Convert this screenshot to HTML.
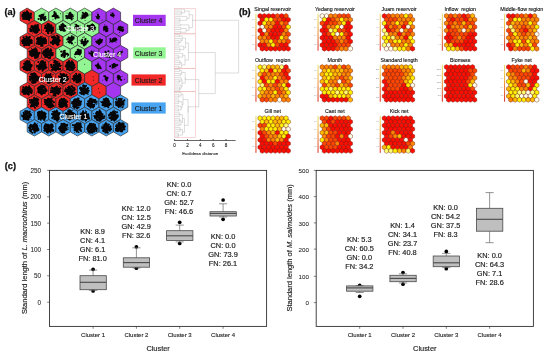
<!DOCTYPE html><html><head><meta charset="utf-8"><title>Figure</title><style>html,body{margin:0;padding:0;background:#fff}svg{display:block}text{font-family:"Liberation Sans",Arial,sans-serif}</style></head><body>
<svg width="550" height="355" viewBox="0 0 550 355">
<rect width="550" height="355" fill="#fff"/>
<g id="som">
<polygon points="27.18,8.10 34.37,12.20 34.37,20.40 27.18,24.50 20.00,20.40 20.00,12.20" fill="#f22828" stroke="#1e1e1e" stroke-width="0.6"/>
<polygon points="41.55,8.10 48.74,12.20 48.74,20.40 41.55,24.50 34.37,20.40 34.37,12.20" fill="#94f594" stroke="#1e1e1e" stroke-width="0.6"/>
<polygon points="55.92,8.10 63.11,12.20 63.11,20.40 55.92,24.50 48.74,20.40 48.74,12.20" fill="#94f594" stroke="#1e1e1e" stroke-width="0.6"/>
<polygon points="70.30,8.10 77.48,12.20 77.48,20.40 70.30,24.50 63.11,20.40 63.11,12.20" fill="#94f594" stroke="#1e1e1e" stroke-width="0.6"/>
<polygon points="84.66,8.10 91.85,12.20 91.85,20.40 84.66,24.50 77.48,20.40 77.48,12.20" fill="#94f594" stroke="#1e1e1e" stroke-width="0.6"/>
<polygon points="99.03,8.10 106.22,12.20 106.22,20.40 99.03,24.50 91.85,20.40 91.85,12.20" fill="#a436f0" stroke="#1e1e1e" stroke-width="0.6"/>
<polygon points="113.41,8.10 120.59,12.20 120.59,20.40 113.41,24.50 106.22,20.40 106.22,12.20" fill="#a436f0" stroke="#1e1e1e" stroke-width="0.6"/>
<polygon points="34.37,20.49 41.55,24.59 41.55,32.79 34.37,36.89 27.18,32.79 27.18,24.59" fill="#f22828" stroke="#1e1e1e" stroke-width="0.6"/>
<polygon points="48.74,20.49 55.93,24.59 55.93,32.79 48.74,36.89 41.55,32.79 41.55,24.59" fill="#f22828" stroke="#1e1e1e" stroke-width="0.6"/>
<polygon points="63.11,20.49 70.30,24.59 70.30,32.79 63.11,36.89 55.92,32.79 55.92,24.59" fill="#94f594" stroke="#1e1e1e" stroke-width="0.6"/>
<polygon points="77.48,20.49 84.67,24.59 84.67,32.79 77.48,36.89 70.30,32.79 70.30,24.59" fill="#94f594" stroke="#1e1e1e" stroke-width="0.6"/>
<polygon points="91.85,20.49 99.03,24.59 99.03,32.79 91.85,36.89 84.66,32.79 84.66,24.59" fill="#94f594" stroke="#1e1e1e" stroke-width="0.6"/>
<polygon points="106.22,20.49 113.41,24.59 113.41,32.79 106.22,36.89 99.03,32.79 99.03,24.59" fill="#a436f0" stroke="#1e1e1e" stroke-width="0.6"/>
<polygon points="120.59,20.49 127.78,24.59 127.78,32.79 120.59,36.89 113.41,32.79 113.41,24.59" fill="#a436f0" stroke="#1e1e1e" stroke-width="0.6"/>
<polygon points="27.18,32.88 34.37,36.98 34.37,45.18 27.18,49.28 20.00,45.18 20.00,36.98" fill="#f22828" stroke="#1e1e1e" stroke-width="0.6"/>
<polygon points="41.55,32.88 48.74,36.98 48.74,45.18 41.55,49.28 34.37,45.18 34.37,36.98" fill="#f22828" stroke="#1e1e1e" stroke-width="0.6"/>
<polygon points="55.92,32.88 63.11,36.98 63.11,45.18 55.92,49.28 48.74,45.18 48.74,36.98" fill="#f22828" stroke="#1e1e1e" stroke-width="0.6"/>
<polygon points="70.30,32.88 77.48,36.98 77.48,45.18 70.30,49.28 63.11,45.18 63.11,36.98" fill="#94f594" stroke="#1e1e1e" stroke-width="0.6"/>
<polygon points="84.66,32.88 91.85,36.98 91.85,45.18 84.66,49.28 77.48,45.18 77.48,36.98" fill="#94f594" stroke="#1e1e1e" stroke-width="0.6"/>
<polygon points="99.03,32.88 106.22,36.98 106.22,45.18 99.03,49.28 91.85,45.18 91.85,36.98" fill="#a436f0" stroke="#1e1e1e" stroke-width="0.6"/>
<polygon points="113.41,32.88 120.59,36.98 120.59,45.18 113.41,49.28 106.22,45.18 106.22,36.98" fill="#a436f0" stroke="#1e1e1e" stroke-width="0.6"/>
<polygon points="34.37,45.27 41.55,49.37 41.55,57.57 34.37,61.67 27.18,57.57 27.18,49.37" fill="#f22828" stroke="#1e1e1e" stroke-width="0.6"/>
<polygon points="48.74,45.27 55.93,49.37 55.93,57.57 48.74,61.67 41.55,57.57 41.55,49.37" fill="#f22828" stroke="#1e1e1e" stroke-width="0.6"/>
<polygon points="63.11,45.27 70.30,49.37 70.30,57.57 63.11,61.67 55.92,57.57 55.92,49.37" fill="#94f594" stroke="#1e1e1e" stroke-width="0.6"/>
<polygon points="77.48,45.27 84.67,49.37 84.67,57.57 77.48,61.67 70.30,57.57 70.30,49.37" fill="#94f594" stroke="#1e1e1e" stroke-width="0.6"/>
<polygon points="91.85,45.27 99.03,49.37 99.03,57.57 91.85,61.67 84.66,57.57 84.66,49.37" fill="#a436f0" stroke="#1e1e1e" stroke-width="0.6"/>
<polygon points="106.22,45.27 113.41,49.37 113.41,57.57 106.22,61.67 99.03,57.57 99.03,49.37" fill="#a436f0" stroke="#1e1e1e" stroke-width="0.6"/>
<polygon points="120.59,45.27 127.78,49.37 127.78,57.57 120.59,61.67 113.41,57.57 113.41,49.37" fill="#a436f0" stroke="#1e1e1e" stroke-width="0.6"/>
<polygon points="27.18,57.66 34.37,61.76 34.37,69.96 27.18,74.06 20.00,69.96 20.00,61.76" fill="#f22828" stroke="#1e1e1e" stroke-width="0.6"/>
<polygon points="41.55,57.66 48.74,61.76 48.74,69.96 41.55,74.06 34.37,69.96 34.37,61.76" fill="#f22828" stroke="#1e1e1e" stroke-width="0.6"/>
<polygon points="55.92,57.66 63.11,61.76 63.11,69.96 55.92,74.06 48.74,69.96 48.74,61.76" fill="#f22828" stroke="#1e1e1e" stroke-width="0.6"/>
<polygon points="70.30,57.66 77.48,61.76 77.48,69.96 70.30,74.06 63.11,69.96 63.11,61.76" fill="#f22828" stroke="#1e1e1e" stroke-width="0.6"/>
<polygon points="84.66,57.66 91.85,61.76 91.85,69.96 84.66,74.06 77.48,69.96 77.48,61.76" fill="#94f594" stroke="#1e1e1e" stroke-width="0.6"/>
<polygon points="99.03,57.66 106.22,61.76 106.22,69.96 99.03,74.06 91.85,69.96 91.85,61.76" fill="#a436f0" stroke="#1e1e1e" stroke-width="0.6"/>
<polygon points="113.41,57.66 120.59,61.76 120.59,69.96 113.41,74.06 106.22,69.96 106.22,61.76" fill="#a436f0" stroke="#1e1e1e" stroke-width="0.6"/>
<polygon points="34.37,70.05 41.55,74.15 41.55,82.35 34.37,86.45 27.18,82.35 27.18,74.15" fill="#f22828" stroke="#1e1e1e" stroke-width="0.6"/>
<polygon points="48.74,70.05 55.93,74.15 55.93,82.35 48.74,86.45 41.55,82.35 41.55,74.15" fill="#f22828" stroke="#1e1e1e" stroke-width="0.6"/>
<polygon points="63.11,70.05 70.30,74.15 70.30,82.35 63.11,86.45 55.92,82.35 55.92,74.15" fill="#f22828" stroke="#1e1e1e" stroke-width="0.6"/>
<polygon points="77.48,70.05 84.67,74.15 84.67,82.35 77.48,86.45 70.30,82.35 70.30,74.15" fill="#f22828" stroke="#1e1e1e" stroke-width="0.6"/>
<polygon points="91.85,70.05 99.03,74.15 99.03,82.35 91.85,86.45 84.66,82.35 84.66,74.15" fill="#f22828" stroke="#1e1e1e" stroke-width="0.6"/>
<polygon points="106.22,70.05 113.41,74.15 113.41,82.35 106.22,86.45 99.03,82.35 99.03,74.15" fill="#a436f0" stroke="#1e1e1e" stroke-width="0.6"/>
<polygon points="120.59,70.05 127.78,74.15 127.78,82.35 120.59,86.45 113.41,82.35 113.41,74.15" fill="#a436f0" stroke="#1e1e1e" stroke-width="0.6"/>
<polygon points="27.18,82.44 34.37,86.54 34.37,94.74 27.18,98.84 20.00,94.74 20.00,86.54" fill="#f22828" stroke="#1e1e1e" stroke-width="0.6"/>
<polygon points="41.55,82.44 48.74,86.54 48.74,94.74 41.55,98.84 34.37,94.74 34.37,86.54" fill="#f22828" stroke="#1e1e1e" stroke-width="0.6"/>
<polygon points="55.92,82.44 63.11,86.54 63.11,94.74 55.92,98.84 48.74,94.74 48.74,86.54" fill="#f22828" stroke="#1e1e1e" stroke-width="0.6"/>
<polygon points="70.30,82.44 77.48,86.54 77.48,94.74 70.30,98.84 63.11,94.74 63.11,86.54" fill="#f22828" stroke="#1e1e1e" stroke-width="0.6"/>
<polygon points="84.66,82.44 91.85,86.54 91.85,94.74 84.66,98.84 77.48,94.74 77.48,86.54" fill="#48a4f0" stroke="#1e1e1e" stroke-width="0.6"/>
<polygon points="99.03,82.44 106.22,86.54 106.22,94.74 99.03,98.84 91.85,94.74 91.85,86.54" fill="#f22828" stroke="#1e1e1e" stroke-width="0.6"/>
<polygon points="113.41,82.44 120.59,86.54 120.59,94.74 113.41,98.84 106.22,94.74 106.22,86.54" fill="#a436f0" stroke="#1e1e1e" stroke-width="0.6"/>
<polygon points="34.37,94.83 41.55,98.93 41.55,107.13 34.37,111.23 27.18,107.13 27.18,98.93" fill="#f22828" stroke="#1e1e1e" stroke-width="0.6"/>
<polygon points="48.74,94.83 55.93,98.93 55.93,107.13 48.74,111.23 41.55,107.13 41.55,98.93" fill="#f22828" stroke="#1e1e1e" stroke-width="0.6"/>
<polygon points="63.11,94.83 70.30,98.93 70.30,107.13 63.11,111.23 55.92,107.13 55.92,98.93" fill="#f22828" stroke="#1e1e1e" stroke-width="0.6"/>
<polygon points="77.48,94.83 84.67,98.93 84.67,107.13 77.48,111.23 70.30,107.13 70.30,98.93" fill="#48a4f0" stroke="#1e1e1e" stroke-width="0.6"/>
<polygon points="91.85,94.83 99.03,98.93 99.03,107.13 91.85,111.23 84.66,107.13 84.66,98.93" fill="#48a4f0" stroke="#1e1e1e" stroke-width="0.6"/>
<polygon points="106.22,94.83 113.41,98.93 113.41,107.13 106.22,111.23 99.03,107.13 99.03,98.93" fill="#48a4f0" stroke="#1e1e1e" stroke-width="0.6"/>
<polygon points="120.59,94.83 127.78,98.93 127.78,107.13 120.59,111.23 113.41,107.13 113.41,98.93" fill="#48a4f0" stroke="#1e1e1e" stroke-width="0.6"/>
<polygon points="27.18,107.22 34.37,111.32 34.37,119.52 27.18,123.62 20.00,119.52 20.00,111.32" fill="#48a4f0" stroke="#1e1e1e" stroke-width="0.6"/>
<polygon points="41.55,107.22 48.74,111.32 48.74,119.52 41.55,123.62 34.37,119.52 34.37,111.32" fill="#48a4f0" stroke="#1e1e1e" stroke-width="0.6"/>
<polygon points="55.92,107.22 63.11,111.32 63.11,119.52 55.92,123.62 48.74,119.52 48.74,111.32" fill="#48a4f0" stroke="#1e1e1e" stroke-width="0.6"/>
<polygon points="70.30,107.22 77.48,111.32 77.48,119.52 70.30,123.62 63.11,119.52 63.11,111.32" fill="#48a4f0" stroke="#1e1e1e" stroke-width="0.6"/>
<polygon points="84.66,107.22 91.85,111.32 91.85,119.52 84.66,123.62 77.48,119.52 77.48,111.32" fill="#48a4f0" stroke="#1e1e1e" stroke-width="0.6"/>
<polygon points="99.03,107.22 106.22,111.32 106.22,119.52 99.03,123.62 91.85,119.52 91.85,111.32" fill="#48a4f0" stroke="#1e1e1e" stroke-width="0.6"/>
<polygon points="113.41,107.22 120.59,111.32 120.59,119.52 113.41,123.62 106.22,119.52 106.22,111.32" fill="#48a4f0" stroke="#1e1e1e" stroke-width="0.6"/>
<polygon points="34.37,119.61 41.55,123.71 41.55,131.91 34.37,136.01 27.18,131.91 27.18,123.71" fill="#48a4f0" stroke="#1e1e1e" stroke-width="0.6"/>
<polygon points="48.74,119.61 55.93,123.71 55.93,131.91 48.74,136.01 41.55,131.91 41.55,123.71" fill="#48a4f0" stroke="#1e1e1e" stroke-width="0.6"/>
<polygon points="63.11,119.61 70.30,123.71 70.30,131.91 63.11,136.01 55.92,131.91 55.92,123.71" fill="#48a4f0" stroke="#1e1e1e" stroke-width="0.6"/>
<polygon points="77.48,119.61 84.67,123.71 84.67,131.91 77.48,136.01 70.30,131.91 70.30,123.71" fill="#48a4f0" stroke="#1e1e1e" stroke-width="0.6"/>
<polygon points="91.85,119.61 99.03,123.71 99.03,131.91 91.85,136.01 84.66,131.91 84.66,123.71" fill="#48a4f0" stroke="#1e1e1e" stroke-width="0.6"/>
<polygon points="106.22,119.61 113.41,123.71 113.41,131.91 106.22,136.01 99.03,131.91 99.03,123.71" fill="#48a4f0" stroke="#1e1e1e" stroke-width="0.6"/>
<polygon points="120.59,119.61 127.78,123.71 127.78,131.91 120.59,136.01 113.41,131.91 113.41,123.71" fill="#48a4f0" stroke="#1e1e1e" stroke-width="0.6"/>
<path fill="none" stroke="#060606" stroke-width="2.1" stroke-linecap="round" d="M27.6 14.8h0M28.7 14.8h0M25.3 16.8h0M30.3 17.1h0M24.7 13.3h0M26.3 15.4h0M25.7 15.3h0M23.7 15.0h0M26.6 14.7h0M27.5 17.0h0M23.7 14.4h0M22.5 14.9h0M29.3 14.7h0M29.1 20.1h0M26.1 18.8h0M23.6 17.0h0M25.5 15.7h0M29.6 14.7h0M30.1 17.5h0M28.1 13.6h0M28.8 17.0h0M31.1 17.6h0M23.5 13.9h0M29.4 14.9h0M25.2 15.9h0M26.9 13.2h0M25.5 15.9h0M26.8 17.3h0M23.1 14.5h0M26.0 13.5h0M28.4 16.6h0M26.8 17.3h0M25.3 14.4h0M26.9 12.9h0M30.9 14.6h0M24.9 17.5h0M25.7 16.9h0M25.9 16.3h0M29.9 17.9h0M30.6 14.7h0M27.8 18.4h0M30.6 14.8h0M29.4 17.9h0M24.8 16.1h0M27.1 11.4h0M25.9 12.8h0M29.5 15.1h0M31.0 13.5h0M26.4 14.9h0M27.6 19.1h0M24.7 13.1h0M27.2 14.1h0M23.2 18.7h0M22.7 16.0h0M27.8 12.9h0M25.1 14.3h0M26.7 13.4h0M28.2 16.5h0M25.5 18.5h0M27.0 15.7h0M24.9 19.0h0M29.0 17.7h0M26.3 15.0h0M26.6 12.9h0M28.4 16.6h0M30.6 16.5h0M25.0 12.8h0M26.5 15.7h0M26.9 14.6h0M27.5 15.4h0M22.5 15.8h0M28.4 12.9h0M28.1 14.9h0M23.5 12.9h0M29.4 18.7h0M30.8 17.4h0M22.5 16.4h0M28.7 16.5h0M29.5 17.5h0M27.8 15.2h0M30.7 15.2h0M26.5 19.0h0M25.1 15.7h0M43.8 19.5h0M44.5 20.1h0M43.2 18.8h0M41.5 18.1h0M42.1 16.7h0M41.8 17.2h0M40.6 15.5h0M45.3 16.8h0M43.3 18.0h0M42.4 15.7h0M38.6 19.0h0M42.1 18.1h0M39.5 15.9h0M44.7 18.1h0M42.4 16.4h0M45.5 18.6h0M40.9 19.1h0M42.0 18.1h0M42.2 18.0h0M43.3 17.5h0M41.1 20.0h0M41.0 17.1h0M43.5 17.3h0M41.9 14.8h0M42.9 15.3h0M43.1 15.5h0M43.5 14.6h0M40.7 18.0h0M42.6 17.6h0M56.7 15.9h0M56.6 15.7h0M56.1 15.1h0M55.0 16.4h0M54.7 14.9h0M57.7 17.4h0M54.0 15.0h0M54.9 15.4h0M55.8 15.1h0M55.7 13.8h0M55.0 14.1h0M54.7 15.3h0M54.9 14.1h0M54.7 14.1h0M55.3 13.9h0M57.6 16.1h0M54.4 12.1h0M55.7 16.1h0M56.7 15.5h0M55.6 15.9h0M55.3 17.0h0M58.5 17.3h0M56.9 16.9h0M52.6 16.3h0M55.5 18.4h0M54.3 14.5h0M58.3 17.4h0M57.4 16.5h0M54.2 15.0h0M54.6 13.9h0M53.6 16.0h0M56.2 16.5h0M55.0 14.6h0M55.1 16.4h0M55.1 16.4h0M66.2 16.1h0M71.7 19.4h0M67.3 17.5h0M68.9 16.6h0M68.8 17.4h0M70.5 15.6h0M69.4 14.8h0M67.0 18.1h0M72.0 14.8h0M69.4 16.6h0M68.9 15.3h0M68.2 16.6h0M69.9 14.3h0M69.6 14.4h0M68.5 15.7h0M71.1 15.3h0M71.7 18.6h0M71.3 14.9h0M68.4 16.7h0M69.4 13.7h0M69.7 17.9h0M71.2 17.6h0M66.5 16.0h0M68.1 16.5h0M67.7 16.9h0M70.5 17.9h0M67.5 18.2h0M72.8 16.4h0M69.5 14.9h0M69.5 14.1h0M67.9 18.0h0M70.3 12.9h0M70.8 15.1h0M68.2 16.6h0M70.4 15.9h0M69.8 13.1h0M68.9 16.1h0M71.3 15.2h0M66.8 16.9h0M70.7 13.8h0M70.1 15.6h0M70.4 16.0h0M72.0 16.6h0M84.3 17.0h0M82.8 12.7h0M85.0 16.5h0M84.5 14.0h0M82.5 15.3h0M84.8 17.7h0M84.9 15.7h0M82.7 16.5h0M85.6 12.8h0M85.4 14.3h0M85.0 14.0h0M83.8 15.3h0M82.8 16.5h0M85.8 16.6h0M85.7 15.2h0M86.4 15.9h0M86.8 13.6h0M86.2 14.7h0M87.3 14.3h0M84.1 14.0h0M84.4 16.2h0M84.6 16.8h0M83.0 17.7h0M84.4 15.5h0M82.3 17.9h0M82.6 17.9h0M82.4 16.9h0M85.3 15.4h0M86.0 14.7h0M86.0 14.4h0M87.0 14.7h0M84.6 13.9h0M87.6 15.4h0M98.5 18.4h0M99.1 16.7h0M98.2 16.3h0M98.4 17.3h0M97.1 16.7h0M98.1 16.9h0M97.2 17.9h0M98.0 14.8h0M113.0 16.0h0M112.7 13.5h0M113.8 15.4h0M112.1 15.2h0M112.1 15.4h0M111.9 15.4h0M112.2 15.8h0M111.1 15.1h0M30.2 29.0h0M35.5 27.9h0M36.1 29.4h0M36.7 26.2h0M31.9 26.3h0M33.9 29.3h0M34.8 31.8h0M35.0 28.7h0M34.1 26.8h0M36.2 32.7h0M36.0 28.8h0M31.4 27.2h0M36.9 31.7h0M34.4 30.4h0M33.6 31.4h0M30.4 30.9h0M33.7 29.6h0M34.9 28.6h0M30.6 30.5h0M37.0 26.4h0M38.1 28.6h0M35.8 27.7h0M32.8 30.5h0M34.2 31.3h0M37.2 30.2h0M36.5 27.9h0M37.8 26.3h0M37.3 32.1h0M30.8 31.1h0M35.6 29.9h0M32.4 28.0h0M34.9 32.4h0M38.0 29.1h0M32.2 26.4h0M33.9 30.8h0M31.5 30.0h0M34.3 28.5h0M33.0 28.4h0M35.4 25.5h0M33.7 28.5h0M33.8 28.8h0M34.1 28.2h0M38.5 30.4h0M34.0 28.2h0M35.5 26.7h0M37.2 32.2h0M37.0 29.2h0M35.4 27.0h0M36.4 27.4h0M32.6 28.2h0M35.5 29.7h0M35.1 27.1h0M33.3 26.5h0M31.7 27.1h0M31.3 31.1h0M38.2 28.1h0M35.1 25.5h0M34.8 27.5h0M34.8 31.9h0M31.6 26.3h0M35.5 28.3h0M32.8 26.5h0M35.9 27.5h0M34.5 27.8h0M34.1 29.3h0M35.4 31.6h0M35.9 31.7h0M35.5 29.2h0M37.9 25.1h0M34.8 28.7h0M32.7 27.4h0M32.3 27.8h0M39.0 29.9h0M46.4 28.0h0M49.9 28.1h0M48.1 27.6h0M52.6 29.9h0M51.7 30.3h0M46.2 31.0h0M50.8 25.9h0M48.7 28.6h0M50.9 28.1h0M49.6 26.1h0M47.4 28.0h0M51.8 31.1h0M53.1 28.1h0M51.5 31.6h0M49.7 29.0h0M49.1 26.9h0M45.1 27.8h0M49.1 24.4h0M49.0 30.5h0M52.8 31.0h0M47.5 28.9h0M47.6 26.9h0M48.8 31.2h0M53.3 30.0h0M49.4 25.0h0M47.9 33.0h0M52.2 29.3h0M48.1 28.8h0M47.8 23.7h0M48.3 31.5h0M47.9 33.0h0M48.3 29.7h0M52.1 27.8h0M51.6 32.8h0M49.2 30.3h0M49.3 25.6h0M47.8 28.2h0M48.9 25.8h0M47.4 30.3h0M47.4 28.2h0M45.5 26.4h0M52.4 29.4h0M51.0 26.5h0M47.6 31.4h0M48.9 30.6h0M46.4 25.4h0M48.5 33.2h0M45.8 25.8h0M48.3 25.1h0M48.0 27.2h0M50.3 30.5h0M48.8 30.0h0M51.0 29.0h0M51.0 28.7h0M47.9 25.2h0M51.2 25.4h0M51.7 26.0h0M49.2 30.4h0M47.1 29.5h0M50.6 27.4h0M48.6 27.1h0M48.4 28.7h0M45.0 28.2h0M50.9 27.2h0M48.9 30.6h0M50.7 28.1h0M50.7 26.2h0M48.5 28.7h0M47.3 30.5h0M61.4 28.6h0M62.1 28.7h0M62.7 23.8h0M63.5 30.6h0M63.1 28.6h0M63.8 25.6h0M61.8 27.3h0M61.5 29.6h0M63.7 26.0h0M62.1 27.5h0M61.0 30.2h0M62.0 28.6h0M63.0 27.8h0M62.7 28.9h0M61.2 27.9h0M62.1 26.4h0M63.3 27.3h0M65.3 26.1h0M64.0 25.7h0M66.9 28.0h0M62.9 28.5h0M63.2 30.5h0M64.9 30.6h0M64.6 30.7h0M63.4 25.3h0M63.7 24.7h0M62.2 25.8h0M59.8 29.0h0M62.8 28.9h0M62.3 27.7h0M64.1 29.2h0M59.7 26.9h0M63.9 26.2h0M61.3 25.0h0M61.4 26.0h0M79.3 29.3h0M77.7 25.9h0M77.0 29.4h0M78.6 28.4h0M75.9 28.0h0M78.3 26.9h0M76.5 28.0h0M77.1 27.1h0M75.8 27.4h0M76.7 28.4h0M78.1 26.3h0M79.1 28.6h0M76.7 28.6h0M76.1 24.9h0M79.5 28.5h0M78.4 30.0h0M76.7 28.3h0M80.6 28.2h0M76.4 30.3h0M77.5 28.3h0M75.4 27.1h0M75.4 28.0h0M77.6 26.3h0M76.8 28.3h0M78.9 30.2h0M78.9 28.8h0M76.1 26.7h0M91.7 24.9h0M91.1 27.0h0M90.7 25.8h0M91.5 27.8h0M91.5 27.1h0M91.1 26.7h0M90.6 27.8h0M89.4 26.9h0M93.3 30.4h0M89.6 25.7h0M88.8 29.9h0M91.7 25.4h0M92.0 26.3h0M94.7 27.3h0M90.5 29.6h0M89.2 29.8h0M93.9 25.7h0M92.7 27.8h0M88.3 26.0h0M94.6 28.7h0M92.9 26.0h0M93.2 25.1h0M92.7 26.9h0M88.1 26.7h0M89.0 26.0h0M91.6 29.2h0M91.8 25.8h0M92.3 24.8h0M87.7 25.9h0M89.1 27.5h0M91.7 28.9h0M90.7 26.1h0M89.4 29.1h0M93.3 29.4h0M92.6 29.9h0M90.8 27.7h0M95.0 27.6h0M89.9 27.2h0M105.9 26.6h0M107.5 28.7h0M106.7 28.6h0M106.7 29.4h0M105.1 28.9h0M104.7 27.8h0M106.3 29.0h0M104.0 29.5h0M104.3 27.0h0M105.6 27.2h0M107.4 30.7h0M105.5 29.6h0M106.2 31.2h0M103.9 28.0h0M106.6 26.7h0M104.7 26.9h0M119.3 27.8h0M120.0 28.6h0M120.1 27.9h0M120.2 27.5h0M123.2 29.9h0M120.0 30.3h0M122.7 27.6h0M120.9 29.2h0M122.4 30.4h0M121.7 27.5h0M118.8 27.8h0M121.3 27.5h0M119.8 27.5h0M120.1 28.4h0M120.2 26.9h0M121.4 30.2h0M119.7 28.9h0M120.6 28.9h0M121.1 27.7h0M120.6 29.3h0M118.2 29.3h0M122.5 30.9h0M122.8 29.9h0M119.9 27.4h0M27.5 40.3h0M27.6 38.6h0M31.8 40.9h0M27.9 43.5h0M27.5 44.3h0M28.7 45.0h0M27.1 41.9h0M24.4 38.9h0M27.8 44.4h0M28.1 37.6h0M30.8 42.6h0M26.6 40.0h0M24.2 45.3h0M26.3 40.9h0M28.1 43.1h0M30.0 41.0h0M25.4 40.7h0M26.2 38.3h0M31.8 42.9h0M23.6 41.0h0M26.3 40.7h0M27.1 42.5h0M30.2 43.2h0M30.4 41.3h0M22.7 40.3h0M29.7 37.8h0M29.0 43.0h0M26.5 42.2h0M29.1 43.6h0M28.9 43.7h0M29.3 45.2h0M24.6 42.7h0M24.1 40.4h0M27.2 38.5h0M25.3 43.3h0M27.3 40.1h0M23.4 42.6h0M25.8 40.7h0M26.2 40.9h0M31.3 40.0h0M23.5 37.3h0M27.3 40.4h0M26.4 44.9h0M26.8 44.1h0M28.9 40.2h0M26.0 39.8h0M29.9 40.0h0M23.6 41.6h0M27.8 41.9h0M24.9 42.1h0M29.6 42.6h0M24.1 38.7h0M28.1 44.9h0M23.3 39.8h0M26.0 42.7h0M24.2 40.7h0M29.3 41.1h0M27.0 44.3h0M27.0 39.3h0M28.8 38.8h0M24.6 42.7h0M28.3 42.1h0M26.7 39.3h0M24.4 44.1h0M29.7 36.9h0M26.5 36.5h0M22.2 41.6h0M28.0 40.2h0M31.3 41.0h0M22.7 43.2h0M24.7 39.2h0M22.7 42.0h0M24.2 43.0h0M24.7 45.1h0M23.9 40.9h0M26.3 42.3h0M25.8 40.3h0M24.5 45.5h0M28.5 40.4h0M27.1 40.7h0M23.9 39.6h0M27.3 37.6h0M37.9 41.0h0M42.1 42.2h0M38.0 43.3h0M38.2 39.1h0M43.1 42.2h0M43.1 41.9h0M40.2 39.4h0M43.8 39.9h0M39.4 38.9h0M42.6 45.7h0M44.1 42.1h0M38.3 39.6h0M41.2 40.7h0M40.6 38.1h0M40.4 41.6h0M42.7 41.3h0M37.0 39.1h0M40.0 40.9h0M40.2 40.2h0M40.7 41.0h0M43.8 40.1h0M37.5 42.8h0M40.1 38.2h0M41.4 42.9h0M38.1 37.7h0M42.7 41.6h0M42.9 41.2h0M41.3 40.3h0M41.4 42.6h0M40.1 40.2h0M43.0 39.1h0M41.2 45.8h0M44.5 42.4h0M39.2 39.8h0M41.2 40.5h0M42.5 41.7h0M46.1 41.2h0M39.9 42.6h0M39.5 43.9h0M36.7 43.4h0M39.3 42.7h0M39.6 41.7h0M41.9 39.4h0M42.3 43.7h0M38.8 40.1h0M41.4 43.2h0M38.6 42.8h0M40.5 43.5h0M43.5 38.3h0M44.4 40.9h0M44.2 40.8h0M40.1 40.9h0M40.8 40.1h0M40.9 37.0h0M41.0 39.7h0M40.4 37.5h0M41.5 42.5h0M46.0 43.1h0M41.4 39.5h0M42.9 42.0h0M39.5 42.3h0M38.1 41.7h0M38.5 44.1h0M41.7 40.7h0M42.2 40.4h0M40.9 44.2h0M40.2 38.9h0M37.7 42.6h0M41.1 38.0h0M44.1 39.9h0M38.5 41.0h0M39.8 38.3h0M44.3 43.5h0M45.1 38.2h0M43.3 41.5h0M41.8 43.8h0M43.7 40.2h0M37.7 40.9h0M39.3 39.0h0M42.2 44.3h0M41.8 38.3h0M45.4 39.7h0M41.9 42.2h0M41.4 42.8h0M42.3 42.9h0M40.5 40.0h0M38.6 41.2h0M44.9 41.1h0M39.0 38.2h0M40.5 38.0h0M40.5 40.1h0M44.5 39.7h0M45.7 40.4h0M42.2 44.4h0M40.6 41.0h0M40.9 42.1h0M42.6 40.7h0M39.5 40.2h0M43.8 41.7h0M37.4 41.3h0M41.2 39.2h0M56.1 41.3h0M56.8 39.0h0M52.5 37.0h0M57.9 44.7h0M55.6 38.6h0M56.7 38.8h0M53.3 40.0h0M55.7 41.6h0M52.4 37.4h0M54.2 40.8h0M54.8 40.3h0M57.1 43.2h0M56.3 41.2h0M57.2 44.6h0M58.4 36.6h0M53.8 41.8h0M53.0 40.6h0M52.2 42.3h0M56.9 40.0h0M52.6 42.0h0M56.0 41.8h0M52.3 37.6h0M54.1 37.7h0M54.4 39.1h0M56.1 40.4h0M54.5 38.3h0M54.4 38.7h0M53.0 42.4h0M54.7 41.6h0M58.2 38.8h0M56.9 39.3h0M53.8 40.5h0M53.9 40.2h0M58.0 42.8h0M58.0 42.1h0M50.9 42.7h0M54.7 36.6h0M59.8 40.6h0M56.9 38.6h0M58.9 40.0h0M58.6 44.2h0M55.9 43.3h0M54.2 39.8h0M55.0 38.2h0M51.9 37.2h0M55.6 38.5h0M53.7 36.5h0M52.8 43.8h0M55.5 40.1h0M58.3 42.7h0M55.6 42.5h0M57.5 38.0h0M56.9 41.0h0M57.0 43.8h0M54.7 38.5h0M57.9 38.6h0M54.9 42.1h0M58.9 37.5h0M57.6 45.1h0M53.4 42.6h0M57.1 38.7h0M54.9 40.2h0M57.2 41.2h0M52.4 41.5h0M55.5 41.0h0M55.4 41.3h0M56.5 40.8h0M54.7 39.0h0M53.7 40.8h0M58.9 41.5h0M58.7 37.7h0M54.1 39.0h0M57.1 35.8h0M54.8 38.8h0M55.5 37.8h0M53.8 43.4h0M57.8 41.7h0M58.6 40.6h0M55.8 42.7h0M55.9 41.1h0M53.0 41.6h0M55.2 42.3h0M55.0 42.9h0M58.7 39.2h0M57.1 43.9h0M52.9 44.3h0M56.3 40.1h0M57.3 39.6h0M57.2 41.0h0M55.2 39.1h0M56.7 44.1h0M54.7 39.5h0M59.1 40.0h0M56.8 42.1h0M58.3 38.2h0M56.2 43.0h0M54.1 38.7h0M69.9 42.8h0M68.4 41.7h0M71.3 40.4h0M67.3 39.4h0M69.9 41.5h0M71.8 39.3h0M69.8 39.5h0M71.9 38.1h0M69.3 37.8h0M70.4 37.7h0M69.5 39.8h0M70.2 39.8h0M72.2 40.0h0M70.3 39.4h0M72.0 43.4h0M68.5 38.1h0M73.7 37.3h0M69.2 39.8h0M71.9 43.5h0M70.9 39.8h0M73.6 38.6h0M71.3 42.0h0M69.0 42.2h0M71.4 40.2h0M71.1 42.0h0M69.6 40.8h0M72.1 39.8h0M71.2 40.2h0M71.0 41.9h0M72.4 39.8h0M71.8 36.4h0M85.6 44.5h0M85.2 44.5h0M84.0 45.4h0M86.0 42.5h0M82.8 42.3h0M85.4 41.8h0M85.4 43.5h0M82.6 42.4h0M85.6 44.5h0M85.1 43.1h0M85.3 41.0h0M87.7 41.1h0M83.5 43.1h0M84.2 42.2h0M81.6 43.3h0M86.7 42.1h0M81.3 41.2h0M87.7 41.5h0M82.3 42.9h0M85.6 41.6h0M82.8 42.5h0M86.4 42.0h0M83.6 44.6h0M83.8 43.2h0M85.6 39.0h0M86.6 42.8h0M82.2 39.9h0M83.8 41.9h0M85.1 40.0h0M85.1 41.9h0M98.2 40.3h0M99.2 43.4h0M101.5 41.3h0M98.9 42.6h0M100.1 43.0h0M98.7 41.8h0M100.0 39.9h0M97.3 42.2h0M96.3 41.6h0M99.0 44.2h0M98.7 43.4h0M100.1 39.2h0M100.4 40.5h0M100.5 42.5h0M99.9 39.9h0M100.7 41.1h0M100.5 42.1h0M99.0 40.9h0M97.2 42.7h0M100.0 42.5h0M99.6 42.0h0M97.7 42.4h0M101.4 42.1h0M102.1 40.0h0M110.9 40.8h0M112.6 41.2h0M114.8 38.5h0M114.3 40.4h0M111.4 41.1h0M113.9 38.6h0M112.9 39.4h0M115.2 40.8h0M113.4 39.3h0M116.4 39.7h0M110.4 39.1h0M113.8 41.1h0M114.0 40.7h0M110.5 41.1h0M113.8 39.0h0M116.0 38.7h0M113.1 40.7h0M114.6 40.2h0M115.4 38.6h0M114.1 39.2h0M112.1 41.7h0M114.6 39.4h0M38.2 56.0h0M37.1 53.7h0M34.8 56.0h0M34.9 55.5h0M30.4 52.2h0M35.8 55.3h0M32.8 51.9h0M35.8 53.3h0M33.2 53.3h0M33.2 51.7h0M37.0 51.0h0M34.3 55.8h0M32.2 52.9h0M35.2 56.8h0M32.1 50.2h0M36.3 52.5h0M33.3 50.0h0M35.2 53.5h0M34.5 52.8h0M32.7 54.0h0M37.6 52.9h0M34.0 51.8h0M36.3 57.8h0M37.5 57.2h0M33.8 53.4h0M34.1 52.0h0M33.5 49.5h0M32.9 53.1h0M33.6 50.6h0M34.6 54.4h0M35.0 58.0h0M31.9 54.3h0M35.4 52.8h0M30.4 54.8h0M35.4 49.8h0M33.6 55.2h0M35.4 55.1h0M33.7 51.9h0M35.1 55.4h0M36.5 54.0h0M35.1 56.9h0M36.8 54.7h0M35.3 48.4h0M34.9 55.3h0M30.7 51.4h0M30.2 54.2h0M36.9 51.6h0M33.3 52.9h0M34.7 54.7h0M35.3 55.4h0M33.1 55.5h0M36.4 49.6h0M30.4 54.6h0M35.5 55.5h0M37.4 54.2h0M33.4 51.1h0M37.7 55.2h0M32.0 56.2h0M37.8 53.5h0M33.6 55.2h0M34.4 54.8h0M32.2 52.9h0M33.6 53.1h0M36.1 52.8h0M39.6 53.0h0M32.5 53.0h0M34.9 53.9h0M33.8 51.8h0M35.5 54.2h0M36.8 53.4h0M36.7 55.4h0M33.4 52.0h0M34.7 50.5h0M34.7 52.6h0M35.6 54.4h0M35.2 55.3h0M34.4 50.2h0M38.5 54.3h0M32.8 53.3h0M34.5 51.8h0M32.8 49.9h0M32.1 53.1h0M33.6 52.9h0M36.5 54.2h0M35.2 50.8h0M32.4 53.5h0M34.0 54.2h0M35.1 49.9h0M31.6 55.7h0M30.2 53.1h0M32.3 50.6h0M35.2 49.1h0M35.3 52.0h0M29.6 51.5h0M33.0 51.3h0M34.6 51.2h0M49.2 50.7h0M46.1 53.7h0M45.3 56.9h0M48.0 54.1h0M47.4 50.5h0M48.7 51.9h0M52.7 54.3h0M49.1 58.3h0M50.2 51.5h0M51.1 52.3h0M50.0 57.4h0M48.2 53.1h0M50.8 52.1h0M48.2 55.4h0M43.6 51.5h0M47.8 52.2h0M46.4 50.1h0M44.5 52.6h0M45.9 53.1h0M52.7 54.7h0M45.7 52.1h0M51.4 50.5h0M50.4 53.6h0M45.5 51.4h0M45.0 55.7h0M47.4 57.2h0M45.7 52.4h0M45.6 49.5h0M47.5 51.2h0M44.1 51.0h0M47.5 54.2h0M49.3 52.0h0M49.3 55.0h0M47.5 55.4h0M49.8 52.7h0M49.8 52.5h0M47.1 53.5h0M46.3 54.6h0M48.1 54.8h0M43.7 54.5h0M48.6 50.9h0M48.4 50.3h0M46.3 49.4h0M47.4 56.5h0M48.4 52.4h0M46.1 52.1h0M48.1 54.9h0M44.3 51.8h0M44.4 55.4h0M47.0 56.4h0M45.7 50.2h0M46.9 55.2h0M47.3 54.4h0M45.3 52.5h0M49.3 52.3h0M50.6 54.1h0M50.5 50.1h0M45.6 54.9h0M50.7 49.4h0M50.4 56.1h0M42.9 53.1h0M48.1 48.5h0M49.2 52.2h0M47.3 49.8h0M51.4 54.5h0M48.0 54.8h0M51.4 55.2h0M49.0 50.8h0M52.5 55.2h0M51.8 53.2h0M48.1 53.9h0M44.0 51.5h0M48.8 52.0h0M46.7 51.4h0M46.7 52.4h0M49.5 57.7h0M47.7 52.9h0M51.2 53.6h0M51.5 54.4h0M46.1 51.8h0M46.7 52.1h0M52.8 53.0h0M46.9 53.3h0M46.6 49.5h0M47.4 54.4h0M47.9 54.7h0M63.5 51.4h0M64.1 54.6h0M63.5 51.7h0M63.3 55.2h0M65.6 54.2h0M64.8 55.9h0M64.7 52.4h0M64.9 55.0h0M64.6 52.3h0M64.6 55.0h0M62.7 54.2h0M68.1 54.9h0M63.8 52.5h0M64.6 53.5h0M64.6 56.7h0M67.5 54.5h0M63.5 54.4h0M63.3 54.2h0M61.2 51.6h0M63.2 53.3h0M65.5 53.3h0M63.2 53.8h0M61.6 55.0h0M63.5 52.4h0M63.9 53.7h0M61.7 56.0h0M64.2 57.0h0M63.0 54.5h0M63.5 53.9h0M65.4 54.2h0M64.8 50.9h0M64.0 53.8h0M67.3 53.8h0M65.3 54.7h0M64.5 57.1h0M77.3 52.7h0M79.3 51.2h0M75.9 52.8h0M78.3 52.2h0M76.8 52.4h0M80.7 52.9h0M79.5 50.2h0M79.8 54.4h0M77.4 53.1h0M76.7 52.4h0M77.7 49.7h0M79.3 53.7h0M78.2 51.9h0M80.8 52.4h0M78.8 53.2h0M76.5 51.7h0M76.3 54.0h0M80.3 51.5h0M80.7 51.2h0M80.5 53.3h0M75.1 54.2h0M79.7 52.2h0M78.1 54.1h0M77.8 53.4h0M80.4 52.5h0M78.3 49.8h0M78.1 51.5h0M77.8 53.0h0M80.8 50.4h0M78.4 50.1h0M92.1 55.4h0M92.4 56.0h0M91.9 54.5h0M91.1 54.0h0M92.0 54.1h0M90.5 53.5h0M91.8 54.8h0M91.6 51.6h0M93.5 53.1h0M92.6 53.9h0M91.7 53.8h0M92.6 53.5h0M89.5 53.3h0M93.1 52.6h0M93.1 52.8h0M92.7 53.5h0M91.7 54.4h0M91.7 55.3h0M91.5 54.3h0M92.7 53.4h0M106.3 53.8h0M105.5 51.9h0M106.8 55.5h0M106.1 53.4h0M108.4 51.4h0M107.0 55.1h0M108.9 54.7h0M106.2 53.9h0M107.0 56.6h0M107.5 54.6h0M106.6 54.4h0M107.3 53.7h0M106.2 54.0h0M105.8 53.0h0M106.2 55.3h0M108.2 54.0h0M105.8 56.0h0M109.4 57.1h0M105.6 56.2h0M107.3 54.8h0M119.3 53.6h0M120.2 53.2h0M121.9 52.0h0M118.7 54.0h0M120.5 53.2h0M118.7 52.9h0M118.9 53.9h0M120.2 52.3h0M117.8 55.5h0M118.3 54.2h0M120.3 55.1h0M119.2 54.5h0M117.8 55.4h0M119.1 53.3h0M119.0 54.8h0M118.1 54.1h0M118.1 55.3h0M27.3 68.6h0M29.3 61.2h0M27.2 65.3h0M27.9 62.4h0M25.9 67.6h0M27.1 66.4h0M25.5 63.0h0M30.0 66.1h0M23.1 67.3h0M31.8 65.2h0M26.8 67.3h0M28.8 66.1h0M26.5 65.9h0M29.7 62.8h0M25.4 66.2h0M28.8 66.1h0M26.6 62.9h0M27.7 70.3h0M28.6 62.9h0M25.2 65.2h0M25.7 65.1h0M25.7 69.3h0M26.5 66.3h0M27.8 64.1h0M27.6 67.1h0M31.0 65.1h0M23.4 67.5h0M28.1 65.3h0M28.0 67.0h0M26.0 67.2h0M26.5 62.9h0M24.5 65.8h0M25.5 67.9h0M24.5 67.1h0M24.0 68.9h0M25.9 64.0h0M27.2 70.2h0M30.7 67.1h0M25.3 69.2h0M29.4 64.2h0M30.3 65.3h0M30.0 68.7h0M26.8 63.6h0M28.2 65.0h0M29.8 63.7h0M24.9 66.3h0M25.3 65.3h0M25.7 69.7h0M25.6 62.2h0M29.8 68.0h0M25.9 65.3h0M24.1 63.7h0M29.4 63.1h0M29.7 66.8h0M27.5 65.1h0M25.4 64.5h0M31.5 66.6h0M28.9 66.7h0M29.7 70.3h0M27.4 66.3h0M28.7 66.7h0M29.3 66.8h0M27.3 61.1h0M29.0 65.0h0M28.1 66.1h0M30.6 69.3h0M26.1 65.8h0M31.6 65.6h0M28.7 63.8h0M29.4 66.0h0M26.5 66.0h0M28.1 63.4h0M28.7 62.9h0M24.9 66.3h0M28.9 65.2h0M23.6 66.9h0M25.3 65.5h0M27.5 66.3h0M28.3 69.4h0M27.9 67.2h0M29.8 66.8h0M26.4 62.5h0M28.2 63.6h0M26.0 69.6h0M26.8 67.8h0M28.9 68.8h0M29.4 66.2h0M26.5 61.2h0M25.4 66.1h0M42.5 62.0h0M45.8 67.2h0M42.9 65.3h0M44.7 64.8h0M41.5 65.3h0M43.9 63.0h0M40.4 65.7h0M40.9 62.0h0M44.9 63.9h0M41.1 63.8h0M39.8 64.4h0M38.4 68.8h0M40.7 65.5h0M45.4 64.4h0M42.0 67.5h0M41.9 63.4h0M42.7 61.9h0M36.8 66.2h0M41.9 65.3h0M43.3 62.4h0M40.2 64.5h0M43.9 62.9h0M41.8 65.9h0M39.3 69.5h0M42.4 66.1h0M42.1 68.0h0M43.7 65.2h0M40.2 67.1h0M45.5 66.2h0M42.2 62.7h0M43.2 62.7h0M42.9 64.9h0M40.7 68.6h0M39.8 66.7h0M40.9 62.3h0M43.0 65.0h0M42.5 61.1h0M43.9 63.7h0M43.0 61.3h0M44.4 65.0h0M41.7 61.2h0M41.2 66.6h0M39.4 68.4h0M46.4 67.5h0M40.7 68.5h0M38.4 62.0h0M40.8 68.0h0M41.6 63.6h0M44.2 67.0h0M43.5 65.4h0M44.1 63.2h0M38.7 66.7h0M41.0 68.8h0M45.3 68.5h0M44.0 66.7h0M41.6 64.5h0M44.0 67.1h0M44.7 65.7h0M37.6 66.1h0M44.1 63.5h0M45.3 66.3h0M44.2 68.0h0M44.5 66.9h0M44.1 62.8h0M42.4 68.6h0M42.1 67.3h0M43.1 66.1h0M40.3 64.8h0M41.2 65.3h0M42.4 62.9h0M42.5 64.3h0M43.9 67.6h0M42.8 70.5h0M38.9 65.7h0M45.1 62.3h0M39.4 65.0h0M42.6 67.4h0M38.5 68.0h0M42.5 70.8h0M39.8 66.7h0M40.5 66.4h0M43.2 67.4h0M44.0 62.3h0M39.8 66.2h0M38.9 66.4h0M42.0 68.2h0M42.8 66.4h0M39.8 69.2h0M40.1 63.7h0M41.1 65.7h0M38.8 66.3h0M43.7 68.9h0M45.5 66.0h0M40.7 63.7h0M40.2 65.1h0M43.5 68.5h0M41.5 67.2h0M45.1 65.4h0M56.2 64.1h0M54.1 67.5h0M53.9 65.5h0M56.4 64.7h0M57.4 66.2h0M56.3 64.7h0M57.6 66.6h0M54.8 60.7h0M58.1 64.8h0M55.8 61.2h0M59.9 68.7h0M57.0 66.4h0M54.9 62.7h0M56.6 67.3h0M58.4 65.6h0M55.8 67.7h0M59.6 65.8h0M56.4 67.2h0M55.7 65.1h0M55.5 65.4h0M56.6 62.9h0M58.2 63.7h0M58.5 64.4h0M56.9 68.1h0M60.2 66.1h0M55.6 65.9h0M52.7 67.8h0M55.5 63.5h0M54.9 68.1h0M59.4 63.5h0M54.1 69.7h0M54.7 65.1h0M53.9 66.1h0M58.3 69.3h0M58.5 64.2h0M56.8 65.5h0M57.4 67.1h0M57.6 64.1h0M55.6 69.9h0M58.1 67.6h0M56.6 69.4h0M52.1 69.9h0M58.4 65.9h0M57.3 62.1h0M57.4 64.1h0M54.6 66.2h0M58.1 68.9h0M58.8 65.7h0M58.2 68.5h0M55.8 70.4h0M54.8 66.1h0M56.3 65.6h0M52.0 66.7h0M58.7 69.4h0M56.9 68.6h0M56.2 64.2h0M59.9 65.2h0M51.1 65.0h0M60.2 69.1h0M54.1 62.3h0M51.4 67.0h0M57.1 65.3h0M53.5 65.1h0M57.6 68.1h0M55.6 68.3h0M56.1 62.7h0M57.6 64.4h0M57.1 65.8h0M58.2 65.5h0M55.6 66.5h0M57.2 67.4h0M51.1 64.7h0M53.7 68.5h0M57.6 65.6h0M56.1 66.1h0M56.6 68.8h0M73.2 63.1h0M67.4 69.1h0M71.4 68.8h0M71.5 64.6h0M72.5 68.1h0M73.8 64.5h0M70.5 65.6h0M69.0 63.0h0M72.4 63.6h0M70.3 65.2h0M72.6 66.6h0M67.9 67.4h0M68.3 65.2h0M73.6 68.7h0M68.6 68.9h0M66.9 65.7h0M69.6 63.7h0M70.1 65.5h0M67.0 69.3h0M67.5 64.1h0M69.6 70.3h0M69.3 66.6h0M74.1 67.7h0M69.2 64.1h0M71.0 65.1h0M73.1 64.1h0M74.3 65.4h0M71.9 61.3h0M70.7 65.8h0M69.9 63.9h0M70.1 67.5h0M68.0 66.2h0M68.7 61.9h0M67.1 67.5h0M68.5 67.2h0M69.5 66.3h0M70.5 64.8h0M71.5 66.3h0M68.1 63.7h0M69.9 66.9h0M67.2 64.5h0M72.5 66.8h0M71.6 65.9h0M69.0 61.0h0M74.2 67.8h0M72.3 70.1h0M70.6 64.2h0M70.5 66.9h0M68.1 66.5h0M68.8 63.9h0M70.3 64.5h0M68.6 69.0h0M69.9 62.2h0M71.7 62.8h0M71.1 69.8h0M67.8 68.4h0M67.0 62.9h0M72.7 66.0h0M72.0 66.2h0M67.9 63.5h0M65.7 66.3h0M66.6 64.8h0M70.2 65.0h0M68.1 69.3h0M72.6 62.4h0M72.1 67.0h0M69.7 63.6h0M73.3 66.0h0M67.4 67.2h0M70.6 63.3h0M69.0 61.3h0M71.3 66.7h0M71.3 66.0h0M70.8 66.9h0M69.3 63.2h0M99.9 67.4h0M98.6 66.0h0M96.5 65.5h0M96.9 66.1h0M98.6 65.2h0M100.4 68.1h0M98.4 64.9h0M98.1 68.2h0M99.8 66.6h0M97.9 64.2h0M98.5 66.1h0M97.1 66.2h0M98.2 64.4h0M99.0 67.0h0M97.6 66.3h0M95.9 65.5h0M97.5 67.6h0M113.0 64.7h0M113.1 65.4h0M112.4 65.0h0M114.9 65.7h0M114.2 64.1h0M117.2 65.1h0M112.5 67.7h0M113.7 65.4h0M114.8 65.4h0M115.7 65.9h0M110.2 66.3h0M112.9 66.6h0M113.8 65.3h0M113.1 65.7h0M113.3 67.0h0M114.2 66.8h0M115.3 64.7h0M32.1 82.4h0M33.2 79.0h0M33.0 75.7h0M34.9 82.6h0M35.6 75.9h0M36.2 78.4h0M32.8 74.6h0M32.7 78.4h0M32.0 75.0h0M33.5 77.0h0M35.8 80.8h0M33.1 77.6h0M33.4 77.2h0M33.0 75.2h0M35.0 74.8h0M29.9 79.8h0M34.4 75.6h0M39.1 77.2h0M37.2 80.3h0M35.9 75.3h0M36.5 76.3h0M33.2 75.1h0M36.7 78.5h0M37.6 79.6h0M35.5 79.9h0M37.2 77.9h0M34.2 76.2h0M37.3 76.6h0M35.3 77.0h0M30.0 79.1h0M34.2 73.2h0M33.5 75.7h0M31.4 77.9h0M34.5 73.8h0M33.3 79.5h0M34.0 74.3h0M32.9 77.8h0M31.4 78.6h0M35.7 82.0h0M34.8 77.0h0M32.5 75.9h0M32.8 77.2h0M39.0 78.1h0M36.0 75.2h0M33.5 77.1h0M33.1 83.0h0M32.3 73.8h0M36.5 79.6h0M35.5 79.5h0M33.3 79.0h0M32.9 77.3h0M31.7 77.4h0M34.6 77.7h0M34.6 78.8h0M31.5 76.7h0M34.8 75.9h0M34.9 81.4h0M32.4 80.2h0M32.0 75.0h0M30.4 76.8h0M34.4 79.2h0M36.9 79.6h0M33.5 80.8h0M35.4 74.1h0M34.5 78.4h0M37.5 80.6h0M36.2 78.0h0M34.5 75.4h0M32.7 79.5h0M37.3 77.1h0M30.4 79.8h0M32.8 78.3h0M36.4 76.4h0M31.7 77.0h0M34.5 81.3h0M36.6 79.3h0M34.8 78.0h0M31.1 74.4h0M35.9 79.7h0M34.2 76.4h0M32.3 75.0h0M32.3 78.9h0M33.7 79.2h0M33.4 82.5h0M29.9 76.8h0M34.3 77.1h0M49.6 80.9h0M46.6 80.3h0M50.4 75.3h0M46.1 80.4h0M47.5 77.3h0M48.1 82.9h0M49.7 78.3h0M46.5 74.4h0M44.8 79.8h0M49.5 75.8h0M50.6 74.1h0M49.0 77.2h0M45.2 78.1h0M45.5 77.1h0M46.9 77.1h0M47.5 76.4h0M50.7 79.9h0M49.8 82.8h0M47.8 76.3h0M51.4 78.6h0M45.4 77.1h0M51.2 79.9h0M47.3 79.8h0M48.2 80.3h0M51.3 76.7h0M47.2 77.1h0M49.2 76.9h0M51.9 81.5h0M48.5 82.1h0M50.4 81.4h0M49.2 76.7h0M46.2 77.7h0M51.1 77.5h0M50.0 81.7h0M50.7 77.9h0M46.7 79.7h0M50.6 80.5h0M48.1 78.0h0M48.3 77.3h0M49.8 80.3h0M50.9 76.5h0M50.0 81.1h0M43.8 78.9h0M50.7 80.7h0M50.2 79.0h0M50.4 77.6h0M45.5 79.5h0M48.9 81.5h0M45.5 80.0h0M47.1 78.7h0M48.2 77.9h0M49.0 74.9h0M50.2 80.2h0M46.5 78.7h0M47.6 76.3h0M49.4 80.1h0M51.5 79.1h0M50.6 78.6h0M50.5 77.5h0M46.0 79.5h0M45.6 78.9h0M48.1 76.8h0M48.6 74.5h0M49.2 79.8h0M49.6 80.3h0M48.0 78.3h0M49.1 77.4h0M49.3 78.4h0M48.6 75.3h0M48.9 79.5h0M46.8 79.4h0M48.0 78.6h0M49.4 78.2h0M47.1 78.9h0M53.4 79.0h0M50.5 76.0h0M47.9 79.0h0M47.6 78.0h0M47.1 75.7h0M48.2 78.2h0M44.6 79.0h0M47.6 81.4h0M45.7 76.1h0M47.6 78.4h0M48.1 77.7h0M49.2 82.8h0M63.4 77.7h0M63.8 76.5h0M63.8 82.1h0M61.5 76.9h0M67.4 77.1h0M63.3 81.3h0M60.7 82.0h0M59.2 76.7h0M65.2 78.5h0M64.6 77.7h0M60.7 80.2h0M65.3 79.2h0M64.7 79.9h0M62.1 77.7h0M61.9 78.2h0M64.0 76.7h0M63.9 76.6h0M66.4 74.8h0M63.7 74.0h0M61.7 74.8h0M61.4 77.5h0M61.9 77.9h0M64.7 77.1h0M62.7 77.2h0M63.5 76.2h0M62.4 82.5h0M63.8 76.9h0M67.0 80.1h0M62.7 77.4h0M60.6 73.9h0M62.6 78.5h0M63.5 82.7h0M63.9 75.3h0M65.0 80.0h0M62.4 82.3h0M62.3 80.1h0M61.4 76.1h0M63.2 79.4h0M63.4 76.8h0M66.1 78.1h0M65.8 80.8h0M66.5 76.6h0M61.2 78.1h0M65.8 77.0h0M65.0 76.4h0M68.0 79.0h0M60.0 81.6h0M63.3 75.5h0M64.7 82.5h0M61.4 80.1h0M62.5 79.2h0M60.0 77.9h0M65.8 78.0h0M61.9 79.0h0M60.6 76.6h0M63.2 80.5h0M63.5 79.1h0M60.8 81.9h0M63.6 82.6h0M60.3 77.6h0M66.6 79.8h0M62.9 79.2h0M62.2 76.8h0M62.6 78.3h0M61.8 76.9h0M63.4 79.9h0M64.3 75.8h0M60.6 82.0h0M61.8 76.2h0M59.8 77.6h0M62.3 79.8h0M65.9 78.5h0M64.1 74.4h0M63.7 82.1h0M62.9 76.0h0M59.1 76.3h0M63.7 77.9h0M60.0 81.0h0M64.4 82.5h0M63.3 75.4h0M63.5 76.6h0M65.2 78.3h0M63.6 74.8h0M62.8 74.6h0M60.0 77.5h0M63.9 80.3h0M65.1 79.6h0M61.9 77.6h0M66.3 81.1h0M64.8 79.4h0M62.6 83.4h0M62.4 82.3h0M76.1 76.9h0M78.6 78.1h0M75.9 76.8h0M76.4 78.9h0M75.0 78.5h0M77.6 77.8h0M76.0 77.2h0M77.1 82.2h0M77.3 80.3h0M76.1 78.3h0M72.5 78.7h0M80.6 79.7h0M74.6 78.2h0M76.8 79.3h0M74.4 78.7h0M80.6 77.5h0M78.7 80.4h0M75.4 77.4h0M73.1 79.0h0M77.4 78.0h0M75.7 78.6h0M80.9 77.8h0M79.0 78.1h0M76.6 79.6h0M74.1 77.2h0M78.3 79.0h0M76.3 81.7h0M75.5 78.9h0M79.1 74.3h0M78.0 79.9h0M76.0 77.7h0M80.6 79.9h0M77.7 77.9h0M74.6 78.0h0M76.3 76.9h0M74.7 80.1h0M77.0 81.1h0M78.5 77.1h0M75.0 75.8h0M75.1 78.7h0M73.9 80.0h0M80.1 78.2h0M80.1 74.5h0M80.0 81.6h0M77.7 76.1h0M78.3 79.1h0M76.6 79.3h0M75.8 78.1h0M78.0 79.3h0M77.4 79.2h0M79.6 80.0h0M74.0 80.7h0M79.6 81.3h0M76.6 78.6h0M77.9 80.6h0M77.0 75.9h0M77.3 76.3h0M80.3 77.4h0M77.0 77.8h0M80.5 78.6h0M79.4 79.2h0M78.9 79.2h0M76.0 78.3h0M76.4 81.6h0M76.8 79.5h0M77.9 79.6h0M76.1 77.9h0M76.1 73.8h0M76.0 76.2h0M78.5 79.5h0M77.9 76.3h0M78.9 75.1h0M78.1 82.3h0M73.6 76.4h0M77.4 77.2h0M79.8 78.6h0M75.8 79.1h0M80.1 80.3h0M76.9 75.6h0M77.2 77.6h0M79.1 78.7h0M78.6 81.0h0M75.3 79.2h0M79.3 76.2h0M79.2 78.2h0M76.3 76.1h0M76.3 82.1h0M74.8 76.5h0M80.1 75.8h0M78.2 76.6h0M78.7 78.3h0M105.1 76.2h0M106.6 78.1h0M105.9 77.2h0M106.6 80.4h0M106.6 78.8h0M105.6 79.0h0M104.3 76.3h0M107.5 77.9h0M118.2 75.8h0M119.1 76.4h0M118.2 78.9h0M120.0 77.0h0M121.2 80.0h0M118.5 78.3h0M119.9 78.8h0M117.7 77.2h0M119.2 77.5h0M29.1 92.2h0M25.6 89.0h0M23.3 87.3h0M24.8 90.7h0M29.5 89.0h0M24.9 93.2h0M29.4 90.1h0M28.2 93.0h0M28.4 91.5h0M29.1 86.3h0M25.4 90.9h0M25.0 88.4h0M28.2 93.4h0M27.8 92.9h0M26.1 92.6h0M27.7 87.9h0M22.9 92.0h0M26.9 87.7h0M29.1 88.5h0M28.2 92.8h0M28.1 91.1h0M29.4 89.9h0M26.9 91.8h0M26.7 92.2h0M26.5 90.3h0M26.6 89.8h0M30.7 92.3h0M26.0 88.7h0M24.6 89.4h0M31.5 93.1h0M25.6 87.4h0M28.3 90.1h0M25.6 90.6h0M27.1 92.7h0M28.0 89.9h0M29.6 87.6h0M31.5 90.0h0M27.9 89.3h0M22.8 89.3h0M29.6 91.5h0M26.0 90.0h0M25.7 89.0h0M23.9 89.9h0M22.2 91.6h0M26.4 90.7h0M29.4 89.5h0M25.4 92.0h0M25.3 88.7h0M23.8 90.3h0M24.5 92.0h0M26.2 87.8h0M26.0 89.4h0M27.1 93.2h0M26.8 91.4h0M30.8 88.7h0M26.3 86.7h0M25.9 89.8h0M28.5 88.9h0M29.0 90.2h0M26.3 90.9h0M24.5 93.5h0M25.3 93.9h0M23.7 93.7h0M28.6 89.4h0M27.5 89.6h0M31.8 91.6h0M27.5 93.9h0M27.5 93.5h0M25.4 93.7h0M23.1 90.1h0M29.8 92.4h0M24.5 93.2h0M27.0 88.6h0M26.8 91.4h0M29.9 92.1h0M23.6 91.8h0M25.0 90.5h0M31.0 89.8h0M28.5 88.7h0M28.7 94.6h0M29.1 90.0h0M22.5 91.6h0M38.5 92.2h0M42.7 90.3h0M42.9 91.8h0M46.0 90.5h0M41.2 90.7h0M41.8 93.9h0M41.8 91.3h0M43.0 91.5h0M43.8 90.1h0M39.9 90.6h0M40.8 88.1h0M42.0 91.5h0M41.4 86.4h0M44.0 93.0h0M38.5 90.8h0M39.3 88.5h0M38.2 91.1h0M44.9 90.2h0M42.1 94.0h0M41.6 94.4h0M40.4 93.2h0M42.5 90.3h0M40.9 90.6h0M40.3 89.0h0M39.1 88.0h0M41.5 90.1h0M43.7 90.8h0M42.0 89.1h0M39.0 92.4h0M45.3 88.2h0M41.9 90.9h0M39.7 87.0h0M43.9 90.6h0M41.6 90.1h0M44.8 93.1h0M42.7 85.7h0M42.7 90.4h0M43.0 87.5h0M42.3 89.3h0M42.1 85.6h0M46.1 89.9h0M42.6 90.1h0M41.8 92.7h0M42.4 90.3h0M40.5 87.2h0M40.1 92.7h0M44.0 86.8h0M38.6 92.2h0M43.4 91.6h0M45.5 91.6h0M40.1 89.1h0M43.2 87.0h0M39.0 89.3h0M43.0 89.7h0M40.6 90.3h0M38.5 89.6h0M38.1 88.5h0M42.1 87.8h0M46.2 89.7h0M42.9 91.5h0M41.9 90.7h0M43.6 90.4h0M41.5 90.5h0M41.6 92.7h0M40.0 92.1h0M43.8 86.6h0M43.4 90.4h0M39.7 90.8h0M42.6 89.5h0M40.3 89.8h0M38.6 87.6h0M39.6 88.5h0M46.6 90.8h0M42.4 89.7h0M42.7 92.5h0M44.6 86.5h0M37.9 88.5h0M40.6 91.2h0M42.1 91.6h0M39.1 87.4h0M44.2 86.8h0M39.9 90.0h0M42.1 91.2h0M44.4 87.8h0M42.2 93.8h0M42.7 90.5h0M40.6 89.7h0M41.7 93.9h0M38.5 91.9h0M46.1 90.0h0M40.7 86.6h0M45.9 89.5h0M38.9 89.1h0M55.3 91.3h0M53.5 90.4h0M54.7 90.9h0M53.4 91.6h0M53.1 90.3h0M59.0 91.2h0M55.2 93.2h0M55.5 87.8h0M57.1 90.9h0M53.9 92.8h0M58.4 90.2h0M59.3 90.0h0M56.8 88.7h0M58.8 90.0h0M59.6 92.6h0M54.4 89.1h0M54.3 92.4h0M56.0 92.9h0M57.0 90.7h0M56.0 89.8h0M56.5 86.8h0M56.9 88.1h0M53.7 91.1h0M54.9 90.8h0M58.1 88.4h0M57.4 93.2h0M57.3 92.1h0M55.2 87.7h0M55.8 92.2h0M53.2 89.4h0M58.3 94.0h0M53.9 95.4h0M53.5 92.7h0M54.5 91.2h0M51.1 90.3h0M54.8 90.1h0M57.0 89.5h0M56.6 91.3h0M58.1 90.4h0M58.8 91.5h0M58.5 92.8h0M53.4 95.2h0M56.6 91.7h0M55.4 94.5h0M56.8 86.5h0M59.2 90.7h0M56.0 92.2h0M55.5 90.6h0M52.3 87.9h0M57.1 92.0h0M56.8 91.4h0M56.6 87.7h0M59.1 90.0h0M52.5 92.2h0M54.6 89.5h0M54.4 93.5h0M58.8 91.2h0M51.7 88.0h0M54.2 89.2h0M52.5 90.6h0M56.0 87.7h0M55.6 95.8h0M57.5 90.1h0M55.3 90.4h0M54.7 88.7h0M55.1 89.4h0M56.6 87.0h0M57.1 91.9h0M59.4 91.5h0M58.7 89.3h0M52.6 91.4h0M58.1 90.8h0M53.5 88.6h0M59.7 88.8h0M59.7 91.6h0M53.9 88.3h0M50.9 92.3h0M57.0 91.2h0M54.2 90.4h0M60.4 88.4h0M56.1 89.8h0M56.6 88.6h0M70.9 91.8h0M68.0 89.7h0M72.4 90.7h0M71.3 86.2h0M72.1 93.4h0M69.6 92.6h0M72.0 89.8h0M71.3 92.7h0M67.0 93.9h0M75.0 92.8h0M71.0 91.6h0M72.4 90.9h0M72.7 90.1h0M71.0 94.1h0M66.4 91.6h0M73.6 94.0h0M68.8 91.2h0M68.0 87.7h0M70.0 93.9h0M68.1 93.0h0M69.0 91.4h0M73.8 90.5h0M72.0 86.4h0M70.2 91.3h0M66.1 89.4h0M69.8 93.6h0M69.3 91.2h0M70.7 91.6h0M72.6 87.0h0M73.6 91.4h0M68.3 93.8h0M71.8 92.1h0M72.2 92.9h0M74.9 89.5h0M69.5 87.5h0M68.5 87.3h0M72.3 90.7h0M70.7 88.5h0M71.2 95.2h0M69.7 87.6h0M71.7 94.7h0M70.6 90.9h0M70.7 93.0h0M68.8 90.7h0M69.1 92.2h0M66.0 91.4h0M67.0 91.3h0M66.1 91.8h0M71.7 91.6h0M65.6 89.5h0M67.9 87.7h0M71.0 93.9h0M69.5 91.3h0M74.3 88.1h0M73.3 90.4h0M68.9 90.9h0M69.6 88.7h0M70.7 90.2h0M68.9 86.6h0M70.9 93.1h0M70.9 89.5h0M71.7 90.0h0M68.6 89.2h0M68.1 89.7h0M72.7 90.5h0M67.8 91.2h0M73.3 88.1h0M72.6 87.1h0M66.3 91.8h0M70.2 89.8h0M65.0 91.1h0M66.1 89.8h0M72.4 92.0h0M71.9 89.7h0M70.6 90.9h0M71.5 93.2h0M71.0 93.2h0M69.9 93.1h0M85.0 88.9h0M85.6 90.7h0M84.4 86.5h0M82.5 90.1h0M84.5 91.6h0M87.4 89.8h0M82.0 90.0h0M84.0 89.5h0M81.8 89.4h0M84.8 89.7h0M84.7 86.5h0M85.0 89.9h0M82.9 89.9h0M87.2 90.0h0M85.1 88.6h0M86.7 92.3h0M85.4 92.6h0M85.2 89.9h0M85.1 86.9h0M86.9 91.0h0M83.1 90.3h0M81.6 88.9h0M82.2 92.4h0M82.4 89.6h0M85.4 90.7h0M83.8 90.1h0M81.8 87.9h0M83.5 92.8h0M82.9 89.0h0M84.4 93.7h0M84.7 90.7h0M86.3 91.6h0M88.2 88.2h0M81.5 93.4h0M82.8 91.0h0M83.1 85.9h0M83.4 89.4h0M81.8 92.7h0M84.3 86.3h0M82.3 92.4h0M86.0 92.5h0M80.1 92.7h0M86.8 90.4h0M81.6 91.4h0M84.2 85.8h0M81.6 93.9h0M86.6 93.2h0M82.5 93.6h0M87.5 90.2h0M87.1 92.6h0M80.4 87.5h0M84.7 87.1h0M87.8 92.4h0M83.5 90.1h0M84.5 87.2h0M87.3 90.6h0M84.9 88.3h0M83.8 88.8h0M84.3 89.8h0M83.6 86.6h0M79.9 88.5h0M87.7 92.0h0M84.9 92.1h0M84.7 92.4h0M86.1 92.2h0M84.8 87.2h0M83.3 90.2h0M83.5 88.9h0M87.1 93.1h0M85.2 90.4h0M86.4 89.3h0M83.7 92.5h0M86.1 89.7h0M86.1 85.8h0M85.0 88.4h0M87.3 90.3h0M87.6 88.1h0M85.7 92.7h0M84.2 90.0h0M83.8 94.5h0M83.6 85.4h0M87.0 89.5h0M80.9 90.0h0M85.7 92.8h0M84.1 91.5h0M88.8 90.8h0M87.3 90.8h0M86.4 89.7h0M81.0 89.9h0M82.7 90.3h0M84.0 91.2h0M85.5 93.0h0M83.4 92.8h0M86.2 91.0h0M34.9 101.1h0M33.5 101.3h0M33.0 105.2h0M36.1 99.1h0M33.4 100.7h0M32.4 106.0h0M35.3 103.9h0M34.8 102.7h0M34.1 98.5h0M36.0 102.1h0M32.8 105.7h0M33.6 101.3h0M33.7 99.9h0M36.6 104.6h0M34.7 99.2h0M32.3 102.9h0M32.1 104.2h0M30.0 100.1h0M33.9 104.1h0M31.0 106.5h0M35.7 103.3h0M35.9 102.8h0M33.6 101.4h0M33.6 103.5h0M37.4 105.1h0M38.1 103.7h0M33.0 101.1h0M34.8 103.0h0M35.1 107.7h0M35.1 102.9h0M36.2 105.3h0M34.4 105.2h0M36.4 100.3h0M33.5 102.1h0M34.6 99.9h0M30.3 102.8h0M33.7 105.4h0M36.9 102.7h0M33.8 101.1h0M31.5 101.1h0M30.6 102.4h0M30.1 102.2h0M35.4 103.9h0M32.5 104.8h0M37.9 102.6h0M37.1 99.7h0M36.7 105.9h0M32.6 104.7h0M38.2 99.5h0M35.1 104.6h0M34.8 104.6h0M32.9 102.8h0M32.7 103.6h0M33.9 103.1h0M34.3 97.9h0M33.8 106.2h0M37.4 101.9h0M35.9 103.2h0M35.4 102.5h0M35.6 99.1h0M34.2 103.3h0M35.4 103.4h0M37.7 100.7h0M35.5 102.4h0M31.1 105.5h0M34.8 99.8h0M33.8 103.2h0M33.7 99.9h0M34.7 104.4h0M36.3 99.7h0M34.0 102.0h0M34.0 106.5h0M33.5 101.2h0M31.9 99.9h0M36.7 98.5h0M30.8 102.2h0M32.5 100.4h0M33.5 102.7h0M32.4 103.7h0M52.3 101.2h0M52.9 105.5h0M51.0 107.1h0M50.9 105.3h0M45.6 100.5h0M48.0 102.4h0M48.7 107.0h0M44.7 99.8h0M48.3 105.2h0M48.9 103.7h0M49.0 102.0h0M51.7 101.1h0M46.6 100.0h0M45.0 102.3h0M50.0 102.1h0M50.6 102.8h0M48.8 98.9h0M50.2 103.4h0M48.4 104.5h0M49.7 104.4h0M45.9 101.2h0M50.0 99.9h0M46.6 101.4h0M47.8 104.1h0M50.8 102.3h0M45.5 103.7h0M48.4 102.7h0M49.7 101.9h0M50.4 100.2h0M48.9 103.2h0M48.9 101.2h0M50.2 102.5h0M50.2 102.8h0M45.6 100.2h0M50.4 106.1h0M49.0 103.3h0M46.9 104.7h0M51.3 102.8h0M50.0 104.9h0M47.9 101.8h0M46.6 102.2h0M51.6 98.5h0M48.9 103.0h0M50.4 107.4h0M50.9 102.4h0M52.0 106.8h0M46.6 104.4h0M50.3 101.1h0M49.6 100.9h0M47.3 104.1h0M49.9 106.0h0M53.6 105.9h0M48.1 98.5h0M49.9 101.4h0M49.3 105.0h0M45.1 101.8h0M49.3 100.9h0M46.9 104.5h0M51.7 100.5h0M49.4 105.0h0M54.0 102.3h0M50.7 99.8h0M47.1 100.6h0M48.3 102.7h0M47.1 105.5h0M51.4 102.0h0M48.2 104.1h0M49.5 101.0h0M48.2 101.1h0M45.5 101.2h0M50.4 99.2h0M50.2 105.3h0M50.9 100.5h0M51.6 105.8h0M49.3 102.5h0M45.7 104.1h0M48.3 105.5h0M50.1 101.7h0M50.0 102.2h0M49.4 103.4h0M49.1 104.5h0M48.1 104.5h0M45.6 102.1h0M48.4 100.3h0M51.2 103.8h0M47.4 102.2h0M50.3 103.0h0M48.0 104.8h0M49.2 100.0h0M48.7 101.3h0M51.3 103.9h0M48.4 101.6h0M48.9 104.3h0M52.5 104.4h0M48.4 101.9h0M52.3 105.3h0M50.0 102.4h0M66.6 104.8h0M59.3 102.4h0M66.8 102.1h0M66.8 106.3h0M67.2 101.5h0M63.6 101.1h0M63.7 102.6h0M60.2 101.9h0M60.6 101.1h0M61.5 98.9h0M60.9 103.0h0M63.3 105.3h0M62.8 102.3h0M59.8 103.3h0M65.8 103.8h0M63.0 103.6h0M61.8 106.3h0M61.7 103.6h0M62.5 100.8h0M62.9 102.7h0M59.7 103.8h0M60.9 107.0h0M63.4 103.2h0M61.2 104.3h0M62.4 104.6h0M63.0 102.9h0M65.3 102.6h0M61.6 102.4h0M64.8 103.3h0M64.8 105.6h0M64.7 103.6h0M65.2 105.2h0M60.7 105.0h0M59.9 100.3h0M64.5 104.5h0M62.3 99.7h0M63.2 103.1h0M64.1 101.5h0M62.2 105.0h0M65.7 103.0h0M66.0 103.4h0M62.2 106.9h0M59.1 104.3h0M59.9 105.4h0M63.7 99.8h0M63.4 103.6h0M63.5 103.5h0M61.0 106.5h0M62.3 101.0h0M65.5 100.0h0M59.7 101.8h0M60.9 103.8h0M63.4 101.3h0M61.1 105.9h0M62.0 104.9h0M63.1 103.0h0M64.3 103.0h0M62.8 99.6h0M66.9 106.5h0M63.3 101.8h0M61.4 103.2h0M63.9 101.2h0M60.1 102.0h0M62.6 101.4h0M60.3 103.5h0M63.5 103.6h0M60.3 102.9h0M65.3 102.0h0M60.7 105.8h0M62.0 105.2h0M62.3 105.4h0M60.5 102.2h0M64.0 98.7h0M61.9 103.4h0M65.6 100.8h0M62.6 102.3h0M61.7 105.8h0M61.6 102.9h0M63.4 101.2h0M63.6 101.2h0M65.2 101.0h0M62.4 100.7h0M59.4 106.2h0M63.3 103.2h0M61.0 105.0h0M66.6 106.7h0M63.6 104.1h0M63.3 106.2h0M76.1 105.4h0M77.7 104.3h0M77.6 102.9h0M79.8 102.9h0M81.1 101.5h0M74.2 102.2h0M74.5 107.7h0M76.0 102.0h0M75.5 102.3h0M75.9 101.9h0M78.7 101.0h0M79.0 102.7h0M76.4 99.4h0M72.7 103.6h0M77.4 99.5h0M75.7 102.6h0M79.4 101.6h0M77.1 108.4h0M77.1 100.6h0M79.8 105.4h0M77.8 102.6h0M78.1 102.9h0M76.3 103.6h0M78.2 101.9h0M77.5 102.4h0M76.1 102.6h0M76.4 100.1h0M80.4 101.5h0M77.1 102.2h0M79.2 103.1h0M72.1 103.2h0M74.0 106.9h0M77.5 102.2h0M80.6 103.2h0M78.4 103.0h0M74.5 101.5h0M75.8 103.5h0M78.6 104.5h0M78.5 102.8h0M76.1 101.9h0M73.0 102.9h0M77.2 102.0h0M73.7 103.3h0M76.0 107.0h0M79.3 104.2h0M78.7 104.9h0M79.1 105.2h0M78.5 101.3h0M77.9 101.0h0M78.3 101.5h0M78.1 107.6h0M74.9 102.6h0M80.6 104.3h0M73.3 102.7h0M79.9 101.3h0M74.8 101.8h0M78.6 98.6h0M78.9 102.2h0M72.3 102.0h0M79.7 103.9h0M78.5 103.1h0M73.3 106.2h0M75.8 103.3h0M77.4 99.3h0M74.4 106.6h0M78.1 104.3h0M75.1 99.9h0M76.2 107.1h0M73.8 105.0h0M76.0 104.1h0M74.9 102.8h0M73.4 104.9h0M75.5 103.1h0M74.6 103.1h0M75.3 101.7h0M75.1 99.3h0M79.2 100.8h0M73.9 100.4h0M74.7 105.0h0M79.0 101.8h0M77.4 102.0h0M77.8 105.4h0M78.0 100.2h0M91.4 98.8h0M92.8 105.3h0M92.7 104.8h0M92.2 102.9h0M88.9 103.6h0M94.3 104.7h0M91.8 99.2h0M94.0 106.2h0M88.1 101.4h0M91.8 106.5h0M94.7 102.1h0M94.7 100.2h0M88.7 103.7h0M90.4 102.7h0M91.5 103.6h0M90.0 101.3h0M88.3 101.9h0M91.5 103.3h0M92.4 101.9h0M89.2 105.3h0M91.3 105.0h0M92.3 102.0h0M90.2 100.1h0M89.9 104.5h0M88.2 104.2h0M92.1 103.1h0M93.2 106.9h0M91.7 103.3h0M91.0 102.4h0M90.6 107.6h0M91.6 105.3h0M91.2 101.0h0M90.0 102.9h0M91.6 100.1h0M89.9 105.4h0M89.4 104.8h0M92.6 102.3h0M89.4 102.2h0M93.2 101.5h0M93.2 107.5h0M91.7 100.6h0M90.6 100.1h0M92.8 104.7h0M93.9 101.4h0M94.3 105.0h0M91.0 101.1h0M91.2 106.6h0M93.8 101.6h0M92.3 101.2h0M89.1 103.1h0M92.3 106.8h0M94.8 100.0h0M91.9 102.9h0M90.9 102.7h0M93.5 105.4h0M89.8 104.7h0M93.3 106.0h0M92.0 104.8h0M88.8 101.4h0M90.1 104.9h0M92.1 100.3h0M89.0 106.3h0M89.1 105.0h0M89.6 100.0h0M87.7 105.2h0M89.6 102.5h0M90.0 104.3h0M89.5 103.4h0M89.3 105.5h0M89.9 102.4h0M90.1 105.4h0M90.2 98.8h0M90.7 102.0h0M89.5 100.3h0M91.9 100.0h0M95.7 102.7h0M93.6 99.8h0M96.6 101.5h0M89.1 104.0h0M95.1 100.1h0M87.5 103.8h0M90.2 103.9h0M89.7 105.4h0M90.7 103.5h0M93.0 100.6h0M104.3 103.5h0M105.1 100.9h0M104.5 103.1h0M105.6 102.0h0M108.9 101.6h0M106.9 103.3h0M106.5 99.3h0M108.5 104.2h0M107.2 105.2h0M107.5 100.3h0M104.7 103.4h0M105.1 106.3h0M108.3 103.3h0M108.1 100.3h0M107.6 103.8h0M106.4 101.5h0M107.8 99.0h0M105.6 101.0h0M106.6 100.0h0M109.1 105.3h0M106.1 101.8h0M108.7 105.3h0M105.7 105.5h0M106.2 106.1h0M106.2 98.4h0M107.9 104.3h0M110.4 104.0h0M105.6 100.6h0M102.3 102.4h0M102.8 104.5h0M108.8 101.4h0M108.3 102.4h0M104.5 104.3h0M104.5 100.0h0M107.2 99.8h0M108.6 100.9h0M108.4 101.6h0M105.9 104.3h0M101.7 102.3h0M105.3 102.7h0M107.7 104.6h0M105.5 100.3h0M104.9 105.4h0M103.2 103.5h0M106.2 103.3h0M103.1 101.5h0M103.4 103.7h0M107.0 105.3h0M104.8 104.1h0M105.5 102.7h0M104.0 105.3h0M106.4 105.6h0M107.8 99.4h0M105.4 98.9h0M106.2 100.9h0M107.5 101.3h0M106.0 102.2h0M104.2 101.5h0M107.3 105.6h0M108.3 107.2h0M107.9 103.9h0M105.4 101.2h0M106.3 104.9h0M106.0 103.2h0M107.7 105.3h0M106.2 104.5h0M103.8 99.3h0M105.5 103.9h0M103.0 102.3h0M107.2 105.3h0M110.0 103.5h0M103.6 104.5h0M107.9 104.1h0M108.7 102.2h0M106.2 103.7h0M105.3 100.8h0M107.6 102.1h0M102.5 105.3h0M106.1 103.4h0M105.2 103.0h0M107.8 106.1h0M119.8 102.5h0M119.2 104.5h0M119.0 103.2h0M119.5 99.9h0M120.1 100.7h0M119.1 101.6h0M123.5 104.2h0M121.2 101.8h0M119.9 105.8h0M120.1 101.8h0M120.8 101.2h0M118.0 103.4h0M116.4 103.2h0M123.4 104.8h0M116.8 103.8h0M123.2 104.5h0M119.7 102.0h0M122.6 102.7h0M119.6 100.1h0M119.6 105.0h0M119.2 103.6h0M118.2 101.5h0M118.8 107.0h0M119.1 100.0h0M116.4 105.2h0M117.1 104.4h0M121.1 105.0h0M118.0 104.3h0M120.3 100.5h0M121.1 99.1h0M121.0 99.5h0M122.4 102.1h0M118.2 101.7h0M117.4 103.1h0M119.5 102.1h0M120.1 102.1h0M121.9 104.4h0M116.3 102.8h0M119.3 103.1h0M123.4 101.0h0M117.9 102.6h0M119.2 102.3h0M116.0 104.0h0M122.5 102.9h0M117.9 105.3h0M122.4 107.2h0M118.2 103.8h0M118.0 101.4h0M123.4 103.4h0M116.5 102.5h0M120.3 100.9h0M119.6 103.9h0M122.6 102.2h0M124.3 100.4h0M121.4 99.7h0M121.3 105.3h0M120.0 103.3h0M117.5 103.1h0M121.7 103.8h0M123.4 104.8h0M121.6 102.2h0M118.9 98.9h0M122.0 102.1h0M119.2 103.9h0M116.4 105.2h0M118.6 105.0h0M122.5 104.1h0M119.3 102.8h0M119.3 104.7h0M116.0 102.1h0M123.4 102.6h0M116.6 103.4h0M119.3 102.3h0M120.8 103.6h0M119.2 102.7h0M120.4 105.9h0M116.5 99.4h0M121.8 104.8h0M117.8 105.7h0M120.3 99.3h0M121.4 101.2h0M119.6 101.2h0M120.2 101.2h0M26.1 114.6h0M26.8 115.0h0M24.0 116.8h0M25.7 112.9h0M24.9 113.3h0M23.7 114.6h0M24.0 115.4h0M24.9 114.5h0M24.6 116.4h0M26.6 117.8h0M29.5 117.2h0M27.3 116.8h0M23.3 115.8h0M24.0 113.5h0M29.4 116.1h0M26.1 112.7h0M29.0 117.6h0M26.0 115.8h0M25.7 111.3h0M28.5 113.6h0M28.1 119.8h0M28.4 116.1h0M26.2 115.2h0M25.0 114.8h0M29.7 111.5h0M28.6 115.8h0M25.3 116.0h0M29.0 112.6h0M22.1 116.0h0M25.6 113.9h0M24.7 115.0h0M29.0 113.7h0M28.8 113.8h0M27.3 113.3h0M26.2 113.8h0M27.1 116.2h0M31.1 115.1h0M26.7 111.6h0M25.5 115.0h0M25.5 117.0h0M26.8 116.9h0M27.7 117.7h0M27.3 113.6h0M26.4 115.0h0M26.6 111.7h0M24.2 113.9h0M30.0 117.1h0M23.1 116.7h0M25.2 111.2h0M27.4 111.4h0M25.9 114.6h0M25.5 117.1h0M28.0 112.0h0M26.7 113.6h0M23.6 112.7h0M30.3 114.8h0M24.2 113.5h0M25.3 119.1h0M30.2 114.4h0M23.9 117.4h0M30.4 113.8h0M26.6 115.8h0M24.6 116.2h0M26.6 111.2h0M25.3 114.1h0M23.6 119.1h0M24.9 118.0h0M28.6 119.6h0M27.3 113.6h0M27.1 119.3h0M24.9 116.6h0M27.6 118.6h0M28.6 116.5h0M29.0 115.0h0M30.4 114.5h0M25.4 116.1h0M23.5 115.7h0M25.3 115.3h0M24.8 118.0h0M24.9 116.4h0M27.5 118.3h0M24.8 117.3h0M25.7 117.1h0M24.3 115.4h0M28.7 116.9h0M28.2 117.6h0M24.0 114.7h0M29.8 115.3h0M25.0 116.7h0M26.9 119.3h0M26.2 118.1h0M40.3 116.7h0M43.5 116.6h0M41.7 111.4h0M42.6 116.4h0M37.9 115.0h0M40.9 118.6h0M44.7 114.0h0M38.6 115.0h0M40.8 114.6h0M45.2 115.6h0M39.9 111.7h0M43.9 116.3h0M37.9 112.9h0M44.4 115.3h0M44.8 116.4h0M38.8 117.5h0M43.1 115.1h0M39.2 113.4h0M40.9 118.2h0M44.2 112.6h0M44.6 115.2h0M41.5 116.9h0M43.8 113.2h0M40.8 119.6h0M42.5 117.8h0M45.7 113.8h0M40.5 116.7h0M44.0 117.6h0M43.0 113.3h0M43.7 113.9h0M39.6 115.2h0M38.4 116.7h0M43.6 115.2h0M42.5 114.7h0M38.8 113.4h0M43.0 112.5h0M44.2 119.9h0M40.4 118.8h0M41.5 114.1h0M42.0 114.7h0M42.8 114.9h0M41.3 114.4h0M40.7 112.0h0M39.4 117.1h0M39.6 112.8h0M38.1 113.6h0M45.4 116.7h0M42.1 117.2h0M43.0 116.1h0M43.1 117.2h0M41.4 116.6h0M41.9 117.2h0M42.1 117.9h0M40.7 114.4h0M40.7 116.6h0M41.7 113.8h0M41.4 116.9h0M42.0 114.3h0M44.0 113.2h0M40.5 114.8h0M38.6 119.0h0M42.8 115.2h0M39.9 115.6h0M42.7 118.0h0M44.7 118.1h0M38.8 112.3h0M42.4 113.8h0M45.6 117.0h0M40.6 116.5h0M41.9 118.0h0M44.6 113.1h0M40.2 117.4h0M39.8 115.8h0M39.2 116.2h0M43.2 117.7h0M40.3 118.1h0M44.1 115.5h0M40.7 112.5h0M40.0 116.6h0M43.3 115.0h0M42.9 115.9h0M41.8 114.5h0M43.4 114.2h0M38.5 115.0h0M42.5 115.9h0M44.4 119.1h0M43.9 117.2h0M43.0 118.8h0M41.9 115.4h0M39.2 114.8h0M43.5 118.3h0M43.9 115.7h0M42.4 115.3h0M43.5 115.1h0M58.1 116.2h0M57.3 116.2h0M57.2 113.8h0M59.6 113.1h0M52.9 114.6h0M58.9 113.3h0M56.7 114.1h0M57.6 112.8h0M54.4 119.3h0M58.4 113.3h0M53.5 113.5h0M57.6 116.3h0M56.4 114.5h0M56.3 117.9h0M57.9 118.1h0M55.6 114.9h0M55.3 115.3h0M59.3 117.3h0M57.1 120.7h0M55.0 116.6h0M57.3 116.5h0M57.5 119.4h0M57.6 115.6h0M55.3 112.3h0M58.5 119.4h0M54.0 115.5h0M55.0 118.8h0M56.6 111.6h0M60.8 116.8h0M55.7 114.1h0M55.2 115.3h0M55.1 114.3h0M52.7 113.8h0M56.6 120.1h0M55.9 116.7h0M58.4 119.1h0M56.7 110.5h0M56.4 118.0h0M54.2 114.4h0M55.0 118.3h0M56.2 114.6h0M56.6 119.9h0M54.6 111.4h0M55.3 115.8h0M54.0 114.7h0M56.2 118.4h0M56.2 119.4h0M56.7 116.1h0M57.2 112.5h0M53.4 112.1h0M53.1 114.1h0M55.7 116.8h0M54.0 117.1h0M56.5 114.1h0M56.4 114.4h0M55.9 116.7h0M55.7 116.1h0M57.3 111.2h0M56.0 116.0h0M54.0 117.4h0M53.4 115.4h0M58.5 118.4h0M57.3 116.2h0M55.3 118.6h0M55.5 117.0h0M56.1 114.6h0M56.8 112.8h0M59.4 113.9h0M54.7 118.5h0M57.4 112.9h0M56.6 116.9h0M56.4 113.2h0M52.2 118.1h0M58.4 115.8h0M56.8 113.5h0M53.5 116.1h0M55.9 113.5h0M55.2 116.9h0M56.2 112.0h0M56.9 118.4h0M56.3 112.6h0M56.0 116.5h0M57.4 116.0h0M54.4 112.2h0M57.3 115.0h0M57.2 117.3h0M58.7 115.0h0M55.8 114.1h0M57.6 118.1h0M52.0 114.1h0M57.6 118.0h0M53.3 116.6h0M72.9 113.0h0M74.4 115.2h0M73.2 115.2h0M70.4 112.4h0M70.4 115.0h0M72.9 113.2h0M73.1 118.3h0M71.3 114.6h0M70.4 119.0h0M72.2 112.8h0M71.3 114.9h0M70.2 117.1h0M65.6 113.5h0M71.3 113.0h0M66.5 116.5h0M67.1 118.6h0M66.4 116.3h0M71.0 111.5h0M69.7 114.3h0M65.6 115.4h0M65.8 116.4h0M72.3 117.6h0M74.6 118.1h0M69.9 114.6h0M68.3 110.8h0M72.8 113.0h0M71.0 117.6h0M70.6 113.1h0M66.6 114.0h0M70.8 114.7h0M71.9 117.6h0M70.7 117.5h0M68.4 115.4h0M69.6 116.7h0M70.0 110.3h0M67.5 113.3h0M71.6 118.0h0M72.8 116.8h0M68.7 111.9h0M69.3 117.0h0M67.5 118.3h0M71.4 118.5h0M70.3 115.9h0M70.9 116.6h0M74.9 116.1h0M70.1 116.2h0M73.8 113.5h0M69.3 112.6h0M66.7 114.2h0M71.4 111.3h0M71.3 111.6h0M68.6 115.7h0M65.9 113.9h0M68.6 114.6h0M69.7 110.8h0M70.6 117.6h0M68.9 119.1h0M67.1 115.3h0M69.5 112.6h0M69.0 110.3h0M69.3 112.6h0M70.8 117.1h0M69.9 119.6h0M68.3 117.0h0M69.7 111.1h0M70.6 115.1h0M66.1 113.3h0M70.5 115.5h0M73.0 113.8h0M75.3 114.8h0M74.8 116.1h0M68.3 111.6h0M72.8 115.1h0M72.2 116.5h0M68.9 110.9h0M73.5 113.7h0M68.1 111.2h0M67.0 114.3h0M71.9 118.4h0M70.3 116.4h0M68.4 114.6h0M74.6 115.7h0M73.2 117.2h0M73.1 113.6h0M70.4 112.7h0M68.9 114.2h0M70.8 115.4h0M88.7 117.2h0M85.3 116.9h0M85.1 115.0h0M84.0 114.6h0M85.5 116.8h0M84.3 116.7h0M86.1 117.9h0M82.6 112.8h0M86.1 119.7h0M89.1 118.5h0M86.0 119.5h0M85.7 117.4h0M85.7 118.9h0M87.6 116.3h0M86.6 118.9h0M81.6 116.5h0M86.0 114.9h0M85.9 116.8h0M83.1 118.0h0M87.4 114.9h0M82.7 117.3h0M86.9 116.0h0M86.1 112.1h0M83.5 116.8h0M88.3 115.9h0M81.9 115.2h0M82.5 117.3h0M86.5 114.6h0M84.5 116.0h0M84.5 116.0h0M81.9 115.9h0M87.0 116.7h0M87.7 118.0h0M80.9 115.1h0M81.2 116.0h0M83.1 111.3h0M85.6 120.6h0M86.9 114.6h0M85.3 114.4h0M85.6 116.0h0M85.4 118.6h0M87.7 114.6h0M84.5 118.8h0M81.4 113.7h0M82.9 114.8h0M86.4 116.1h0M87.6 114.9h0M82.7 113.0h0M86.7 114.6h0M83.3 119.5h0M83.5 114.2h0M83.6 113.7h0M88.1 118.8h0M87.7 116.2h0M86.1 115.9h0M83.6 115.5h0M81.7 114.3h0M86.2 117.8h0M85.8 118.8h0M85.0 114.5h0M81.0 115.3h0M85.2 117.2h0M81.5 119.1h0M82.6 119.5h0M84.0 117.8h0M86.0 120.3h0M84.3 113.4h0M86.4 115.3h0M81.3 118.2h0M87.7 117.1h0M80.0 117.3h0M84.7 117.7h0M82.1 116.5h0M85.9 118.3h0M85.7 118.1h0M87.6 114.8h0M87.9 116.6h0M87.1 117.9h0M82.4 119.3h0M85.6 116.2h0M82.3 113.9h0M82.6 119.3h0M83.0 115.6h0M84.7 115.9h0M84.0 113.1h0M84.1 113.3h0M87.5 118.3h0M85.1 114.4h0M84.0 114.9h0M88.2 114.3h0M80.8 114.2h0M82.8 113.1h0M98.0 113.6h0M101.4 117.6h0M98.8 117.0h0M103.9 118.0h0M101.8 116.4h0M99.2 120.8h0M99.4 118.4h0M96.9 113.7h0M99.6 113.4h0M95.8 116.5h0M100.9 115.5h0M101.3 119.4h0M102.5 116.2h0M99.6 116.1h0M100.6 114.0h0M98.7 115.3h0M96.3 117.8h0M96.4 116.2h0M101.1 119.0h0M98.3 115.7h0M100.2 112.4h0M97.3 116.7h0M99.7 120.1h0M99.1 112.2h0M98.8 118.8h0M101.3 117.7h0M98.3 112.7h0M99.6 110.3h0M98.7 115.7h0M101.6 115.4h0M102.8 118.2h0M96.3 117.2h0M104.2 116.4h0M99.7 117.5h0M98.0 114.1h0M97.5 114.7h0M100.0 120.8h0M97.0 119.4h0M100.9 114.8h0M94.9 117.8h0M100.0 113.3h0M100.7 113.8h0M101.8 118.4h0M99.1 111.9h0M102.2 116.8h0M100.0 114.9h0M96.3 118.5h0M97.6 112.5h0M100.3 116.8h0M99.9 120.2h0M96.2 115.4h0M102.0 115.9h0M97.2 116.9h0M101.4 114.1h0M94.3 116.0h0M98.9 113.1h0M99.2 114.1h0M101.1 115.9h0M98.7 114.2h0M99.1 113.0h0M98.7 112.7h0M96.0 113.2h0M100.3 117.5h0M98.8 115.2h0M100.9 112.3h0M99.9 111.4h0M97.6 113.3h0M99.7 114.2h0M98.3 112.7h0M98.2 112.9h0M97.9 116.0h0M96.2 116.5h0M95.8 116.9h0M96.0 117.4h0M97.2 120.3h0M100.7 115.9h0M102.5 114.3h0M98.4 117.2h0M98.3 116.0h0M101.3 118.6h0M97.1 111.7h0M97.0 119.7h0M97.0 115.0h0M102.0 117.6h0M100.3 115.0h0M101.3 115.3h0M101.4 113.8h0M100.4 111.9h0M101.2 114.3h0M99.5 112.3h0M112.8 117.5h0M114.3 115.3h0M114.6 119.6h0M113.8 115.4h0M114.3 119.4h0M115.1 115.9h0M113.3 119.5h0M113.9 112.6h0M113.3 115.7h0M112.0 113.0h0M113.4 114.1h0M117.0 116.7h0M111.8 118.1h0M111.5 120.0h0M115.7 119.6h0M115.3 113.8h0M109.9 117.9h0M112.3 112.9h0M114.7 113.0h0M114.7 115.8h0M110.5 117.2h0M113.4 112.4h0M112.4 115.7h0M111.2 116.9h0M111.3 115.6h0M115.2 111.7h0M109.0 115.6h0M112.9 115.7h0M113.1 111.6h0M111.4 115.7h0M114.3 116.7h0M115.1 116.6h0M112.6 115.3h0M111.5 118.9h0M112.3 116.9h0M112.1 115.7h0M112.6 114.6h0M109.9 114.3h0M109.7 117.9h0M115.8 115.0h0M117.1 112.3h0M117.7 115.9h0M115.4 117.9h0M114.0 116.9h0M112.7 118.5h0M111.0 114.7h0M111.7 115.7h0M115.4 115.0h0M113.2 115.7h0M114.8 115.1h0M114.5 118.6h0M114.3 116.8h0M111.4 116.0h0M116.6 117.2h0M113.7 116.3h0M114.5 117.5h0M113.5 119.5h0M114.6 117.9h0M112.0 114.5h0M113.0 115.6h0M110.8 112.8h0M113.0 117.4h0M112.3 113.9h0M116.2 118.1h0M111.6 116.2h0M112.0 115.0h0M113.1 114.7h0M112.5 115.9h0M114.2 112.9h0M117.8 116.5h0M114.1 119.0h0M111.9 117.6h0M113.7 119.1h0M117.2 117.6h0M109.0 115.0h0M112.7 117.5h0M114.2 120.6h0M114.1 113.0h0M112.0 118.0h0M113.6 114.9h0M114.4 119.4h0M115.3 114.6h0M116.6 116.6h0M117.7 115.2h0M111.5 112.7h0M110.4 113.7h0M112.7 115.6h0M113.1 115.1h0M113.5 114.7h0M113.0 112.5h0M34.1 130.4h0M33.2 128.5h0M32.5 128.3h0M32.1 126.7h0M34.6 126.2h0M30.9 129.7h0M32.2 126.7h0M34.7 128.9h0M30.9 126.3h0M32.3 127.3h0M31.6 126.5h0M36.5 126.3h0M36.8 129.0h0M34.5 129.5h0M33.6 128.8h0M34.6 124.6h0M31.1 125.3h0M35.4 125.4h0M34.7 132.5h0M35.5 131.2h0M30.2 128.7h0M33.3 127.5h0M37.3 127.3h0M29.7 130.3h0M34.5 131.7h0M31.1 131.6h0M36.5 126.3h0M35.8 129.8h0M33.4 129.2h0M35.0 124.8h0M35.9 124.5h0M30.5 129.5h0M34.5 131.8h0M36.9 130.4h0M35.4 128.2h0M33.4 126.5h0M30.7 124.8h0M34.8 126.4h0M31.3 125.8h0M32.5 129.2h0M36.7 125.0h0M35.9 127.3h0M35.7 124.5h0M29.1 127.5h0M30.5 126.9h0M31.0 130.0h0M36.8 128.8h0M32.4 132.7h0M34.4 129.4h0M32.5 128.3h0M35.7 130.6h0M33.1 126.8h0M34.2 127.5h0M38.4 130.0h0M29.7 128.2h0M34.7 128.2h0M37.5 129.0h0M34.7 123.4h0M30.9 130.7h0M33.0 125.2h0M34.6 125.0h0M30.8 126.0h0M34.3 129.9h0M37.1 126.0h0M33.0 126.7h0M30.1 125.7h0M33.1 125.6h0M35.3 130.2h0M33.6 125.4h0M33.8 128.4h0M30.4 131.2h0M30.3 129.3h0M33.1 129.4h0M33.2 127.5h0M32.9 128.3h0M32.2 129.2h0M33.9 126.9h0M37.5 127.7h0M34.1 129.7h0M34.1 129.4h0M29.1 127.8h0M38.3 129.0h0M33.9 128.2h0M51.4 129.2h0M52.8 126.4h0M45.8 130.8h0M46.7 125.3h0M46.6 130.6h0M49.9 129.4h0M49.6 125.4h0M50.5 129.0h0M47.2 124.8h0M47.7 128.1h0M48.6 126.7h0M47.0 129.4h0M45.2 130.1h0M51.7 125.4h0M51.8 130.3h0M47.2 131.2h0M50.0 128.4h0M45.6 128.5h0M49.9 130.7h0M48.6 127.1h0M52.0 125.2h0M52.2 127.6h0M49.1 129.5h0M45.4 125.8h0M45.5 124.4h0M44.4 128.2h0M49.5 128.2h0M45.2 129.2h0M46.9 132.1h0M50.4 132.3h0M51.5 127.1h0M46.7 129.2h0M46.8 125.1h0M48.3 130.6h0M51.0 128.0h0M44.4 127.3h0M47.9 126.5h0M50.2 125.6h0M48.8 130.6h0M50.5 129.7h0M50.9 125.5h0M45.0 128.6h0M51.5 129.8h0M51.9 126.5h0M46.1 129.1h0M50.1 130.0h0M46.7 124.7h0M47.0 125.5h0M50.2 127.6h0M50.6 131.2h0M50.4 127.1h0M51.3 124.3h0M44.5 130.4h0M52.2 127.1h0M50.1 131.5h0M53.3 130.8h0M47.7 129.0h0M45.4 126.6h0M50.1 128.5h0M48.2 131.4h0M48.3 130.8h0M50.9 128.8h0M49.3 128.3h0M48.8 128.0h0M51.7 130.3h0M47.1 126.8h0M52.4 124.9h0M45.7 125.6h0M48.2 124.7h0M47.7 129.4h0M48.0 128.1h0M47.0 128.4h0M47.4 129.6h0M47.8 132.7h0M52.8 129.7h0M47.9 125.9h0M52.4 126.8h0M44.8 125.7h0M50.2 128.9h0M50.1 127.4h0M51.4 129.4h0M46.6 125.1h0M49.3 125.8h0M61.3 130.9h0M64.1 128.0h0M65.8 124.7h0M62.5 126.8h0M63.7 132.2h0M59.1 128.4h0M65.5 125.5h0M60.6 130.5h0M61.9 127.9h0M61.6 125.5h0M64.7 127.0h0M61.3 127.8h0M67.3 124.9h0M63.4 128.9h0M66.0 129.7h0M60.6 128.2h0M66.5 128.8h0M62.1 130.0h0M61.3 132.0h0M63.3 130.3h0M60.6 126.8h0M63.9 125.6h0M64.5 129.1h0M64.3 127.5h0M60.1 129.5h0M62.5 132.6h0M63.5 123.9h0M59.7 127.4h0M62.9 128.4h0M61.5 123.9h0M64.3 132.3h0M65.7 126.6h0M64.2 128.2h0M61.7 125.6h0M63.5 127.1h0M63.2 131.4h0M63.0 129.8h0M60.9 127.3h0M62.6 128.9h0M62.5 131.5h0M60.2 130.5h0M64.9 127.6h0M65.8 127.7h0M62.3 130.1h0M61.8 128.8h0M62.6 127.2h0M62.7 130.4h0M61.7 125.5h0M60.4 129.2h0M65.3 127.4h0M64.0 126.0h0M61.8 128.2h0M62.5 129.2h0M65.3 126.6h0M61.9 125.9h0M61.5 126.9h0M61.4 126.7h0M65.5 127.1h0M62.4 127.8h0M64.2 127.3h0M63.6 127.7h0M64.5 128.0h0M64.4 126.8h0M61.7 124.1h0M67.2 125.6h0M64.2 125.0h0M65.3 130.1h0M61.8 129.4h0M64.4 123.9h0M62.3 127.6h0M61.0 127.4h0M64.9 127.8h0M62.8 125.3h0M62.3 128.8h0M64.0 128.4h0M61.4 126.9h0M60.3 127.3h0M62.2 126.5h0M66.8 129.4h0M64.1 129.4h0M65.0 126.5h0M63.4 128.0h0M61.2 125.6h0M64.4 124.5h0M61.8 128.5h0M61.8 127.6h0M59.6 128.4h0M59.5 128.3h0M62.2 125.3h0M63.3 127.2h0M64.0 130.7h0M65.2 129.4h0M62.5 126.8h0M62.5 130.0h0M64.7 124.9h0M61.7 127.6h0M63.8 128.2h0M80.5 124.3h0M77.0 131.0h0M80.3 125.2h0M78.0 126.5h0M78.6 127.3h0M75.1 126.7h0M77.7 123.5h0M77.6 124.6h0M74.9 129.4h0M76.6 128.2h0M81.1 131.0h0M80.4 125.3h0M74.5 130.0h0M76.6 127.1h0M72.8 125.0h0M80.3 130.2h0M79.9 128.3h0M80.2 126.9h0M80.8 126.0h0M79.1 124.9h0M78.5 132.2h0M75.9 127.5h0M78.6 123.6h0M78.7 128.5h0M76.7 129.7h0M80.5 125.4h0M75.0 127.1h0M76.5 124.3h0M74.6 130.1h0M78.8 129.4h0M79.5 127.5h0M77.6 125.3h0M80.5 130.1h0M74.5 125.4h0M77.5 127.0h0M78.9 124.6h0M74.7 126.2h0M81.1 126.9h0M76.1 128.3h0M74.8 128.1h0M77.7 129.8h0M75.7 125.3h0M76.8 126.6h0M78.8 126.1h0M76.1 125.4h0M74.4 127.7h0M78.7 128.9h0M77.3 125.1h0M78.1 127.6h0M77.9 124.4h0M76.3 130.7h0M78.4 123.4h0M75.4 124.5h0M80.6 129.4h0M76.5 127.2h0M79.2 126.9h0M74.9 125.8h0M77.2 128.7h0M77.0 123.4h0M79.7 125.6h0M76.2 126.0h0M79.5 126.0h0M76.7 128.9h0M77.3 129.5h0M76.6 131.6h0M78.7 125.1h0M77.6 129.4h0M78.2 124.6h0M77.2 127.1h0M77.4 129.1h0M80.1 123.3h0M80.5 130.5h0M76.0 129.7h0M88.9 128.4h0M93.0 131.6h0M91.1 131.1h0M91.2 127.2h0M95.1 129.3h0M92.2 127.7h0M94.4 131.3h0M93.1 125.4h0M90.4 127.2h0M93.7 129.1h0M93.5 130.5h0M89.2 126.3h0M89.7 126.2h0M93.3 129.8h0M93.8 125.3h0M93.9 126.8h0M91.6 128.6h0M94.4 126.9h0M89.7 128.2h0M93.5 124.1h0M89.6 124.9h0M90.6 130.8h0M93.2 129.1h0M96.7 128.6h0M91.6 130.2h0M88.6 125.7h0M91.2 124.8h0M91.4 123.7h0M91.2 129.2h0M94.3 131.5h0M90.1 130.3h0M88.1 127.7h0M95.6 127.4h0M89.5 128.2h0M88.1 127.0h0M92.9 126.2h0M94.0 125.5h0M90.3 127.0h0M93.6 127.0h0M87.8 127.4h0M96.4 129.5h0M92.1 127.0h0M92.1 124.2h0M91.8 127.6h0M93.9 128.7h0M90.8 128.2h0M93.5 130.0h0M94.1 127.4h0M89.3 127.7h0M88.1 130.9h0M89.0 132.3h0M95.5 128.5h0M89.3 128.1h0M93.6 130.7h0M95.0 124.7h0M92.7 124.9h0M92.3 132.7h0M94.0 128.1h0M92.3 126.2h0M92.9 126.9h0M91.4 130.2h0M92.7 124.5h0M90.0 123.8h0M94.1 125.8h0M93.1 126.8h0M91.9 127.7h0M89.2 127.4h0M92.7 127.1h0M91.8 129.3h0M94.0 130.3h0M90.6 128.7h0M92.7 131.0h0M91.3 126.9h0M91.2 129.0h0M90.2 126.4h0M90.1 132.7h0M92.4 127.3h0M89.4 127.6h0M90.8 127.5h0M95.8 127.3h0M95.0 126.4h0M87.3 129.0h0M91.3 127.4h0M90.7 128.8h0M89.3 127.1h0M90.0 130.7h0M91.3 129.3h0M91.3 132.2h0M96.5 130.9h0M92.2 128.5h0M88.7 128.9h0M92.9 128.6h0M105.4 129.8h0M104.9 125.5h0M110.4 126.4h0M104.5 125.9h0M105.8 130.3h0M105.8 123.4h0M108.6 129.5h0M103.3 131.1h0M106.6 127.6h0M103.0 128.0h0M104.9 129.1h0M107.7 128.3h0M106.6 123.7h0M108.5 127.0h0M105.3 132.5h0M106.4 128.0h0M105.2 129.2h0M106.1 129.2h0M108.1 127.5h0M103.0 127.7h0M104.7 127.3h0M106.5 126.2h0M106.4 126.0h0M102.3 127.9h0M109.4 127.7h0M105.1 128.4h0M104.8 126.7h0M109.0 127.3h0M105.3 125.7h0M107.2 129.7h0M107.1 126.2h0M104.7 128.6h0M108.5 129.6h0M110.0 127.3h0M105.1 126.3h0M103.4 126.2h0M108.1 125.4h0M107.1 132.4h0M103.2 130.5h0M108.0 126.8h0M104.6 130.6h0M108.8 129.0h0M107.6 128.6h0M106.4 127.3h0M105.7 127.0h0M107.1 126.3h0M106.3 125.1h0M105.2 127.2h0M107.3 128.6h0M107.7 132.8h0M107.2 126.6h0M103.6 130.5h0M104.5 129.7h0M107.1 128.5h0M105.9 129.7h0M110.7 128.6h0M105.1 128.9h0M104.4 126.0h0M106.7 130.4h0M106.1 126.4h0M110.4 129.1h0M103.5 129.3h0M108.5 129.8h0M109.9 130.7h0M107.5 131.7h0M107.2 128.1h0M109.6 127.4h0M107.4 125.1h0M108.8 124.5h0M106.9 128.7h0M104.5 124.5h0M107.4 130.8h0M106.5 127.9h0M105.3 130.4h0M108.5 127.6h0M106.9 125.4h0M106.7 126.0h0M103.6 127.6h0M109.1 129.1h0M103.9 126.1h0M111.0 129.2h0M109.3 128.1h0M107.1 131.7h0M107.8 127.6h0M104.8 124.9h0M103.3 126.8h0M106.5 124.9h0M108.0 129.1h0M123.4 129.5h0M117.7 131.0h0M121.9 129.6h0M124.5 129.3h0M118.0 126.0h0M117.0 127.3h0M121.4 124.6h0M116.5 125.2h0M118.8 130.1h0M117.6 128.8h0M121.0 128.7h0M122.9 127.6h0M121.0 129.6h0M118.7 126.0h0M120.1 127.3h0M118.9 123.1h0M123.2 127.7h0M115.9 128.9h0M116.2 126.2h0M117.6 125.8h0M119.1 128.5h0M119.6 126.2h0M123.6 123.9h0M118.2 129.6h0M125.0 126.6h0M121.4 127.3h0M119.0 128.8h0M118.9 128.3h0M120.6 128.3h0M122.2 123.4h0M119.1 128.1h0M120.3 125.6h0M122.0 125.9h0M120.1 123.9h0M122.4 127.4h0M121.3 130.0h0M119.5 128.4h0M118.9 124.2h0M118.2 129.5h0M121.6 125.6h0M117.1 130.7h0M122.0 131.5h0M118.0 131.1h0M118.9 126.1h0M121.7 125.7h0M123.2 123.5h0M119.5 122.8h0M121.2 126.8h0M122.3 125.0h0M119.8 128.1h0M123.6 124.3h0M119.8 126.8h0M119.9 129.0h0M117.4 127.7h0M122.0 131.4h0M116.0 130.5h0M119.6 123.0h0M118.5 129.8h0M122.0 130.8h0M123.9 126.0h0M117.9 128.8h0M120.8 129.4h0M118.0 125.1h0M118.0 125.3h0M119.1 129.1h0M117.5 127.2h0M122.4 127.2h0M117.9 126.0h0M121.2 124.7h0M118.0 126.1h0M117.4 126.3h0M123.8 127.9h0M118.2 127.1h0M119.9 128.0h0M118.5 130.4h0M123.7 128.4h0M119.0 126.4h0M120.4 131.1h0"/>
<path fill="none" stroke="#101010" stroke-width="0.9" stroke-linecap="round" d="M31.0 13.4h0M22.3 17.9h0M23.3 19.3h0M24.7 12.0h0M41.4 19.9h0M46.0 18.8h0M44.9 12.9h0M40.8 20.0h0M60.6 13.7h0M59.2 17.9h0M55.9 12.5h0M52.9 19.8h0M67.1 13.2h0M65.7 18.1h0M73.6 18.6h0M73.9 15.0h0M85.1 20.5h0M89.9 14.9h0M81.6 18.8h0M80.6 18.1h0M102.1 20.2h0M97.2 13.0h0M95.8 16.3h0M110.9 12.8h0M111.4 14.3h0M113.6 17.5h0M36.1 33.6h0M28.9 28.5h0M36.2 24.4h0M32.5 33.1h0M43.0 30.2h0M50.9 33.3h0M53.9 26.5h0M44.6 25.3h0M59.3 25.8h0M66.9 27.0h0M67.6 28.2h0M57.8 29.2h0M74.8 24.1h0M80.0 25.8h0M80.7 31.6h0M76.7 33.0h0M87.0 31.0h0M92.4 23.8h0M95.8 27.8h0M95.6 29.6h0M104.8 24.7h0M103.8 30.7h0M106.9 28.2h0M120.4 27.0h0M118.7 26.3h0M119.5 32.6h0M21.9 40.5h0M25.1 36.6h0M23.8 45.1h0M23.7 45.6h0M46.6 39.7h0M42.6 36.4h0M38.6 44.6h0M40.3 46.1h0M53.5 44.9h0M51.9 43.4h0M52.4 37.7h0M50.5 41.3h0M75.1 42.5h0M66.2 42.6h0M73.7 45.0h0M68.3 36.6h0M84.5 37.0h0M83.6 37.1h0M80.0 40.4h0M82.8 37.6h0M97.1 41.5h0M95.0 39.2h0M99.8 39.5h0M116.0 42.4h0M115.3 40.3h0M109.7 42.5h0M39.0 52.0h0M31.7 48.7h0M31.3 48.7h0M29.9 55.6h0M43.6 53.0h0M50.5 58.5h0M50.4 57.9h0M43.6 51.5h0M59.7 49.6h0M62.8 57.1h0M68.1 54.0h0M67.4 56.6h0M78.7 49.3h0M81.6 56.5h0M75.6 57.6h0M74.4 56.7h0M94.0 50.9h0M88.7 51.9h0M91.1 55.0h0M107.4 56.6h0M108.3 56.3h0M104.1 56.6h0M122.4 50.1h0M120.2 52.0h0M118.2 54.8h0M24.2 61.5h0M22.9 67.6h0M28.9 61.1h0M21.7 67.6h0M36.9 67.6h0M37.0 65.3h0M36.1 64.2h0M38.9 70.9h0M58.8 61.4h0M53.5 60.7h0M61.5 65.6h0M54.9 61.6h0M68.0 61.7h0M75.0 66.9h0M75.2 67.5h0M73.6 70.3h0M84.7 64.3h0M97.0 66.6h0M98.1 62.2h0M101.4 68.3h0M113.9 64.1h0M115.5 66.8h0M115.1 68.6h0M39.9 79.1h0M31.1 81.6h0M30.2 81.3h0M30.3 80.6h0M53.1 74.7h0M45.9 74.1h0M52.8 74.7h0M44.5 76.1h0M58.5 76.5h0M68.7 76.5h0M68.2 78.6h0M61.0 82.4h0M83.0 79.9h0M74.5 74.6h0M81.9 75.8h0M79.1 83.7h0M93.2 76.8h0M93.5 80.2h0M107.6 79.8h0M102.7 80.2h0M106.7 79.5h0M118.2 80.7h0M124.4 79.4h0M122.0 76.5h0M23.2 87.2h0M29.2 86.6h0M32.5 90.0h0M30.1 87.2h0M42.5 86.1h0M40.2 85.8h0M36.5 93.0h0M40.6 85.0h0M59.6 86.7h0M60.6 90.8h0M50.4 88.7h0M51.6 86.9h0M65.5 88.1h0M65.4 90.8h0M69.3 95.5h0M65.4 88.0h0M87.6 94.5h0M80.4 87.8h0M88.4 94.3h0M79.8 92.7h0M99.7 92.6h0M98.4 88.7h0M35.3 107.7h0M34.2 97.5h0M28.8 104.5h0M38.1 106.6h0M44.2 104.5h0M53.4 101.4h0M48.1 107.6h0M53.9 102.0h0M65.5 107.2h0M59.3 106.8h0M59.8 107.2h0M65.8 106.6h0M72.3 103.4h0M77.6 97.9h0M77.7 98.3h0M79.5 107.7h0M96.5 103.9h0M97.7 103.1h0M96.7 104.4h0M86.5 103.9h0M100.6 101.5h0M111.3 104.9h0M104.0 107.5h0M110.8 103.8h0M115.2 102.1h0M123.5 106.7h0M120.6 107.9h0M122.3 98.4h0M31.0 119.4h0M21.3 114.3h0M32.1 112.4h0M26.8 119.9h0M41.1 119.9h0M38.3 111.5h0M36.0 117.1h0M45.3 118.8h0M60.0 119.1h0M52.2 111.5h0M52.5 111.6h0M57.9 120.7h0M66.0 112.4h0M74.7 113.5h0M74.9 114.0h0M72.6 110.3h0M85.6 110.2h0M79.0 113.9h0M80.2 112.2h0M82.9 119.6h0M93.7 113.5h0M95.2 118.9h0M94.3 115.6h0M99.7 110.5h0M116.3 118.9h0M113.8 110.2h0M114.5 110.2h0M108.0 117.8h0M37.7 131.3h0M32.5 132.9h0M39.9 125.9h0M37.7 123.3h0M52.1 131.7h0M44.6 131.8h0M52.1 131.4h0M44.1 126.8h0M68.3 127.8h0M68.6 129.2h0M67.7 127.5h0M59.2 132.1h0M82.6 127.6h0M81.3 123.9h0M72.1 127.3h0M74.6 132.4h0M97.1 129.2h0M93.9 132.0h0M89.7 132.0h0M90.5 132.3h0M102.5 124.9h0M101.3 126.4h0M101.3 127.9h0M106.2 122.2h0M117.0 131.5h0M116.9 123.8h0M117.5 131.5h0M117.7 123.9h0"/>
</g>
<text x="66.2" y="31.2" font-size="7" fill="#fff" stroke="#fff" stroke-width="0.15" textLength="28" lengthAdjust="spacingAndGlyphs">Cluster 3</text>
<text x="93.1" y="56.9" font-size="7" fill="#fff" stroke="#fff" stroke-width="0.15" textLength="28" lengthAdjust="spacingAndGlyphs">Cluster 4</text>
<text x="38.7" y="81.9" font-size="7" fill="#fff" stroke="#fff" stroke-width="0.15" textLength="28" lengthAdjust="spacingAndGlyphs">Cluster 2</text>
<text x="59.4" y="119.3" font-size="7" fill="#fff" stroke="#fff" stroke-width="0.15" textLength="28" lengthAdjust="spacingAndGlyphs">Cluster 1</text>
<rect x="133.0" y="14.8" width="32.7" height="11.2" fill="#a436f0"/>
<text x="134.8" y="23.1" font-size="7.1" fill="#1c1c1c" stroke="#1c1c1c" stroke-width="0.15" textLength="27.5" lengthAdjust="spacingAndGlyphs">Cluster 4</text>
<rect x="133.2" y="47.3" width="32.5" height="11.2" fill="#94f594"/>
<text x="134.8" y="55.6" font-size="7.1" fill="#1c1c1c" stroke="#1c1c1c" stroke-width="0.15" textLength="27.5" lengthAdjust="spacingAndGlyphs">Cluster 3</text>
<rect x="131.5" y="74.4" width="34.2" height="11.2" fill="#f22828"/>
<text x="134.8" y="82.7" font-size="7.1" fill="#1c1c1c" stroke="#1c1c1c" stroke-width="0.15" textLength="27.5" lengthAdjust="spacingAndGlyphs">Cluster 2</text>
<rect x="131.4" y="102.4" width="34.3" height="11.2" fill="#48a4f0"/>
<text x="134.8" y="110.7" font-size="7.1" fill="#1c1c1c" stroke="#1c1c1c" stroke-width="0.15" textLength="27.5" lengthAdjust="spacingAndGlyphs">Cluster 1</text>
<text x="4.4" y="14.8" font-size="8.7" font-weight="bold" fill="#111" stroke="#111" stroke-width="0.25" textLength="11.3" lengthAdjust="spacingAndGlyphs">(a)</text>
<text x="238.9" y="14.5" font-size="8.6" font-weight="bold" fill="#111" stroke="#111" stroke-width="0.25" textLength="11.8" lengthAdjust="spacingAndGlyphs">(b)</text>
<text x="4.8" y="168.5" font-size="8.6" font-weight="bold" fill="#111" stroke="#111" stroke-width="0.25" textLength="11.3" lengthAdjust="spacingAndGlyphs">(c)</text>
<g id="dendro" fill="none" stroke="#a8a8a8" stroke-width="0.4">
<path d="M174.60 9.20H179.70"/>
<path d="M174.60 11.05H181.42M174.60 12.89H181.42M174.60 14.74H181.42M181.42 11.05V14.74"/>
<path d="M179.70 9.20H184.60V12.89H181.42"/>
<path d="M174.60 16.58H181.43"/>
<path d="M174.60 18.43H179.90M174.60 20.28H179.90M174.60 22.12H179.90M179.90 18.43V22.12"/>
<path d="M181.43 16.58H186.84V20.28H179.90"/>
<path d="M184.60 11.05H189.15V18.43H186.84"/>
<path d="M174.60 23.97H180.43M174.60 25.82H180.43M180.43 23.97V25.82"/>
<path d="M174.60 27.66H180.86M174.60 29.51H180.86M180.86 27.66V29.51"/>
<path d="M174.60 31.35H180.71M174.60 33.20H180.71M180.71 31.35V33.20"/>
<path d="M180.86 28.58H186.16V32.28H180.71"/>
<path d="M180.43 24.89H188.96V30.43H186.16"/>
<path d="M189.15 14.74H192.60V27.66H188.96"/>
<path d="M174.60 34.90H179.62M174.60 36.75H179.62M179.62 34.90V36.75"/>
<path d="M174.60 38.60H179.34"/>
<path d="M174.60 40.45H179.15M174.60 42.30H179.15M174.60 44.15H179.15M179.15 40.45V44.15"/>
<path d="M179.34 38.60H181.03V42.30H179.15"/>
<path d="M179.62 35.83H182.21V40.45H181.03"/>
<path d="M174.60 46.00H180.33"/>
<path d="M174.60 47.85H179.83M174.60 49.70H179.83M174.60 51.55H179.83M179.83 47.85V51.55"/>
<path d="M180.33 46.00H183.70V49.70H179.83"/>
<path d="M182.21 38.14H185.54V47.85H183.70"/>
<path d="M174.60 53.40H179.94"/>
<path d="M174.60 55.25H178.74M174.60 57.10H178.74M174.60 58.95H178.74M178.74 55.25V58.95"/>
<path d="M179.94 53.40H182.63V57.10H178.74"/>
<path d="M174.60 60.80H180.04M174.60 62.65H180.04M174.60 64.50H180.04M180.04 60.80V64.50"/>
<path d="M174.60 66.35H178.89M174.60 68.20H178.89M178.89 66.35V68.20"/>
<path d="M180.04 62.65H181.61V67.28H178.89"/>
<path d="M182.63 55.25H184.99V64.96H181.61"/>
<path d="M185.54 42.99H188.42V60.11H184.99"/>
<path d="M174.60 69.60H179.81M174.60 71.54H179.81M179.81 69.60V71.54"/>
<path d="M174.60 73.47H180.41M174.60 75.41H180.41M180.41 73.47V75.41"/>
<path d="M179.81 70.57H181.73V74.44H180.41"/>
<path d="M174.60 77.35H178.33"/>
<path d="M174.60 79.28H179.23M174.60 81.22H179.23M174.60 83.15H179.23M179.23 79.28V83.15"/>
<path d="M178.33 77.35H181.03V81.22H179.23"/>
<path d="M174.60 85.09H179.03"/>
<path d="M174.60 87.03H179.51M174.60 88.96H179.51M174.60 90.90H179.51M179.51 87.03V90.90"/>
<path d="M179.03 85.09H181.03V88.96H179.51"/>
<path d="M181.03 79.28H181.99V87.03H181.03"/>
<path d="M181.73 72.50H185.21V83.15H181.99"/>
<path d="M174.60 92.40H180.07"/>
<path d="M174.60 94.25H178.86M174.60 96.11H178.86M174.60 97.96H178.86M178.86 94.25V97.96"/>
<path d="M180.07 92.40H181.03V96.11H178.86"/>
<path d="M174.60 99.82H178.80M174.60 101.67H178.80M174.60 103.53H178.80M178.80 99.82V103.53"/>
<path d="M174.60 105.38H178.39M174.60 107.23H178.39M178.39 105.38V107.23"/>
<path d="M174.60 109.09H178.65M174.60 110.94H178.65M178.65 109.09V110.94"/>
<path d="M178.39 106.31H181.03V110.01H178.65"/>
<path d="M178.80 101.67H181.99V108.16H181.03"/>
<path d="M181.03 94.25H183.00V104.92H181.99"/>
<path d="M174.60 112.80H179.84M174.60 114.65H179.84M174.60 116.50H179.84M179.84 112.80V116.50"/>
<path d="M174.60 118.36H179.64M174.60 120.21H179.64M174.60 122.07H179.64M179.64 118.36V122.07"/>
<path d="M174.60 123.92H179.30M174.60 125.78H179.30M179.30 123.92V125.78"/>
<path d="M179.64 120.21H181.03V124.85H179.30"/>
<path d="M179.84 114.65H182.52V122.53H181.03"/>
<path d="M174.60 127.63H180.16M174.60 129.48H180.16M174.60 131.34H180.16M180.16 127.63V131.34"/>
<path d="M174.60 133.19H178.43M174.60 135.05H178.43M174.60 136.90H178.43M178.43 133.19V136.90"/>
<path d="M180.16 129.48H182.50V135.05H178.43"/>
<path d="M182.52 118.59H184.45V132.26H182.50"/>
<path d="M183.00 99.58H188.10V125.43H184.45"/>
<path d="M192.60 21.20V20.3H238.6V73H215.3"/>
<path d="M188.42 51.55V52.6H215.3V93.6H198.8"/>
<path d="M185.21 77.83V79.6H198.8V106.8H188.10V112.51"/>
</g>
<g fill="none" stroke="#eba8a8" stroke-width="0.45">
<rect x="174.6" y="8.3" width="21" height="25.6"/>
<rect x="174.6" y="33.9" width="21" height="34.8"/>
<rect x="174.6" y="68.7" width="21" height="22.8"/>
<rect x="174.6" y="91.5" width="21" height="46.1"/>
</g>
<g stroke="#333" stroke-width="0.75" fill="none"><path d="M174.2 140.5H235.6"/>
<path d="M174.60 140.5v-1.5"/>
<path d="M187.46 140.5v-1.5"/>
<path d="M200.32 140.5v-1.5"/>
<path d="M213.18 140.5v-1.5"/>
<path d="M226.04 140.5v-1.5"/>
</g>
<text x="174.60" y="147" font-size="4.6" fill="#222" stroke="#222" stroke-width="0.1" text-anchor="middle">0</text>
<text x="187.46" y="147" font-size="4.6" fill="#222" stroke="#222" stroke-width="0.1" text-anchor="middle">2</text>
<text x="200.32" y="147" font-size="4.6" fill="#222" stroke="#222" stroke-width="0.1" text-anchor="middle">4</text>
<text x="213.18" y="147" font-size="4.6" fill="#222" stroke="#222" stroke-width="0.1" text-anchor="middle">6</text>
<text x="226.04" y="147" font-size="4.6" fill="#222" stroke="#222" stroke-width="0.1" text-anchor="middle">8</text>
<text x="200.2" y="154.6" font-size="4.3" fill="#222" stroke="#222" stroke-width="0.1" text-anchor="middle">Euclidean distance</text>
<defs><linearGradient id="cb" x1="0" y1="0" x2="0" y2="1"><stop offset="0" stop-color="#eae480"/><stop offset="0.3" stop-color="#f0c048"/><stop offset="0.65" stop-color="#ea7a3c"/><stop offset="1" stop-color="#de3a34"/></linearGradient></defs>
<g>
<text x="272.7" y="10.8" font-size="5.3" fill="#111" stroke="#111" stroke-width="0.12" text-anchor="middle">Singal reservoir</text>
<rect x="255.4" y="13.7" width="1.1" height="36.9" fill="url(#cb)"/>
<text x="254.6" y="20.0" font-size="1.9" fill="#999" text-anchor="end">0.8</text>
<text x="254.6" y="28.2" font-size="1.9" fill="#999" text-anchor="end">0.6</text>
<text x="254.6" y="36.4" font-size="1.9" fill="#999" text-anchor="end">0.4</text>
<text x="254.6" y="44.6" font-size="1.9" fill="#999" text-anchor="end">0.2</text>
<g stroke="#6a1208" stroke-opacity="0.8" stroke-width="0.5">
<polygon points="260.06,13.50 262.23,14.75 262.23,17.25 260.06,18.50 257.90,17.25 257.90,14.75" fill="#ff0d00"/>
<polygon points="264.39,13.50 266.56,14.75 266.56,17.25 264.39,18.50 262.23,17.25 262.23,14.75" fill="#ff0d00"/>
<polygon points="268.73,13.50 270.89,14.75 270.89,17.25 268.73,18.50 266.56,17.25 266.56,14.75" fill="#ff0d00"/>
<polygon points="273.06,13.50 275.22,14.75 275.22,17.25 273.06,18.50 270.89,17.25 270.89,14.75" fill="#ff0d00"/>
<polygon points="277.38,13.50 279.55,14.75 279.55,17.25 277.38,18.50 275.22,17.25 275.22,14.75" fill="#ff4600"/>
<polygon points="281.71,13.50 283.88,14.75 283.88,17.25 281.71,18.50 279.55,17.25 279.55,14.75" fill="#ff0d00"/>
<polygon points="286.05,13.50 288.21,14.75 288.21,17.25 286.05,18.50 283.88,17.25 283.88,14.75" fill="#ff4600"/>
<polygon points="262.23,17.13 264.40,18.38 264.40,20.88 262.23,22.13 260.06,20.88 260.06,18.38" fill="#ff0d00"/>
<polygon points="266.56,17.13 268.73,18.38 268.73,20.88 266.56,22.13 264.39,20.88 264.39,18.38" fill="#fff000"/>
<polygon points="270.89,17.13 273.06,18.38 273.06,20.88 270.89,22.13 268.73,20.88 268.73,18.38" fill="#fff000"/>
<polygon points="275.22,17.13 277.39,18.38 277.39,20.88 275.22,22.13 273.06,20.88 273.06,18.38" fill="#ff4600"/>
<polygon points="279.55,17.13 281.72,18.38 281.72,20.88 279.55,22.13 277.38,20.88 277.38,18.38" fill="#ff4600"/>
<polygon points="283.88,17.13 286.05,18.38 286.05,20.88 283.88,22.13 281.71,20.88 281.71,18.38" fill="#ff0d00"/>
<polygon points="288.21,17.13 290.38,18.38 290.38,20.88 288.21,22.13 286.05,20.88 286.05,18.38" fill="#ff0d00"/>
<polygon points="260.06,20.76 262.23,22.01 262.23,24.51 260.06,25.76 257.90,24.51 257.90,22.01" fill="#ff0d00"/>
<polygon points="264.39,20.76 266.56,22.01 266.56,24.51 264.39,25.76 262.23,24.51 262.23,22.01" fill="#fff000"/>
<polygon points="268.73,20.76 270.89,22.01 270.89,24.51 268.73,25.76 266.56,24.51 266.56,22.01" fill="#ff8400"/>
<polygon points="273.06,20.76 275.22,22.01 275.22,24.51 273.06,25.76 270.89,24.51 270.89,22.01" fill="#ff8400"/>
<polygon points="277.38,20.76 279.55,22.01 279.55,24.51 277.38,25.76 275.22,24.51 275.22,22.01" fill="#ff0d00"/>
<polygon points="281.71,20.76 283.88,22.01 283.88,24.51 281.71,25.76 279.55,24.51 279.55,22.01" fill="#ff8400"/>
<polygon points="286.05,20.76 288.21,22.01 288.21,24.51 286.05,25.76 283.88,24.51 283.88,22.01" fill="#ff4600"/>
<polygon points="262.23,24.39 264.40,25.64 264.40,28.14 262.23,29.39 260.06,28.14 260.06,25.64" fill="#ffffe8"/>
<polygon points="266.56,24.39 268.73,25.64 268.73,28.14 266.56,29.39 264.39,28.14 264.39,25.64" fill="#ff8400"/>
<polygon points="270.89,24.39 273.06,25.64 273.06,28.14 270.89,29.39 268.73,28.14 268.73,25.64" fill="#ff8400"/>
<polygon points="275.22,24.39 277.39,25.64 277.39,28.14 275.22,29.39 273.06,28.14 273.06,25.64" fill="#ff0d00"/>
<polygon points="279.55,24.39 281.72,25.64 281.72,28.14 279.55,29.39 277.38,28.14 277.38,25.64" fill="#ff0d00"/>
<polygon points="283.88,24.39 286.05,25.64 286.05,28.14 283.88,29.39 281.71,28.14 281.71,25.64" fill="#ff4600"/>
<polygon points="288.21,24.39 290.38,25.64 290.38,28.14 288.21,29.39 286.05,28.14 286.05,25.64" fill="#fff000"/>
<polygon points="260.06,28.02 262.23,29.27 262.23,31.77 260.06,33.02 257.90,31.77 257.90,29.27" fill="#ff0d00"/>
<polygon points="264.39,28.02 266.56,29.27 266.56,31.77 264.39,33.02 262.23,31.77 262.23,29.27" fill="#ffffe8"/>
<polygon points="268.73,28.02 270.89,29.27 270.89,31.77 268.73,33.02 266.56,31.77 266.56,29.27" fill="#ff4600"/>
<polygon points="273.06,28.02 275.22,29.27 275.22,31.77 273.06,33.02 270.89,31.77 270.89,29.27" fill="#ff0d00"/>
<polygon points="277.38,28.02 279.55,29.27 279.55,31.77 277.38,33.02 275.22,31.77 275.22,29.27" fill="#ff0d00"/>
<polygon points="281.71,28.02 283.88,29.27 283.88,31.77 281.71,33.02 279.55,31.77 279.55,29.27" fill="#ff0d00"/>
<polygon points="286.05,28.02 288.21,29.27 288.21,31.77 286.05,33.02 283.88,31.77 283.88,29.27" fill="#ff8400"/>
<polygon points="262.23,31.65 264.40,32.90 264.40,35.40 262.23,36.65 260.06,35.40 260.06,32.90" fill="#ff0d00"/>
<polygon points="266.56,31.65 268.73,32.90 268.73,35.40 266.56,36.65 264.39,35.40 264.39,32.90" fill="#ff8400"/>
<polygon points="270.89,31.65 273.06,32.90 273.06,35.40 270.89,36.65 268.73,35.40 268.73,32.90" fill="#ff0d00"/>
<polygon points="275.22,31.65 277.39,32.90 277.39,35.40 275.22,36.65 273.06,35.40 273.06,32.90" fill="#ff0d00"/>
<polygon points="279.55,31.65 281.72,32.90 281.72,35.40 279.55,36.65 277.38,35.40 277.38,32.90" fill="#ff0d00"/>
<polygon points="283.88,31.65 286.05,32.90 286.05,35.40 283.88,36.65 281.71,35.40 281.71,32.90" fill="#ff8400"/>
<polygon points="288.21,31.65 290.38,32.90 290.38,35.40 288.21,36.65 286.05,35.40 286.05,32.90" fill="#ff4600"/>
<polygon points="260.06,35.28 262.23,36.53 262.23,39.03 260.06,40.28 257.90,39.03 257.90,36.53" fill="#ff8400"/>
<polygon points="264.39,35.28 266.56,36.53 266.56,39.03 264.39,40.28 262.23,39.03 262.23,36.53" fill="#ff8400"/>
<polygon points="268.73,35.28 270.89,36.53 270.89,39.03 268.73,40.28 266.56,39.03 266.56,36.53" fill="#ff4600"/>
<polygon points="273.06,35.28 275.22,36.53 275.22,39.03 273.06,40.28 270.89,39.03 270.89,36.53" fill="#ff0d00"/>
<polygon points="277.38,35.28 279.55,36.53 279.55,39.03 277.38,40.28 275.22,39.03 275.22,36.53" fill="#ff0d00"/>
<polygon points="281.71,35.28 283.88,36.53 283.88,39.03 281.71,40.28 279.55,39.03 279.55,36.53" fill="#fff000"/>
<polygon points="286.05,35.28 288.21,36.53 288.21,39.03 286.05,40.28 283.88,39.03 283.88,36.53" fill="#ff8400"/>
<polygon points="262.23,38.91 264.40,40.16 264.40,42.66 262.23,43.91 260.06,42.66 260.06,40.16" fill="#ff8400"/>
<polygon points="266.56,38.91 268.73,40.16 268.73,42.66 266.56,43.91 264.39,42.66 264.39,40.16" fill="#ff8400"/>
<polygon points="270.89,38.91 273.06,40.16 273.06,42.66 270.89,43.91 268.73,42.66 268.73,40.16" fill="#fff000"/>
<polygon points="275.22,38.91 277.39,40.16 277.39,42.66 275.22,43.91 273.06,42.66 273.06,40.16" fill="#ff4600"/>
<polygon points="279.55,38.91 281.72,40.16 281.72,42.66 279.55,43.91 277.38,42.66 277.38,40.16" fill="#ff8400"/>
<polygon points="283.88,38.91 286.05,40.16 286.05,42.66 283.88,43.91 281.71,42.66 281.71,40.16" fill="#ff8400"/>
<polygon points="288.21,38.91 290.38,40.16 290.38,42.66 288.21,43.91 286.05,42.66 286.05,40.16" fill="#ff4600"/>
<polygon points="260.06,42.54 262.23,43.79 262.23,46.29 260.06,47.54 257.90,46.29 257.90,43.79" fill="#ff0d00"/>
<polygon points="264.39,42.54 266.56,43.79 266.56,46.29 264.39,47.54 262.23,46.29 262.23,43.79" fill="#ff0d00"/>
<polygon points="268.73,42.54 270.89,43.79 270.89,46.29 268.73,47.54 266.56,46.29 266.56,43.79" fill="#ff8400"/>
<polygon points="273.06,42.54 275.22,43.79 275.22,46.29 273.06,47.54 270.89,46.29 270.89,43.79" fill="#fff000"/>
<polygon points="277.38,42.54 279.55,43.79 279.55,46.29 277.38,47.54 275.22,46.29 275.22,43.79" fill="#ff4600"/>
<polygon points="281.71,42.54 283.88,43.79 283.88,46.29 281.71,47.54 279.55,46.29 279.55,43.79" fill="#ff0d00"/>
<polygon points="286.05,42.54 288.21,43.79 288.21,46.29 286.05,47.54 283.88,46.29 283.88,43.79" fill="#ff0d00"/>
<polygon points="262.23,46.17 264.40,47.42 264.40,49.92 262.23,51.17 260.06,49.92 260.06,47.42" fill="#ff0d00"/>
<polygon points="266.56,46.17 268.73,47.42 268.73,49.92 266.56,51.17 264.39,49.92 264.39,47.42" fill="#ff0d00"/>
<polygon points="270.89,46.17 273.06,47.42 273.06,49.92 270.89,51.17 268.73,49.92 268.73,47.42" fill="#ff0d00"/>
<polygon points="275.22,46.17 277.39,47.42 277.39,49.92 275.22,51.17 273.06,49.92 273.06,47.42" fill="#ff0d00"/>
<polygon points="279.55,46.17 281.72,47.42 281.72,49.92 279.55,51.17 277.38,49.92 277.38,47.42" fill="#ff0d00"/>
<polygon points="283.88,46.17 286.05,47.42 286.05,49.92 283.88,51.17 281.71,49.92 281.71,47.42" fill="#ff0d00"/>
<polygon points="288.21,46.17 290.38,47.42 290.38,49.92 288.21,51.17 286.05,49.92 286.05,47.42" fill="#ff0d00"/>
</g></g>
<g>
<text x="334.9" y="10.8" font-size="5.3" fill="#111" stroke="#111" stroke-width="0.12" text-anchor="middle">Yedang reservoir</text>
<rect x="317.5" y="13.7" width="1.1" height="36.9" fill="url(#cb)"/>
<text x="316.7" y="20.0" font-size="1.9" fill="#999" text-anchor="end">0.8</text>
<text x="316.7" y="28.2" font-size="1.9" fill="#999" text-anchor="end">0.6</text>
<text x="316.7" y="36.4" font-size="1.9" fill="#999" text-anchor="end">0.4</text>
<text x="316.7" y="44.6" font-size="1.9" fill="#999" text-anchor="end">0.2</text>
<g stroke="#6a1208" stroke-opacity="0.8" stroke-width="0.5">
<polygon points="322.21,13.50 324.38,14.75 324.38,17.25 322.21,18.50 320.05,17.25 320.05,14.75" fill="#ffffe8"/>
<polygon points="326.54,13.50 328.71,14.75 328.71,17.25 326.54,18.50 324.38,17.25 324.38,14.75" fill="#ffffe8"/>
<polygon points="330.88,13.50 333.04,14.75 333.04,17.25 330.88,18.50 328.71,17.25 328.71,14.75" fill="#ff8400"/>
<polygon points="335.20,13.50 337.37,14.75 337.37,17.25 335.20,18.50 333.04,17.25 333.04,14.75" fill="#ff8400"/>
<polygon points="339.53,13.50 341.70,14.75 341.70,17.25 339.53,18.50 337.37,17.25 337.37,14.75" fill="#ff4600"/>
<polygon points="343.86,13.50 346.03,14.75 346.03,17.25 343.86,18.50 341.70,17.25 341.70,14.75" fill="#ff4600"/>
<polygon points="348.19,13.50 350.36,14.75 350.36,17.25 348.19,18.50 346.03,17.25 346.03,14.75" fill="#ff4600"/>
<polygon points="324.38,17.13 326.55,18.38 326.55,20.88 324.38,22.13 322.21,20.88 322.21,18.38" fill="#fff000"/>
<polygon points="328.71,17.13 330.88,18.38 330.88,20.88 328.71,22.13 326.54,20.88 326.54,18.38" fill="#ff0d00"/>
<polygon points="333.04,17.13 335.21,18.38 335.21,20.88 333.04,22.13 330.88,20.88 330.88,18.38" fill="#ff4600"/>
<polygon points="337.37,17.13 339.54,18.38 339.54,20.88 337.37,22.13 335.20,20.88 335.20,18.38" fill="#ff8400"/>
<polygon points="341.70,17.13 343.87,18.38 343.87,20.88 341.70,22.13 339.53,20.88 339.53,18.38" fill="#fff000"/>
<polygon points="346.03,17.13 348.19,18.38 348.19,20.88 346.03,22.13 343.86,20.88 343.86,18.38" fill="#ff8400"/>
<polygon points="350.36,17.13 352.53,18.38 352.53,20.88 350.36,22.13 348.19,20.88 348.19,18.38" fill="#ff8400"/>
<polygon points="322.21,20.76 324.38,22.01 324.38,24.51 322.21,25.76 320.05,24.51 320.05,22.01" fill="#ff4600"/>
<polygon points="326.54,20.76 328.71,22.01 328.71,24.51 326.54,25.76 324.38,24.51 324.38,22.01" fill="#ff0d00"/>
<polygon points="330.88,20.76 333.04,22.01 333.04,24.51 330.88,25.76 328.71,24.51 328.71,22.01" fill="#ff4600"/>
<polygon points="335.20,20.76 337.37,22.01 337.37,24.51 335.20,25.76 333.04,24.51 333.04,22.01" fill="#ff4600"/>
<polygon points="339.53,20.76 341.70,22.01 341.70,24.51 339.53,25.76 337.37,24.51 337.37,22.01" fill="#ff8400"/>
<polygon points="343.86,20.76 346.03,22.01 346.03,24.51 343.86,25.76 341.70,24.51 341.70,22.01" fill="#fff000"/>
<polygon points="348.19,20.76 350.36,22.01 350.36,24.51 348.19,25.76 346.03,24.51 346.03,22.01" fill="#ff0d00"/>
<polygon points="324.38,24.39 326.55,25.64 326.55,28.14 324.38,29.39 322.21,28.14 322.21,25.64" fill="#ff0d00"/>
<polygon points="328.71,24.39 330.88,25.64 330.88,28.14 328.71,29.39 326.54,28.14 326.54,25.64" fill="#ff8400"/>
<polygon points="333.04,24.39 335.21,25.64 335.21,28.14 333.04,29.39 330.88,28.14 330.88,25.64" fill="#ff8400"/>
<polygon points="337.37,24.39 339.54,25.64 339.54,28.14 337.37,29.39 335.20,28.14 335.20,25.64" fill="#fff000"/>
<polygon points="341.70,24.39 343.87,25.64 343.87,28.14 341.70,29.39 339.53,28.14 339.53,25.64" fill="#ffffe8"/>
<polygon points="346.03,24.39 348.19,25.64 348.19,28.14 346.03,29.39 343.86,28.14 343.86,25.64" fill="#ff0d00"/>
<polygon points="350.36,24.39 352.53,25.64 352.53,28.14 350.36,29.39 348.19,28.14 348.19,25.64" fill="#ff0d00"/>
<polygon points="322.21,28.02 324.38,29.27 324.38,31.77 322.21,33.02 320.05,31.77 320.05,29.27" fill="#ff0d00"/>
<polygon points="326.54,28.02 328.71,29.27 328.71,31.77 326.54,33.02 324.38,31.77 324.38,29.27" fill="#ff0d00"/>
<polygon points="330.88,28.02 333.04,29.27 333.04,31.77 330.88,33.02 328.71,31.77 328.71,29.27" fill="#ffff70"/>
<polygon points="335.20,28.02 337.37,29.27 337.37,31.77 335.20,33.02 333.04,31.77 333.04,29.27" fill="#fff000"/>
<polygon points="339.53,28.02 341.70,29.27 341.70,31.77 339.53,33.02 337.37,31.77 337.37,29.27" fill="#ff4600"/>
<polygon points="343.86,28.02 346.03,29.27 346.03,31.77 343.86,33.02 341.70,31.77 341.70,29.27" fill="#ff4600"/>
<polygon points="348.19,28.02 350.36,29.27 350.36,31.77 348.19,33.02 346.03,31.77 346.03,29.27" fill="#ff0d00"/>
<polygon points="324.38,31.65 326.55,32.90 326.55,35.40 324.38,36.65 322.21,35.40 322.21,32.90" fill="#ff0d00"/>
<polygon points="328.71,31.65 330.88,32.90 330.88,35.40 328.71,36.65 326.54,35.40 326.54,32.90" fill="#ff4600"/>
<polygon points="333.04,31.65 335.21,32.90 335.21,35.40 333.04,36.65 330.88,35.40 330.88,32.90" fill="#fff000"/>
<polygon points="337.37,31.65 339.54,32.90 339.54,35.40 337.37,36.65 335.20,35.40 335.20,32.90" fill="#ffffe8"/>
<polygon points="341.70,31.65 343.87,32.90 343.87,35.40 341.70,36.65 339.53,35.40 339.53,32.90" fill="#fff000"/>
<polygon points="346.03,31.65 348.19,32.90 348.19,35.40 346.03,36.65 343.86,35.40 343.86,32.90" fill="#ff4600"/>
<polygon points="350.36,31.65 352.53,32.90 352.53,35.40 350.36,36.65 348.19,35.40 348.19,32.90" fill="#ff0d00"/>
<polygon points="322.21,35.28 324.38,36.53 324.38,39.03 322.21,40.28 320.05,39.03 320.05,36.53" fill="#ff0d00"/>
<polygon points="326.54,35.28 328.71,36.53 328.71,39.03 326.54,40.28 324.38,39.03 324.38,36.53" fill="#ff0d00"/>
<polygon points="330.88,35.28 333.04,36.53 333.04,39.03 330.88,40.28 328.71,39.03 328.71,36.53" fill="#ff0d00"/>
<polygon points="335.20,35.28 337.37,36.53 337.37,39.03 335.20,40.28 333.04,39.03 333.04,36.53" fill="#ff8400"/>
<polygon points="339.53,35.28 341.70,36.53 341.70,39.03 339.53,40.28 337.37,39.03 337.37,36.53" fill="#ff8400"/>
<polygon points="343.86,35.28 346.03,36.53 346.03,39.03 343.86,40.28 341.70,39.03 341.70,36.53" fill="#ff8400"/>
<polygon points="348.19,35.28 350.36,36.53 350.36,39.03 348.19,40.28 346.03,39.03 346.03,36.53" fill="#ff0d00"/>
<polygon points="324.38,38.91 326.55,40.16 326.55,42.66 324.38,43.91 322.21,42.66 322.21,40.16" fill="#ff0d00"/>
<polygon points="328.71,38.91 330.88,40.16 330.88,42.66 328.71,43.91 326.54,42.66 326.54,40.16" fill="#ff0d00"/>
<polygon points="333.04,38.91 335.21,40.16 335.21,42.66 333.04,43.91 330.88,42.66 330.88,40.16" fill="#ff0d00"/>
<polygon points="337.37,38.91 339.54,40.16 339.54,42.66 337.37,43.91 335.20,42.66 335.20,40.16" fill="#ff4600"/>
<polygon points="341.70,38.91 343.87,40.16 343.87,42.66 341.70,43.91 339.53,42.66 339.53,40.16" fill="#ff8400"/>
<polygon points="346.03,38.91 348.19,40.16 348.19,42.66 346.03,43.91 343.86,42.66 343.86,40.16" fill="#ff4600"/>
<polygon points="350.36,38.91 352.53,40.16 352.53,42.66 350.36,43.91 348.19,42.66 348.19,40.16" fill="#ff0d00"/>
<polygon points="322.21,42.54 324.38,43.79 324.38,46.29 322.21,47.54 320.05,46.29 320.05,43.79" fill="#ff0d00"/>
<polygon points="326.54,42.54 328.71,43.79 328.71,46.29 326.54,47.54 324.38,46.29 324.38,43.79" fill="#ff0d00"/>
<polygon points="330.88,42.54 333.04,43.79 333.04,46.29 330.88,47.54 328.71,46.29 328.71,43.79" fill="#ff0d00"/>
<polygon points="335.20,42.54 337.37,43.79 337.37,46.29 335.20,47.54 333.04,46.29 333.04,43.79" fill="#ff0d00"/>
<polygon points="339.53,42.54 341.70,43.79 341.70,46.29 339.53,47.54 337.37,46.29 337.37,43.79" fill="#ff4600"/>
<polygon points="343.86,42.54 346.03,43.79 346.03,46.29 343.86,47.54 341.70,46.29 341.70,43.79" fill="#ff4600"/>
<polygon points="348.19,42.54 350.36,43.79 350.36,46.29 348.19,47.54 346.03,46.29 346.03,43.79" fill="#ff4600"/>
<polygon points="324.38,46.17 326.55,47.42 326.55,49.92 324.38,51.17 322.21,49.92 322.21,47.42" fill="#ff0d00"/>
<polygon points="328.71,46.17 330.88,47.42 330.88,49.92 328.71,51.17 326.54,49.92 326.54,47.42" fill="#ff0d00"/>
<polygon points="333.04,46.17 335.21,47.42 335.21,49.92 333.04,51.17 330.88,49.92 330.88,47.42" fill="#ff0d00"/>
<polygon points="337.37,46.17 339.54,47.42 339.54,49.92 337.37,51.17 335.20,49.92 335.20,47.42" fill="#ff4600"/>
<polygon points="341.70,46.17 343.87,47.42 343.87,49.92 341.70,51.17 339.53,49.92 339.53,47.42" fill="#ff8400"/>
<polygon points="346.03,46.17 348.19,47.42 348.19,49.92 346.03,51.17 343.86,49.92 343.86,47.42" fill="#ff8400"/>
<polygon points="350.36,46.17 352.53,47.42 352.53,49.92 350.36,51.17 348.19,49.92 348.19,47.42" fill="#ffffe8"/>
</g></g>
<g>
<text x="399.1" y="10.8" font-size="5.3" fill="#111" stroke="#111" stroke-width="0.12" text-anchor="middle">Juam reservoir</text>
<rect x="379.7" y="13.7" width="1.1" height="36.9" fill="url(#cb)"/>
<text x="378.9" y="20.0" font-size="1.9" fill="#999" text-anchor="end">0.8</text>
<text x="378.9" y="28.2" font-size="1.9" fill="#999" text-anchor="end">0.6</text>
<text x="378.9" y="36.4" font-size="1.9" fill="#999" text-anchor="end">0.4</text>
<text x="378.9" y="44.6" font-size="1.9" fill="#999" text-anchor="end">0.2</text>
<g stroke="#6a1208" stroke-opacity="0.8" stroke-width="0.5">
<polygon points="384.37,13.50 386.53,14.75 386.53,17.25 384.37,18.50 382.20,17.25 382.20,14.75" fill="#ff0d00"/>
<polygon points="388.69,13.50 390.86,14.75 390.86,17.25 388.69,18.50 386.53,17.25 386.53,14.75" fill="#ff4600"/>
<polygon points="393.03,13.50 395.19,14.75 395.19,17.25 393.03,18.50 390.86,17.25 390.86,14.75" fill="#ff8400"/>
<polygon points="397.36,13.50 399.52,14.75 399.52,17.25 397.36,18.50 395.19,17.25 395.19,14.75" fill="#ff8400"/>
<polygon points="401.69,13.50 403.85,14.75 403.85,17.25 401.69,18.50 399.52,17.25 399.52,14.75" fill="#ff8400"/>
<polygon points="406.01,13.50 408.18,14.75 408.18,17.25 406.01,18.50 403.85,17.25 403.85,14.75" fill="#fff000"/>
<polygon points="410.35,13.50 412.51,14.75 412.51,17.25 410.35,18.50 408.18,17.25 408.18,14.75" fill="#ff8400"/>
<polygon points="386.53,17.13 388.70,18.38 388.70,20.88 386.53,22.13 384.37,20.88 384.37,18.38" fill="#ff4600"/>
<polygon points="390.86,17.13 393.03,18.38 393.03,20.88 390.86,22.13 388.69,20.88 388.69,18.38" fill="#ff4600"/>
<polygon points="395.19,17.13 397.36,18.38 397.36,20.88 395.19,22.13 393.03,20.88 393.03,18.38" fill="#ff4600"/>
<polygon points="399.52,17.13 401.69,18.38 401.69,20.88 399.52,22.13 397.36,20.88 397.36,18.38" fill="#ff8400"/>
<polygon points="403.85,17.13 406.02,18.38 406.02,20.88 403.85,22.13 401.69,20.88 401.69,18.38" fill="#ff8400"/>
<polygon points="408.18,17.13 410.35,18.38 410.35,20.88 408.18,22.13 406.01,20.88 406.01,18.38" fill="#ff8400"/>
<polygon points="412.51,17.13 414.68,18.38 414.68,20.88 412.51,22.13 410.35,20.88 410.35,18.38" fill="#ff8400"/>
<polygon points="384.37,20.76 386.53,22.01 386.53,24.51 384.37,25.76 382.20,24.51 382.20,22.01" fill="#fff000"/>
<polygon points="388.69,20.76 390.86,22.01 390.86,24.51 388.69,25.76 386.53,24.51 386.53,22.01" fill="#ff4600"/>
<polygon points="393.03,20.76 395.19,22.01 395.19,24.51 393.03,25.76 390.86,24.51 390.86,22.01" fill="#ff8400"/>
<polygon points="397.36,20.76 399.52,22.01 399.52,24.51 397.36,25.76 395.19,24.51 395.19,22.01" fill="#fff000"/>
<polygon points="401.69,20.76 403.85,22.01 403.85,24.51 401.69,25.76 399.52,24.51 399.52,22.01" fill="#ff8400"/>
<polygon points="406.01,20.76 408.18,22.01 408.18,24.51 406.01,25.76 403.85,24.51 403.85,22.01" fill="#ff4600"/>
<polygon points="410.35,20.76 412.51,22.01 412.51,24.51 410.35,25.76 408.18,24.51 408.18,22.01" fill="#fff000"/>
<polygon points="386.53,24.39 388.70,25.64 388.70,28.14 386.53,29.39 384.37,28.14 384.37,25.64" fill="#ff0d00"/>
<polygon points="390.86,24.39 393.03,25.64 393.03,28.14 390.86,29.39 388.69,28.14 388.69,25.64" fill="#ff8400"/>
<polygon points="395.19,24.39 397.36,25.64 397.36,28.14 395.19,29.39 393.03,28.14 393.03,25.64" fill="#ff4600"/>
<polygon points="399.52,24.39 401.69,25.64 401.69,28.14 399.52,29.39 397.36,28.14 397.36,25.64" fill="#ff8400"/>
<polygon points="403.85,24.39 406.02,25.64 406.02,28.14 403.85,29.39 401.69,28.14 401.69,25.64" fill="#ff0d00"/>
<polygon points="408.18,24.39 410.35,25.64 410.35,28.14 408.18,29.39 406.01,28.14 406.01,25.64" fill="#ffffe8"/>
<polygon points="412.51,24.39 414.68,25.64 414.68,28.14 412.51,29.39 410.35,28.14 410.35,25.64" fill="#ff8400"/>
<polygon points="384.37,28.02 386.53,29.27 386.53,31.77 384.37,33.02 382.20,31.77 382.20,29.27" fill="#ffff70"/>
<polygon points="388.69,28.02 390.86,29.27 390.86,31.77 388.69,33.02 386.53,31.77 386.53,29.27" fill="#ff0d00"/>
<polygon points="393.03,28.02 395.19,29.27 395.19,31.77 393.03,33.02 390.86,31.77 390.86,29.27" fill="#ff4600"/>
<polygon points="397.36,28.02 399.52,29.27 399.52,31.77 397.36,33.02 395.19,31.77 395.19,29.27" fill="#ff8400"/>
<polygon points="401.69,28.02 403.85,29.27 403.85,31.77 401.69,33.02 399.52,31.77 399.52,29.27" fill="#ffffe8"/>
<polygon points="406.01,28.02 408.18,29.27 408.18,31.77 406.01,33.02 403.85,31.77 403.85,29.27" fill="#ff8400"/>
<polygon points="410.35,28.02 412.51,29.27 412.51,31.77 410.35,33.02 408.18,31.77 408.18,29.27" fill="#ff4600"/>
<polygon points="386.53,31.65 388.70,32.90 388.70,35.40 386.53,36.65 384.37,35.40 384.37,32.90" fill="#ffff70"/>
<polygon points="390.86,31.65 393.03,32.90 393.03,35.40 390.86,36.65 388.69,35.40 388.69,32.90" fill="#ff8400"/>
<polygon points="395.19,31.65 397.36,32.90 397.36,35.40 395.19,36.65 393.03,35.40 393.03,32.90" fill="#ff8400"/>
<polygon points="399.52,31.65 401.69,32.90 401.69,35.40 399.52,36.65 397.36,35.40 397.36,32.90" fill="#ff0d00"/>
<polygon points="403.85,31.65 406.02,32.90 406.02,35.40 403.85,36.65 401.69,35.40 401.69,32.90" fill="#ff8400"/>
<polygon points="408.18,31.65 410.35,32.90 410.35,35.40 408.18,36.65 406.01,35.40 406.01,32.90" fill="#ff4600"/>
<polygon points="412.51,31.65 414.68,32.90 414.68,35.40 412.51,36.65 410.35,35.40 410.35,32.90" fill="#ff8400"/>
<polygon points="384.37,35.28 386.53,36.53 386.53,39.03 384.37,40.28 382.20,39.03 382.20,36.53" fill="#fff000"/>
<polygon points="388.69,35.28 390.86,36.53 390.86,39.03 388.69,40.28 386.53,39.03 386.53,36.53" fill="#fff000"/>
<polygon points="393.03,35.28 395.19,36.53 395.19,39.03 393.03,40.28 390.86,39.03 390.86,36.53" fill="#ffff70"/>
<polygon points="397.36,35.28 399.52,36.53 399.52,39.03 397.36,40.28 395.19,39.03 395.19,36.53" fill="#ff8400"/>
<polygon points="401.69,35.28 403.85,36.53 403.85,39.03 401.69,40.28 399.52,39.03 399.52,36.53" fill="#ff8400"/>
<polygon points="406.01,35.28 408.18,36.53 408.18,39.03 406.01,40.28 403.85,39.03 403.85,36.53" fill="#ff0d00"/>
<polygon points="410.35,35.28 412.51,36.53 412.51,39.03 410.35,40.28 408.18,39.03 408.18,36.53" fill="#fff000"/>
<polygon points="386.53,38.91 388.70,40.16 388.70,42.66 386.53,43.91 384.37,42.66 384.37,40.16" fill="#fff000"/>
<polygon points="390.86,38.91 393.03,40.16 393.03,42.66 390.86,43.91 388.69,42.66 388.69,40.16" fill="#ff8400"/>
<polygon points="395.19,38.91 397.36,40.16 397.36,42.66 395.19,43.91 393.03,42.66 393.03,40.16" fill="#fff000"/>
<polygon points="399.52,38.91 401.69,40.16 401.69,42.66 399.52,43.91 397.36,42.66 397.36,40.16" fill="#fff000"/>
<polygon points="403.85,38.91 406.02,40.16 406.02,42.66 403.85,43.91 401.69,42.66 401.69,40.16" fill="#ff8400"/>
<polygon points="408.18,38.91 410.35,40.16 410.35,42.66 408.18,43.91 406.01,42.66 406.01,40.16" fill="#ff8400"/>
<polygon points="412.51,38.91 414.68,40.16 414.68,42.66 412.51,43.91 410.35,42.66 410.35,40.16" fill="#fff000"/>
<polygon points="384.37,42.54 386.53,43.79 386.53,46.29 384.37,47.54 382.20,46.29 382.20,43.79" fill="#ffff70"/>
<polygon points="388.69,42.54 390.86,43.79 390.86,46.29 388.69,47.54 386.53,46.29 386.53,43.79" fill="#ffffe8"/>
<polygon points="393.03,42.54 395.19,43.79 395.19,46.29 393.03,47.54 390.86,46.29 390.86,43.79" fill="#ff8400"/>
<polygon points="397.36,42.54 399.52,43.79 399.52,46.29 397.36,47.54 395.19,46.29 395.19,43.79" fill="#ff8400"/>
<polygon points="401.69,42.54 403.85,43.79 403.85,46.29 401.69,47.54 399.52,46.29 399.52,43.79" fill="#ff8400"/>
<polygon points="406.01,42.54 408.18,43.79 408.18,46.29 406.01,47.54 403.85,46.29 403.85,43.79" fill="#fff000"/>
<polygon points="410.35,42.54 412.51,43.79 412.51,46.29 410.35,47.54 408.18,46.29 408.18,43.79" fill="#ff8400"/>
<polygon points="386.53,46.17 388.70,47.42 388.70,49.92 386.53,51.17 384.37,49.92 384.37,47.42" fill="#ffffe8"/>
<polygon points="390.86,46.17 393.03,47.42 393.03,49.92 390.86,51.17 388.69,49.92 388.69,47.42" fill="#ffffe8"/>
<polygon points="395.19,46.17 397.36,47.42 397.36,49.92 395.19,51.17 393.03,49.92 393.03,47.42" fill="#ffff70"/>
<polygon points="399.52,46.17 401.69,47.42 401.69,49.92 399.52,51.17 397.36,49.92 397.36,47.42" fill="#fff000"/>
<polygon points="403.85,46.17 406.02,47.42 406.02,49.92 403.85,51.17 401.69,49.92 401.69,47.42" fill="#fff000"/>
<polygon points="408.18,46.17 410.35,47.42 410.35,49.92 408.18,51.17 406.01,49.92 406.01,47.42" fill="#ff8400"/>
<polygon points="412.51,46.17 414.68,47.42 414.68,49.92 412.51,51.17 410.35,49.92 410.35,47.42" fill="#ff0d00"/>
</g></g>
<g>
<text x="460.2" y="10.8" font-size="5.3" fill="#111" stroke="#111" stroke-width="0.12" text-anchor="middle">Inflow&#160; region</text>
<rect x="441.8" y="13.7" width="1.1" height="36.9" fill="url(#cb)"/>
<text x="441.0" y="20.0" font-size="1.9" fill="#999" text-anchor="end">0.8</text>
<text x="441.0" y="28.2" font-size="1.9" fill="#999" text-anchor="end">0.6</text>
<text x="441.0" y="36.4" font-size="1.9" fill="#999" text-anchor="end">0.4</text>
<text x="441.0" y="44.6" font-size="1.9" fill="#999" text-anchor="end">0.2</text>
<g stroke="#6a1208" stroke-opacity="0.8" stroke-width="0.5">
<polygon points="446.51,13.50 448.68,14.75 448.68,17.25 446.51,18.50 444.35,17.25 444.35,14.75" fill="#ff8400"/>
<polygon points="450.84,13.50 453.01,14.75 453.01,17.25 450.84,18.50 448.68,17.25 448.68,14.75" fill="#ff4600"/>
<polygon points="455.18,13.50 457.34,14.75 457.34,17.25 455.18,18.50 453.01,17.25 453.01,14.75" fill="#ff8400"/>
<polygon points="459.50,13.50 461.67,14.75 461.67,17.25 459.50,18.50 457.34,17.25 457.34,14.75" fill="#ff4600"/>
<polygon points="463.83,13.50 466.00,14.75 466.00,17.25 463.83,18.50 461.67,17.25 461.67,14.75" fill="#ff0d00"/>
<polygon points="468.16,13.50 470.33,14.75 470.33,17.25 468.16,18.50 466.00,17.25 466.00,14.75" fill="#ff4600"/>
<polygon points="472.50,13.50 474.66,14.75 474.66,17.25 472.50,18.50 470.33,17.25 470.33,14.75" fill="#ffb900"/>
<polygon points="448.68,17.13 450.85,18.38 450.85,20.88 448.68,22.13 446.51,20.88 446.51,18.38" fill="#ff4600"/>
<polygon points="453.01,17.13 455.18,18.38 455.18,20.88 453.01,22.13 450.84,20.88 450.84,18.38" fill="#ff0d00"/>
<polygon points="457.34,17.13 459.51,18.38 459.51,20.88 457.34,22.13 455.18,20.88 455.18,18.38" fill="#ff4600"/>
<polygon points="461.67,17.13 463.84,18.38 463.84,20.88 461.67,22.13 459.50,20.88 459.50,18.38" fill="#ff4600"/>
<polygon points="466.00,17.13 468.17,18.38 468.17,20.88 466.00,22.13 463.83,20.88 463.83,18.38" fill="#ff0d00"/>
<polygon points="470.33,17.13 472.50,18.38 472.50,20.88 470.33,22.13 468.16,20.88 468.16,18.38" fill="#ff8400"/>
<polygon points="474.66,17.13 476.83,18.38 476.83,20.88 474.66,22.13 472.50,20.88 472.50,18.38" fill="#ff8400"/>
<polygon points="446.51,20.76 448.68,22.01 448.68,24.51 446.51,25.76 444.35,24.51 444.35,22.01" fill="#ff8400"/>
<polygon points="450.84,20.76 453.01,22.01 453.01,24.51 450.84,25.76 448.68,24.51 448.68,22.01" fill="#ff4600"/>
<polygon points="455.18,20.76 457.34,22.01 457.34,24.51 455.18,25.76 453.01,24.51 453.01,22.01" fill="#ff8400"/>
<polygon points="459.50,20.76 461.67,22.01 461.67,24.51 459.50,25.76 457.34,24.51 457.34,22.01" fill="#ff4600"/>
<polygon points="463.83,20.76 466.00,22.01 466.00,24.51 463.83,25.76 461.67,24.51 461.67,22.01" fill="#ffb900"/>
<polygon points="468.16,20.76 470.33,22.01 470.33,24.51 468.16,25.76 466.00,24.51 466.00,22.01" fill="#ff4600"/>
<polygon points="472.50,20.76 474.66,22.01 474.66,24.51 472.50,25.76 470.33,24.51 470.33,22.01" fill="#ff4600"/>
<polygon points="448.68,24.39 450.85,25.64 450.85,28.14 448.68,29.39 446.51,28.14 446.51,25.64" fill="#ff0d00"/>
<polygon points="453.01,24.39 455.18,25.64 455.18,28.14 453.01,29.39 450.84,28.14 450.84,25.64" fill="#ff8400"/>
<polygon points="457.34,24.39 459.51,25.64 459.51,28.14 457.34,29.39 455.18,28.14 455.18,25.64" fill="#ff8400"/>
<polygon points="461.67,24.39 463.84,25.64 463.84,28.14 461.67,29.39 459.50,28.14 459.50,25.64" fill="#ff8400"/>
<polygon points="466.00,24.39 468.17,25.64 468.17,28.14 466.00,29.39 463.83,28.14 463.83,25.64" fill="#ff4600"/>
<polygon points="470.33,24.39 472.50,25.64 472.50,28.14 470.33,29.39 468.16,28.14 468.16,25.64" fill="#ffb900"/>
<polygon points="474.66,24.39 476.83,25.64 476.83,28.14 474.66,29.39 472.50,28.14 472.50,25.64" fill="#ff4600"/>
<polygon points="446.51,28.02 448.68,29.27 448.68,31.77 446.51,33.02 444.35,31.77 444.35,29.27" fill="#ff8400"/>
<polygon points="450.84,28.02 453.01,29.27 453.01,31.77 450.84,33.02 448.68,31.77 448.68,29.27" fill="#ff4600"/>
<polygon points="455.18,28.02 457.34,29.27 457.34,31.77 455.18,33.02 453.01,31.77 453.01,29.27" fill="#ff4600"/>
<polygon points="459.50,28.02 461.67,29.27 461.67,31.77 459.50,33.02 457.34,31.77 457.34,29.27" fill="#ff8400"/>
<polygon points="463.83,28.02 466.00,29.27 466.00,31.77 463.83,33.02 461.67,31.77 461.67,29.27" fill="#ffffe8"/>
<polygon points="468.16,28.02 470.33,29.27 470.33,31.77 468.16,33.02 466.00,31.77 466.00,29.27" fill="#ff8400"/>
<polygon points="472.50,28.02 474.66,29.27 474.66,31.77 472.50,33.02 470.33,31.77 470.33,29.27" fill="#ff4600"/>
<polygon points="448.68,31.65 450.85,32.90 450.85,35.40 448.68,36.65 446.51,35.40 446.51,32.90" fill="#ff0d00"/>
<polygon points="453.01,31.65 455.18,32.90 455.18,35.40 453.01,36.65 450.84,35.40 450.84,32.90" fill="#ff4600"/>
<polygon points="457.34,31.65 459.51,32.90 459.51,35.40 457.34,36.65 455.18,35.40 455.18,32.90" fill="#ff4600"/>
<polygon points="461.67,31.65 463.84,32.90 463.84,35.40 461.67,36.65 459.50,35.40 459.50,32.90" fill="#ff4600"/>
<polygon points="466.00,31.65 468.17,32.90 468.17,35.40 466.00,36.65 463.83,35.40 463.83,32.90" fill="#ff4600"/>
<polygon points="470.33,31.65 472.50,32.90 472.50,35.40 470.33,36.65 468.16,35.40 468.16,32.90" fill="#ff0d00"/>
<polygon points="474.66,31.65 476.83,32.90 476.83,35.40 474.66,36.65 472.50,35.40 472.50,32.90" fill="#ff0d00"/>
<polygon points="446.51,35.28 448.68,36.53 448.68,39.03 446.51,40.28 444.35,39.03 444.35,36.53" fill="#ff0d00"/>
<polygon points="450.84,35.28 453.01,36.53 453.01,39.03 450.84,40.28 448.68,39.03 448.68,36.53" fill="#ff0d00"/>
<polygon points="455.18,35.28 457.34,36.53 457.34,39.03 455.18,40.28 453.01,39.03 453.01,36.53" fill="#ff4600"/>
<polygon points="459.50,35.28 461.67,36.53 461.67,39.03 459.50,40.28 457.34,39.03 457.34,36.53" fill="#ff8400"/>
<polygon points="463.83,35.28 466.00,36.53 466.00,39.03 463.83,40.28 461.67,39.03 461.67,36.53" fill="#ff4600"/>
<polygon points="468.16,35.28 470.33,36.53 470.33,39.03 468.16,40.28 466.00,39.03 466.00,36.53" fill="#ff0d00"/>
<polygon points="472.50,35.28 474.66,36.53 474.66,39.03 472.50,40.28 470.33,39.03 470.33,36.53" fill="#ff0d00"/>
<polygon points="448.68,38.91 450.85,40.16 450.85,42.66 448.68,43.91 446.51,42.66 446.51,40.16" fill="#ff0d00"/>
<polygon points="453.01,38.91 455.18,40.16 455.18,42.66 453.01,43.91 450.84,42.66 450.84,40.16" fill="#ff4600"/>
<polygon points="457.34,38.91 459.51,40.16 459.51,42.66 457.34,43.91 455.18,42.66 455.18,40.16" fill="#ff4600"/>
<polygon points="461.67,38.91 463.84,40.16 463.84,42.66 461.67,43.91 459.50,42.66 459.50,40.16" fill="#ff4600"/>
<polygon points="466.00,38.91 468.17,40.16 468.17,42.66 466.00,43.91 463.83,42.66 463.83,40.16" fill="#ff0d00"/>
<polygon points="470.33,38.91 472.50,40.16 472.50,42.66 470.33,43.91 468.16,42.66 468.16,40.16" fill="#ff0d00"/>
<polygon points="474.66,38.91 476.83,40.16 476.83,42.66 474.66,43.91 472.50,42.66 472.50,40.16" fill="#ff0d00"/>
<polygon points="446.51,42.54 448.68,43.79 448.68,46.29 446.51,47.54 444.35,46.29 444.35,43.79" fill="#ffb900"/>
<polygon points="450.84,42.54 453.01,43.79 453.01,46.29 450.84,47.54 448.68,46.29 448.68,43.79" fill="#ffb900"/>
<polygon points="455.18,42.54 457.34,43.79 457.34,46.29 455.18,47.54 453.01,46.29 453.01,43.79" fill="#ff0d00"/>
<polygon points="459.50,42.54 461.67,43.79 461.67,46.29 459.50,47.54 457.34,46.29 457.34,43.79" fill="#ff0d00"/>
<polygon points="463.83,42.54 466.00,43.79 466.00,46.29 463.83,47.54 461.67,46.29 461.67,43.79" fill="#ff0d00"/>
<polygon points="468.16,42.54 470.33,43.79 470.33,46.29 468.16,47.54 466.00,46.29 466.00,43.79" fill="#ff0d00"/>
<polygon points="472.50,42.54 474.66,43.79 474.66,46.29 472.50,47.54 470.33,46.29 470.33,43.79" fill="#ff0d00"/>
<polygon points="448.68,46.17 450.85,47.42 450.85,49.92 448.68,51.17 446.51,49.92 446.51,47.42" fill="#fff000"/>
<polygon points="453.01,46.17 455.18,47.42 455.18,49.92 453.01,51.17 450.84,49.92 450.84,47.42" fill="#fff000"/>
<polygon points="457.34,46.17 459.51,47.42 459.51,49.92 457.34,51.17 455.18,49.92 455.18,47.42" fill="#ffb900"/>
<polygon points="461.67,46.17 463.84,47.42 463.84,49.92 461.67,51.17 459.50,49.92 459.50,47.42" fill="#ff4600"/>
<polygon points="466.00,46.17 468.17,47.42 468.17,49.92 466.00,51.17 463.83,49.92 463.83,47.42" fill="#ff0d00"/>
<polygon points="470.33,46.17 472.50,47.42 472.50,49.92 470.33,51.17 468.16,49.92 468.16,47.42" fill="#ff0d00"/>
<polygon points="474.66,46.17 476.83,47.42 476.83,49.92 474.66,51.17 472.50,49.92 472.50,47.42" fill="#ff0d00"/>
</g></g>
<g>
<text x="521.7" y="10.8" font-size="5.3" fill="#111" stroke="#111" stroke-width="0.12" text-anchor="middle">Middle-flow region</text>
<rect x="504.0" y="13.7" width="1.1" height="36.9" fill="url(#cb)"/>
<text x="503.2" y="20.0" font-size="1.9" fill="#999" text-anchor="end">0.8</text>
<text x="503.2" y="28.2" font-size="1.9" fill="#999" text-anchor="end">0.6</text>
<text x="503.2" y="36.4" font-size="1.9" fill="#999" text-anchor="end">0.4</text>
<text x="503.2" y="44.6" font-size="1.9" fill="#999" text-anchor="end">0.2</text>
<g stroke="#6a1208" stroke-opacity="0.8" stroke-width="0.5">
<polygon points="508.67,13.50 510.83,14.75 510.83,17.25 508.67,18.50 506.50,17.25 506.50,14.75" fill="#ff0d00"/>
<polygon points="513.00,13.50 515.16,14.75 515.16,17.25 513.00,18.50 510.83,17.25 510.83,14.75" fill="#ff0d00"/>
<polygon points="517.33,13.50 519.49,14.75 519.49,17.25 517.33,18.50 515.16,17.25 515.16,14.75" fill="#ff4600"/>
<polygon points="521.65,13.50 523.82,14.75 523.82,17.25 521.65,18.50 519.49,17.25 519.49,14.75" fill="#ff4600"/>
<polygon points="525.99,13.50 528.15,14.75 528.15,17.25 525.99,18.50 523.82,17.25 523.82,14.75" fill="#ff8400"/>
<polygon points="530.32,13.50 532.48,14.75 532.48,17.25 530.32,18.50 528.15,17.25 528.15,14.75" fill="#ff0d00"/>
<polygon points="534.64,13.50 536.81,14.75 536.81,17.25 534.64,18.50 532.48,17.25 532.48,14.75" fill="#ff8400"/>
<polygon points="510.83,17.13 513.00,18.38 513.00,20.88 510.83,22.13 508.67,20.88 508.67,18.38" fill="#ff4600"/>
<polygon points="515.16,17.13 517.32,18.38 517.32,20.88 515.16,22.13 513.00,20.88 513.00,18.38" fill="#fff000"/>
<polygon points="519.49,17.13 521.65,18.38 521.65,20.88 519.49,22.13 517.33,20.88 517.33,18.38" fill="#fff000"/>
<polygon points="523.82,17.13 525.98,18.38 525.98,20.88 523.82,22.13 521.65,20.88 521.65,18.38" fill="#ff8400"/>
<polygon points="528.15,17.13 530.31,18.38 530.31,20.88 528.15,22.13 525.99,20.88 525.99,18.38" fill="#ff8400"/>
<polygon points="532.48,17.13 534.64,18.38 534.64,20.88 532.48,22.13 530.32,20.88 530.32,18.38" fill="#ff8400"/>
<polygon points="536.81,17.13 538.97,18.38 538.97,20.88 536.81,22.13 534.64,20.88 534.64,18.38" fill="#ff8400"/>
<polygon points="508.67,20.76 510.83,22.01 510.83,24.51 508.67,25.76 506.50,24.51 506.50,22.01" fill="#ff4600"/>
<polygon points="513.00,20.76 515.16,22.01 515.16,24.51 513.00,25.76 510.83,24.51 510.83,22.01" fill="#ffb900"/>
<polygon points="517.33,20.76 519.49,22.01 519.49,24.51 517.33,25.76 515.16,24.51 515.16,22.01" fill="#ff8400"/>
<polygon points="521.65,20.76 523.82,22.01 523.82,24.51 521.65,25.76 519.49,24.51 519.49,22.01" fill="#ff8400"/>
<polygon points="525.99,20.76 528.15,22.01 528.15,24.51 525.99,25.76 523.82,24.51 523.82,22.01" fill="#ff8400"/>
<polygon points="530.32,20.76 532.48,22.01 532.48,24.51 530.32,25.76 528.15,24.51 528.15,22.01" fill="#fff000"/>
<polygon points="534.64,20.76 536.81,22.01 536.81,24.51 534.64,25.76 532.48,24.51 532.48,22.01" fill="#ff8400"/>
<polygon points="510.83,24.39 513.00,25.64 513.00,28.14 510.83,29.39 508.67,28.14 508.67,25.64" fill="#ffff70"/>
<polygon points="515.16,24.39 517.32,25.64 517.32,28.14 515.16,29.39 513.00,28.14 513.00,25.64" fill="#ff8400"/>
<polygon points="519.49,24.39 521.65,25.64 521.65,28.14 519.49,29.39 517.33,28.14 517.33,25.64" fill="#ff8400"/>
<polygon points="523.82,24.39 525.98,25.64 525.98,28.14 523.82,29.39 521.65,28.14 521.65,25.64" fill="#ff4600"/>
<polygon points="528.15,24.39 530.31,25.64 530.31,28.14 528.15,29.39 525.99,28.14 525.99,25.64" fill="#ff8400"/>
<polygon points="532.48,24.39 534.64,25.64 534.64,28.14 532.48,29.39 530.32,28.14 530.32,25.64" fill="#ff8400"/>
<polygon points="536.81,24.39 538.97,25.64 538.97,28.14 536.81,29.39 534.64,28.14 534.64,25.64" fill="#fff000"/>
<polygon points="508.67,28.02 510.83,29.27 510.83,31.77 508.67,33.02 506.50,31.77 506.50,29.27" fill="#ff4600"/>
<polygon points="513.00,28.02 515.16,29.27 515.16,31.77 513.00,33.02 510.83,31.77 510.83,29.27" fill="#ffff70"/>
<polygon points="517.33,28.02 519.49,29.27 519.49,31.77 517.33,33.02 515.16,31.77 515.16,29.27" fill="#ff8400"/>
<polygon points="521.65,28.02 523.82,29.27 523.82,31.77 521.65,33.02 519.49,31.77 519.49,29.27" fill="#ff4600"/>
<polygon points="525.99,28.02 528.15,29.27 528.15,31.77 525.99,33.02 523.82,31.77 523.82,29.27" fill="#ff0d00"/>
<polygon points="530.32,28.02 532.48,29.27 532.48,31.77 530.32,33.02 528.15,31.77 528.15,29.27" fill="#ff8400"/>
<polygon points="534.64,28.02 536.81,29.27 536.81,31.77 534.64,33.02 532.48,31.77 532.48,29.27" fill="#ffb900"/>
<polygon points="510.83,31.65 513.00,32.90 513.00,35.40 510.83,36.65 508.67,35.40 508.67,32.90" fill="#ff4600"/>
<polygon points="515.16,31.65 517.32,32.90 517.32,35.40 515.16,36.65 513.00,35.40 513.00,32.90" fill="#fff000"/>
<polygon points="519.49,31.65 521.65,32.90 521.65,35.40 519.49,36.65 517.33,35.40 517.33,32.90" fill="#ff8400"/>
<polygon points="523.82,31.65 525.98,32.90 525.98,35.40 523.82,36.65 521.65,35.40 521.65,32.90" fill="#ff4600"/>
<polygon points="528.15,31.65 530.31,32.90 530.31,35.40 528.15,36.65 525.99,35.40 525.99,32.90" fill="#ff8400"/>
<polygon points="532.48,31.65 534.64,32.90 534.64,35.40 532.48,36.65 530.32,35.40 530.32,32.90" fill="#ff8400"/>
<polygon points="536.81,31.65 538.97,32.90 538.97,35.40 536.81,36.65 534.64,35.40 534.64,32.90" fill="#ffffe8"/>
<polygon points="508.67,35.28 510.83,36.53 510.83,39.03 508.67,40.28 506.50,39.03 506.50,36.53" fill="#ff8400"/>
<polygon points="513.00,35.28 515.16,36.53 515.16,39.03 513.00,40.28 510.83,39.03 510.83,36.53" fill="#ff8400"/>
<polygon points="517.33,35.28 519.49,36.53 519.49,39.03 517.33,40.28 515.16,39.03 515.16,36.53" fill="#ffb900"/>
<polygon points="521.65,35.28 523.82,36.53 523.82,39.03 521.65,40.28 519.49,39.03 519.49,36.53" fill="#ff8400"/>
<polygon points="525.99,35.28 528.15,36.53 528.15,39.03 525.99,40.28 523.82,39.03 523.82,36.53" fill="#ff8400"/>
<polygon points="530.32,35.28 532.48,36.53 532.48,39.03 530.32,40.28 528.15,39.03 528.15,36.53" fill="#ffb900"/>
<polygon points="534.64,35.28 536.81,36.53 536.81,39.03 534.64,40.28 532.48,39.03 532.48,36.53" fill="#ff8400"/>
<polygon points="510.83,38.91 513.00,40.16 513.00,42.66 510.83,43.91 508.67,42.66 508.67,40.16" fill="#ff8400"/>
<polygon points="515.16,38.91 517.32,40.16 517.32,42.66 515.16,43.91 513.00,42.66 513.00,40.16" fill="#fff000"/>
<polygon points="519.49,38.91 521.65,40.16 521.65,42.66 519.49,43.91 517.33,42.66 517.33,40.16" fill="#fff000"/>
<polygon points="523.82,38.91 525.98,40.16 525.98,42.66 523.82,43.91 521.65,42.66 521.65,40.16" fill="#ff4600"/>
<polygon points="528.15,38.91 530.31,40.16 530.31,42.66 528.15,43.91 525.99,42.66 525.99,40.16" fill="#fff000"/>
<polygon points="532.48,38.91 534.64,40.16 534.64,42.66 532.48,43.91 530.32,42.66 530.32,40.16" fill="#ff8400"/>
<polygon points="536.81,38.91 538.97,40.16 538.97,42.66 536.81,43.91 534.64,42.66 534.64,40.16" fill="#ff8400"/>
<polygon points="508.67,42.54 510.83,43.79 510.83,46.29 508.67,47.54 506.50,46.29 506.50,43.79" fill="#ff0d00"/>
<polygon points="513.00,42.54 515.16,43.79 515.16,46.29 513.00,47.54 510.83,46.29 510.83,43.79" fill="#ff4600"/>
<polygon points="517.33,42.54 519.49,43.79 519.49,46.29 517.33,47.54 515.16,46.29 515.16,43.79" fill="#fff000"/>
<polygon points="521.65,42.54 523.82,43.79 523.82,46.29 521.65,47.54 519.49,46.29 519.49,43.79" fill="#ffb900"/>
<polygon points="525.99,42.54 528.15,43.79 528.15,46.29 525.99,47.54 523.82,46.29 523.82,43.79" fill="#ff8400"/>
<polygon points="530.32,42.54 532.48,43.79 532.48,46.29 530.32,47.54 528.15,46.29 528.15,43.79" fill="#fff000"/>
<polygon points="534.64,42.54 536.81,43.79 536.81,46.29 534.64,47.54 532.48,46.29 532.48,43.79" fill="#ff4600"/>
<polygon points="510.83,46.17 513.00,47.42 513.00,49.92 510.83,51.17 508.67,49.92 508.67,47.42" fill="#ff0d00"/>
<polygon points="515.16,46.17 517.32,47.42 517.32,49.92 515.16,51.17 513.00,49.92 513.00,47.42" fill="#ff8400"/>
<polygon points="519.49,46.17 521.65,47.42 521.65,49.92 519.49,51.17 517.33,49.92 517.33,47.42" fill="#ff4600"/>
<polygon points="523.82,46.17 525.98,47.42 525.98,49.92 523.82,51.17 521.65,49.92 521.65,47.42" fill="#ff4600"/>
<polygon points="528.15,46.17 530.31,47.42 530.31,49.92 528.15,51.17 525.99,49.92 525.99,47.42" fill="#ff4600"/>
<polygon points="532.48,46.17 534.64,47.42 534.64,49.92 532.48,51.17 530.32,49.92 530.32,47.42" fill="#fff000"/>
<polygon points="536.81,46.17 538.97,47.42 538.97,49.92 536.81,51.17 534.64,49.92 534.64,47.42" fill="#ff8400"/>
</g></g>
<g>
<text x="272.7" y="61.9" font-size="5.3" fill="#111" stroke="#111" stroke-width="0.12" text-anchor="middle">Outflow&#160; region</text>
<rect x="255.4" y="64.8" width="1.1" height="36.9" fill="url(#cb)"/>
<text x="254.6" y="71.1" font-size="1.9" fill="#999" text-anchor="end">0.8</text>
<text x="254.6" y="79.3" font-size="1.9" fill="#999" text-anchor="end">0.6</text>
<text x="254.6" y="87.5" font-size="1.9" fill="#999" text-anchor="end">0.4</text>
<text x="254.6" y="95.7" font-size="1.9" fill="#999" text-anchor="end">0.2</text>
<g stroke="#6a1208" stroke-opacity="0.8" stroke-width="0.5">
<polygon points="260.06,64.60 262.23,65.85 262.23,68.35 260.06,69.60 257.90,68.35 257.90,65.85" fill="#fff000"/>
<polygon points="264.39,64.60 266.56,65.85 266.56,68.35 264.39,69.60 262.23,68.35 262.23,65.85" fill="#ffff70"/>
<polygon points="268.73,64.60 270.89,65.85 270.89,68.35 268.73,69.60 266.56,68.35 266.56,65.85" fill="#ffb900"/>
<polygon points="273.06,64.60 275.22,65.85 275.22,68.35 273.06,69.60 270.89,68.35 270.89,65.85" fill="#ffb900"/>
<polygon points="277.38,64.60 279.55,65.85 279.55,68.35 277.38,69.60 275.22,68.35 275.22,65.85" fill="#ffb900"/>
<polygon points="281.71,64.60 283.88,65.85 283.88,68.35 281.71,69.60 279.55,68.35 279.55,65.85" fill="#ffff70"/>
<polygon points="286.05,64.60 288.21,65.85 288.21,68.35 286.05,69.60 283.88,68.35 283.88,65.85" fill="#ff0d00"/>
<polygon points="262.23,68.23 264.40,69.48 264.40,71.98 262.23,73.23 260.06,71.98 260.06,69.48" fill="#fff000"/>
<polygon points="266.56,68.23 268.73,69.48 268.73,71.98 266.56,73.23 264.39,71.98 264.39,69.48" fill="#ffb900"/>
<polygon points="270.89,68.23 273.06,69.48 273.06,71.98 270.89,73.23 268.73,71.98 268.73,69.48" fill="#ff0d00"/>
<polygon points="275.22,68.23 277.39,69.48 277.39,71.98 275.22,73.23 273.06,71.98 273.06,69.48" fill="#fff000"/>
<polygon points="279.55,68.23 281.72,69.48 281.72,71.98 279.55,73.23 277.38,71.98 277.38,69.48" fill="#ffb900"/>
<polygon points="283.88,68.23 286.05,69.48 286.05,71.98 283.88,73.23 281.71,71.98 281.71,69.48" fill="#ff0d00"/>
<polygon points="288.21,68.23 290.38,69.48 290.38,71.98 288.21,73.23 286.05,71.98 286.05,69.48" fill="#ff4600"/>
<polygon points="260.06,71.86 262.23,73.11 262.23,75.61 260.06,76.86 257.90,75.61 257.90,73.11" fill="#ffb900"/>
<polygon points="264.39,71.86 266.56,73.11 266.56,75.61 264.39,76.86 262.23,75.61 262.23,73.11" fill="#ff4600"/>
<polygon points="268.73,71.86 270.89,73.11 270.89,75.61 268.73,76.86 266.56,75.61 266.56,73.11" fill="#ff8400"/>
<polygon points="273.06,71.86 275.22,73.11 275.22,75.61 273.06,76.86 270.89,75.61 270.89,73.11" fill="#ff8400"/>
<polygon points="277.38,71.86 279.55,73.11 279.55,75.61 277.38,76.86 275.22,75.61 275.22,73.11" fill="#ff8400"/>
<polygon points="281.71,71.86 283.88,73.11 283.88,75.61 281.71,76.86 279.55,75.61 279.55,73.11" fill="#ff4600"/>
<polygon points="286.05,71.86 288.21,73.11 288.21,75.61 286.05,76.86 283.88,75.61 283.88,73.11" fill="#ff0d00"/>
<polygon points="262.23,75.49 264.40,76.74 264.40,79.24 262.23,80.49 260.06,79.24 260.06,76.74" fill="#ff0d00"/>
<polygon points="266.56,75.49 268.73,76.74 268.73,79.24 266.56,80.49 264.39,79.24 264.39,76.74" fill="#ff8400"/>
<polygon points="270.89,75.49 273.06,76.74 273.06,79.24 270.89,80.49 268.73,79.24 268.73,76.74" fill="#ff8400"/>
<polygon points="275.22,75.49 277.39,76.74 277.39,79.24 275.22,80.49 273.06,79.24 273.06,76.74" fill="#fff000"/>
<polygon points="279.55,75.49 281.72,76.74 281.72,79.24 279.55,80.49 277.38,79.24 277.38,76.74" fill="#ff8400"/>
<polygon points="283.88,75.49 286.05,76.74 286.05,79.24 283.88,80.49 281.71,79.24 281.71,76.74" fill="#ff4600"/>
<polygon points="288.21,75.49 290.38,76.74 290.38,79.24 288.21,80.49 286.05,79.24 286.05,76.74" fill="#ff0d00"/>
<polygon points="260.06,79.12 262.23,80.37 262.23,82.87 260.06,84.12 257.90,82.87 257.90,80.37" fill="#fff000"/>
<polygon points="264.39,79.12 266.56,80.37 266.56,82.87 264.39,84.12 262.23,82.87 262.23,80.37" fill="#ff0d00"/>
<polygon points="268.73,79.12 270.89,80.37 270.89,82.87 268.73,84.12 266.56,82.87 266.56,80.37" fill="#fff000"/>
<polygon points="273.06,79.12 275.22,80.37 275.22,82.87 273.06,84.12 270.89,82.87 270.89,80.37" fill="#fff000"/>
<polygon points="277.38,79.12 279.55,80.37 279.55,82.87 277.38,84.12 275.22,82.87 275.22,80.37" fill="#ff0d00"/>
<polygon points="281.71,79.12 283.88,80.37 283.88,82.87 281.71,84.12 279.55,82.87 279.55,80.37" fill="#ff8400"/>
<polygon points="286.05,79.12 288.21,80.37 288.21,82.87 286.05,84.12 283.88,82.87 283.88,80.37" fill="#ff8400"/>
<polygon points="262.23,82.75 264.40,84.00 264.40,86.50 262.23,87.75 260.06,86.50 260.06,84.00" fill="#ffff70"/>
<polygon points="266.56,82.75 268.73,84.00 268.73,86.50 266.56,87.75 264.39,86.50 264.39,84.00" fill="#ff4600"/>
<polygon points="270.89,82.75 273.06,84.00 273.06,86.50 270.89,87.75 268.73,86.50 268.73,84.00" fill="#ff8400"/>
<polygon points="275.22,82.75 277.39,84.00 277.39,86.50 275.22,87.75 273.06,86.50 273.06,84.00" fill="#ff4600"/>
<polygon points="279.55,82.75 281.72,84.00 281.72,86.50 279.55,87.75 277.38,86.50 277.38,84.00" fill="#ff8400"/>
<polygon points="283.88,82.75 286.05,84.00 286.05,86.50 283.88,87.75 281.71,86.50 281.71,84.00" fill="#fff000"/>
<polygon points="288.21,82.75 290.38,84.00 290.38,86.50 288.21,87.75 286.05,86.50 286.05,84.00" fill="#ff0d00"/>
<polygon points="260.06,86.38 262.23,87.63 262.23,90.13 260.06,91.38 257.90,90.13 257.90,87.63" fill="#fff000"/>
<polygon points="264.39,86.38 266.56,87.63 266.56,90.13 264.39,91.38 262.23,90.13 262.23,87.63" fill="#fff000"/>
<polygon points="268.73,86.38 270.89,87.63 270.89,90.13 268.73,91.38 266.56,90.13 266.56,87.63" fill="#ff8400"/>
<polygon points="273.06,86.38 275.22,87.63 275.22,90.13 273.06,91.38 270.89,90.13 270.89,87.63" fill="#ff8400"/>
<polygon points="277.38,86.38 279.55,87.63 279.55,90.13 277.38,91.38 275.22,90.13 275.22,87.63" fill="#ff4600"/>
<polygon points="281.71,86.38 283.88,87.63 283.88,90.13 281.71,91.38 279.55,90.13 279.55,87.63" fill="#ff8400"/>
<polygon points="286.05,86.38 288.21,87.63 288.21,90.13 286.05,91.38 283.88,90.13 283.88,87.63" fill="#fff000"/>
<polygon points="262.23,90.01 264.40,91.26 264.40,93.76 262.23,95.01 260.06,93.76 260.06,91.26" fill="#ffb900"/>
<polygon points="266.56,90.01 268.73,91.26 268.73,93.76 266.56,95.01 264.39,93.76 264.39,91.26" fill="#ff8400"/>
<polygon points="270.89,90.01 273.06,91.26 273.06,93.76 270.89,95.01 268.73,93.76 268.73,91.26" fill="#ff8400"/>
<polygon points="275.22,90.01 277.39,91.26 277.39,93.76 275.22,95.01 273.06,93.76 273.06,91.26" fill="#fff000"/>
<polygon points="279.55,90.01 281.72,91.26 281.72,93.76 279.55,95.01 277.38,93.76 277.38,91.26" fill="#ff4600"/>
<polygon points="283.88,90.01 286.05,91.26 286.05,93.76 283.88,95.01 281.71,93.76 281.71,91.26" fill="#ff8400"/>
<polygon points="288.21,90.01 290.38,91.26 290.38,93.76 288.21,95.01 286.05,93.76 286.05,91.26" fill="#fff000"/>
<polygon points="260.06,93.64 262.23,94.89 262.23,97.39 260.06,98.64 257.90,97.39 257.90,94.89" fill="#ffb900"/>
<polygon points="264.39,93.64 266.56,94.89 266.56,97.39 264.39,98.64 262.23,97.39 262.23,94.89" fill="#ff8400"/>
<polygon points="268.73,93.64 270.89,94.89 270.89,97.39 268.73,98.64 266.56,97.39 266.56,94.89" fill="#ff8400"/>
<polygon points="273.06,93.64 275.22,94.89 275.22,97.39 273.06,98.64 270.89,97.39 270.89,94.89" fill="#ffb900"/>
<polygon points="277.38,93.64 279.55,94.89 279.55,97.39 277.38,98.64 275.22,97.39 275.22,94.89" fill="#ff8400"/>
<polygon points="281.71,93.64 283.88,94.89 283.88,97.39 281.71,98.64 279.55,97.39 279.55,94.89" fill="#ff8400"/>
<polygon points="286.05,93.64 288.21,94.89 288.21,97.39 286.05,98.64 283.88,97.39 283.88,94.89" fill="#ffb900"/>
<polygon points="262.23,97.27 264.40,98.52 264.40,101.02 262.23,102.27 260.06,101.02 260.06,98.52" fill="#ff4600"/>
<polygon points="266.56,97.27 268.73,98.52 268.73,101.02 266.56,102.27 264.39,101.02 264.39,98.52" fill="#ff4600"/>
<polygon points="270.89,97.27 273.06,98.52 273.06,101.02 270.89,102.27 268.73,101.02 268.73,98.52" fill="#ff8400"/>
<polygon points="275.22,97.27 277.39,98.52 277.39,101.02 275.22,102.27 273.06,101.02 273.06,98.52" fill="#ff8400"/>
<polygon points="279.55,97.27 281.72,98.52 281.72,101.02 279.55,102.27 277.38,101.02 277.38,98.52" fill="#ffffe8"/>
<polygon points="283.88,97.27 286.05,98.52 286.05,101.02 283.88,102.27 281.71,101.02 281.71,98.52" fill="#ff8400"/>
<polygon points="288.21,97.27 290.38,98.52 290.38,101.02 288.21,102.27 286.05,101.02 286.05,98.52" fill="#ff8400"/>
</g></g>
<g>
<text x="334.9" y="61.9" font-size="5.3" fill="#111" stroke="#111" stroke-width="0.12" text-anchor="middle">Month</text>
<rect x="317.5" y="64.8" width="1.1" height="36.9" fill="url(#cb)"/>
<text x="316.7" y="71.1" font-size="1.9" fill="#999" text-anchor="end">0.8</text>
<text x="316.7" y="79.3" font-size="1.9" fill="#999" text-anchor="end">0.6</text>
<text x="316.7" y="87.5" font-size="1.9" fill="#999" text-anchor="end">0.4</text>
<text x="316.7" y="95.7" font-size="1.9" fill="#999" text-anchor="end">0.2</text>
<g stroke="#6a1208" stroke-opacity="0.8" stroke-width="0.5">
<polygon points="322.21,64.60 324.38,65.85 324.38,68.35 322.21,69.60 320.05,68.35 320.05,65.85" fill="#ff8400"/>
<polygon points="326.54,64.60 328.71,65.85 328.71,68.35 326.54,69.60 324.38,68.35 324.38,65.85" fill="#ff8400"/>
<polygon points="330.88,64.60 333.04,65.85 333.04,68.35 330.88,69.60 328.71,68.35 328.71,65.85" fill="#ff8400"/>
<polygon points="335.20,64.60 337.37,65.85 337.37,68.35 335.20,69.60 333.04,68.35 333.04,65.85" fill="#ff4600"/>
<polygon points="339.53,64.60 341.70,65.85 341.70,68.35 339.53,69.60 337.37,68.35 337.37,65.85" fill="#ffb900"/>
<polygon points="343.86,64.60 346.03,65.85 346.03,68.35 343.86,69.60 341.70,68.35 341.70,65.85" fill="#ff4600"/>
<polygon points="348.19,64.60 350.36,65.85 350.36,68.35 348.19,69.60 346.03,68.35 346.03,65.85" fill="#ff8400"/>
<polygon points="324.38,68.23 326.55,69.48 326.55,71.98 324.38,73.23 322.21,71.98 322.21,69.48" fill="#ffb900"/>
<polygon points="328.71,68.23 330.88,69.48 330.88,71.98 328.71,73.23 326.54,71.98 326.54,69.48" fill="#fff000"/>
<polygon points="333.04,68.23 335.21,69.48 335.21,71.98 333.04,73.23 330.88,71.98 330.88,69.48" fill="#ffb900"/>
<polygon points="337.37,68.23 339.54,69.48 339.54,71.98 337.37,73.23 335.20,71.98 335.20,69.48" fill="#ffb900"/>
<polygon points="341.70,68.23 343.87,69.48 343.87,71.98 341.70,73.23 339.53,71.98 339.53,69.48" fill="#ffb900"/>
<polygon points="346.03,68.23 348.19,69.48 348.19,71.98 346.03,73.23 343.86,71.98 343.86,69.48" fill="#ff8400"/>
<polygon points="350.36,68.23 352.53,69.48 352.53,71.98 350.36,73.23 348.19,71.98 348.19,69.48" fill="#ff8400"/>
<polygon points="322.21,71.86 324.38,73.11 324.38,75.61 322.21,76.86 320.05,75.61 320.05,73.11" fill="#ffb900"/>
<polygon points="326.54,71.86 328.71,73.11 328.71,75.61 326.54,76.86 324.38,75.61 324.38,73.11" fill="#fff000"/>
<polygon points="330.88,71.86 333.04,73.11 333.04,75.61 330.88,76.86 328.71,75.61 328.71,73.11" fill="#fff000"/>
<polygon points="335.20,71.86 337.37,73.11 337.37,75.61 335.20,76.86 333.04,75.61 333.04,73.11" fill="#ffb900"/>
<polygon points="339.53,71.86 341.70,73.11 341.70,75.61 339.53,76.86 337.37,75.61 337.37,73.11" fill="#ffb900"/>
<polygon points="343.86,71.86 346.03,73.11 346.03,75.61 343.86,76.86 341.70,75.61 341.70,73.11" fill="#ff8400"/>
<polygon points="348.19,71.86 350.36,73.11 350.36,75.61 348.19,76.86 346.03,75.61 346.03,73.11" fill="#ff8400"/>
<polygon points="324.38,75.49 326.55,76.74 326.55,79.24 324.38,80.49 322.21,79.24 322.21,76.74" fill="#ffb900"/>
<polygon points="328.71,75.49 330.88,76.74 330.88,79.24 328.71,80.49 326.54,79.24 326.54,76.74" fill="#fff000"/>
<polygon points="333.04,75.49 335.21,76.74 335.21,79.24 333.04,80.49 330.88,79.24 330.88,76.74" fill="#ffb900"/>
<polygon points="337.37,75.49 339.54,76.74 339.54,79.24 337.37,80.49 335.20,79.24 335.20,76.74" fill="#ff8400"/>
<polygon points="341.70,75.49 343.87,76.74 343.87,79.24 341.70,80.49 339.53,79.24 339.53,76.74" fill="#ff4600"/>
<polygon points="346.03,75.49 348.19,76.74 348.19,79.24 346.03,80.49 343.86,79.24 343.86,76.74" fill="#ff8400"/>
<polygon points="350.36,75.49 352.53,76.74 352.53,79.24 350.36,80.49 348.19,79.24 348.19,76.74" fill="#ffb900"/>
<polygon points="322.21,79.12 324.38,80.37 324.38,82.87 322.21,84.12 320.05,82.87 320.05,80.37" fill="#ffb900"/>
<polygon points="326.54,79.12 328.71,80.37 328.71,82.87 326.54,84.12 324.38,82.87 324.38,80.37" fill="#fff000"/>
<polygon points="330.88,79.12 333.04,80.37 333.04,82.87 330.88,84.12 328.71,82.87 328.71,80.37" fill="#ff8400"/>
<polygon points="335.20,79.12 337.37,80.37 337.37,82.87 335.20,84.12 333.04,82.87 333.04,80.37" fill="#ff8400"/>
<polygon points="339.53,79.12 341.70,80.37 341.70,82.87 339.53,84.12 337.37,82.87 337.37,80.37" fill="#ffffe8"/>
<polygon points="343.86,79.12 346.03,80.37 346.03,82.87 343.86,84.12 341.70,82.87 341.70,80.37" fill="#ff4600"/>
<polygon points="348.19,79.12 350.36,80.37 350.36,82.87 348.19,84.12 346.03,82.87 346.03,80.37" fill="#ff8400"/>
<polygon points="324.38,82.75 326.55,84.00 326.55,86.50 324.38,87.75 322.21,86.50 322.21,84.00" fill="#ff4600"/>
<polygon points="328.71,82.75 330.88,84.00 330.88,86.50 328.71,87.75 326.54,86.50 326.54,84.00" fill="#ffb900"/>
<polygon points="333.04,82.75 335.21,84.00 335.21,86.50 333.04,87.75 330.88,86.50 330.88,84.00" fill="#ff8400"/>
<polygon points="337.37,82.75 339.54,84.00 339.54,86.50 337.37,87.75 335.20,86.50 335.20,84.00" fill="#ff4600"/>
<polygon points="341.70,82.75 343.87,84.00 343.87,86.50 341.70,87.75 339.53,86.50 339.53,84.00" fill="#ffb900"/>
<polygon points="346.03,82.75 348.19,84.00 348.19,86.50 346.03,87.75 343.86,86.50 343.86,84.00" fill="#ff8400"/>
<polygon points="350.36,82.75 352.53,84.00 352.53,86.50 350.36,87.75 348.19,86.50 348.19,84.00" fill="#ff4600"/>
<polygon points="322.21,86.38 324.38,87.63 324.38,90.13 322.21,91.38 320.05,90.13 320.05,87.63" fill="#fff000"/>
<polygon points="326.54,86.38 328.71,87.63 328.71,90.13 326.54,91.38 324.38,90.13 324.38,87.63" fill="#fff000"/>
<polygon points="330.88,86.38 333.04,87.63 333.04,90.13 330.88,91.38 328.71,90.13 328.71,87.63" fill="#ffff70"/>
<polygon points="335.20,86.38 337.37,87.63 337.37,90.13 335.20,91.38 333.04,90.13 333.04,87.63" fill="#fff000"/>
<polygon points="339.53,86.38 341.70,87.63 341.70,90.13 339.53,91.38 337.37,90.13 337.37,87.63" fill="#fff000"/>
<polygon points="343.86,86.38 346.03,87.63 346.03,90.13 343.86,91.38 341.70,90.13 341.70,87.63" fill="#fff000"/>
<polygon points="348.19,86.38 350.36,87.63 350.36,90.13 348.19,91.38 346.03,90.13 346.03,87.63" fill="#fff000"/>
<polygon points="324.38,90.01 326.55,91.26 326.55,93.76 324.38,95.01 322.21,93.76 322.21,91.26" fill="#fff000"/>
<polygon points="328.71,90.01 330.88,91.26 330.88,93.76 328.71,95.01 326.54,93.76 326.54,91.26" fill="#fff000"/>
<polygon points="333.04,90.01 335.21,91.26 335.21,93.76 333.04,95.01 330.88,93.76 330.88,91.26" fill="#fff000"/>
<polygon points="337.37,90.01 339.54,91.26 339.54,93.76 337.37,95.01 335.20,93.76 335.20,91.26" fill="#ffff70"/>
<polygon points="341.70,90.01 343.87,91.26 343.87,93.76 341.70,95.01 339.53,93.76 339.53,91.26" fill="#fff000"/>
<polygon points="346.03,90.01 348.19,91.26 348.19,93.76 346.03,95.01 343.86,93.76 343.86,91.26" fill="#ffff70"/>
<polygon points="350.36,90.01 352.53,91.26 352.53,93.76 350.36,95.01 348.19,93.76 348.19,91.26" fill="#fff000"/>
<polygon points="322.21,93.64 324.38,94.89 324.38,97.39 322.21,98.64 320.05,97.39 320.05,94.89" fill="#ff0d00"/>
<polygon points="326.54,93.64 328.71,94.89 328.71,97.39 326.54,98.64 324.38,97.39 324.38,94.89" fill="#ff0d00"/>
<polygon points="330.88,93.64 333.04,94.89 333.04,97.39 330.88,98.64 328.71,97.39 328.71,94.89" fill="#ffb900"/>
<polygon points="335.20,93.64 337.37,94.89 337.37,97.39 335.20,98.64 333.04,97.39 333.04,94.89" fill="#fff000"/>
<polygon points="339.53,93.64 341.70,94.89 341.70,97.39 339.53,98.64 337.37,97.39 337.37,94.89" fill="#fff000"/>
<polygon points="343.86,93.64 346.03,94.89 346.03,97.39 343.86,98.64 341.70,97.39 341.70,94.89" fill="#fff000"/>
<polygon points="348.19,93.64 350.36,94.89 350.36,97.39 348.19,98.64 346.03,97.39 346.03,94.89" fill="#ffb900"/>
<polygon points="324.38,97.27 326.55,98.52 326.55,101.02 324.38,102.27 322.21,101.02 322.21,98.52" fill="#ff0d00"/>
<polygon points="328.71,97.27 330.88,98.52 330.88,101.02 328.71,102.27 326.54,101.02 326.54,98.52" fill="#ff0d00"/>
<polygon points="333.04,97.27 335.21,98.52 335.21,101.02 333.04,102.27 330.88,101.02 330.88,98.52" fill="#ff0d00"/>
<polygon points="337.37,97.27 339.54,98.52 339.54,101.02 337.37,102.27 335.20,101.02 335.20,98.52" fill="#ff0d00"/>
<polygon points="341.70,97.27 343.87,98.52 343.87,101.02 341.70,102.27 339.53,101.02 339.53,98.52" fill="#ff0d00"/>
<polygon points="346.03,97.27 348.19,98.52 348.19,101.02 346.03,102.27 343.86,101.02 343.86,98.52" fill="#ff0d00"/>
<polygon points="350.36,97.27 352.53,98.52 352.53,101.02 350.36,102.27 348.19,101.02 348.19,98.52" fill="#ffb900"/>
</g></g>
<g>
<text x="399.1" y="61.9" font-size="5.3" fill="#111" stroke="#111" stroke-width="0.12" text-anchor="middle">Standard length</text>
<rect x="379.7" y="64.8" width="1.1" height="36.9" fill="url(#cb)"/>
<text x="379.0" y="69.6" font-size="2" fill="#8a8a8a" text-anchor="end">250</text>
<text x="379.0" y="78.9" font-size="2" fill="#8a8a8a" text-anchor="end">200</text>
<text x="379.0" y="88.2" font-size="2" fill="#8a8a8a" text-anchor="end">150</text>
<text x="379.0" y="97.5" font-size="2" fill="#8a8a8a" text-anchor="end">100</text>
<g stroke="#6a1208" stroke-opacity="0.8" stroke-width="0.5">
<polygon points="384.37,64.60 386.53,65.85 386.53,68.35 384.37,69.60 382.20,68.35 382.20,65.85" fill="#ff8400"/>
<polygon points="388.69,64.60 390.86,65.85 390.86,68.35 388.69,69.60 386.53,68.35 386.53,65.85" fill="#ff8400"/>
<polygon points="393.03,64.60 395.19,65.85 395.19,68.35 393.03,69.60 390.86,68.35 390.86,65.85" fill="#ff8400"/>
<polygon points="397.36,64.60 399.52,65.85 399.52,68.35 397.36,69.60 395.19,68.35 395.19,65.85" fill="#ff8400"/>
<polygon points="401.69,64.60 403.85,65.85 403.85,68.35 401.69,69.60 399.52,68.35 399.52,65.85" fill="#ffb900"/>
<polygon points="406.01,64.60 408.18,65.85 408.18,68.35 406.01,69.60 403.85,68.35 403.85,65.85" fill="#ffb900"/>
<polygon points="410.35,64.60 412.51,65.85 412.51,68.35 410.35,69.60 408.18,68.35 408.18,65.85" fill="#fff000"/>
<polygon points="386.53,68.23 388.70,69.48 388.70,71.98 386.53,73.23 384.37,71.98 384.37,69.48" fill="#ff4600"/>
<polygon points="390.86,68.23 393.03,69.48 393.03,71.98 390.86,73.23 388.69,71.98 388.69,69.48" fill="#ff4600"/>
<polygon points="395.19,68.23 397.36,69.48 397.36,71.98 395.19,73.23 393.03,71.98 393.03,69.48" fill="#ff4600"/>
<polygon points="399.52,68.23 401.69,69.48 401.69,71.98 399.52,73.23 397.36,71.98 397.36,69.48" fill="#ff4600"/>
<polygon points="403.85,68.23 406.02,69.48 406.02,71.98 403.85,73.23 401.69,71.98 401.69,69.48" fill="#ff8400"/>
<polygon points="408.18,68.23 410.35,69.48 410.35,71.98 408.18,73.23 406.01,71.98 406.01,69.48" fill="#ff8400"/>
<polygon points="412.51,68.23 414.68,69.48 414.68,71.98 412.51,73.23 410.35,71.98 410.35,69.48" fill="#ffb900"/>
<polygon points="384.37,71.86 386.53,73.11 386.53,75.61 384.37,76.86 382.20,75.61 382.20,73.11" fill="#ff4600"/>
<polygon points="388.69,71.86 390.86,73.11 390.86,75.61 388.69,76.86 386.53,75.61 386.53,73.11" fill="#ff4600"/>
<polygon points="393.03,71.86 395.19,73.11 395.19,75.61 393.03,76.86 390.86,75.61 390.86,73.11" fill="#ff4600"/>
<polygon points="397.36,71.86 399.52,73.11 399.52,75.61 397.36,76.86 395.19,75.61 395.19,73.11" fill="#ff4600"/>
<polygon points="401.69,71.86 403.85,73.11 403.85,75.61 401.69,76.86 399.52,75.61 399.52,73.11" fill="#ff4600"/>
<polygon points="406.01,71.86 408.18,73.11 408.18,75.61 406.01,76.86 403.85,75.61 403.85,73.11" fill="#ff8400"/>
<polygon points="410.35,71.86 412.51,73.11 412.51,75.61 410.35,76.86 408.18,75.61 408.18,73.11" fill="#ffb900"/>
<polygon points="386.53,75.49 388.70,76.74 388.70,79.24 386.53,80.49 384.37,79.24 384.37,76.74" fill="#ff4600"/>
<polygon points="390.86,75.49 393.03,76.74 393.03,79.24 390.86,80.49 388.69,79.24 388.69,76.74" fill="#ff4600"/>
<polygon points="395.19,75.49 397.36,76.74 397.36,79.24 395.19,80.49 393.03,79.24 393.03,76.74" fill="#ff4600"/>
<polygon points="399.52,75.49 401.69,76.74 401.69,79.24 399.52,80.49 397.36,79.24 397.36,76.74" fill="#ff4600"/>
<polygon points="403.85,75.49 406.02,76.74 406.02,79.24 403.85,80.49 401.69,79.24 401.69,76.74" fill="#ff8400"/>
<polygon points="408.18,75.49 410.35,76.74 410.35,79.24 408.18,80.49 406.01,79.24 406.01,76.74" fill="#ffb900"/>
<polygon points="412.51,75.49 414.68,76.74 414.68,79.24 412.51,80.49 410.35,79.24 410.35,76.74" fill="#fff000"/>
<polygon points="384.37,79.12 386.53,80.37 386.53,82.87 384.37,84.12 382.20,82.87 382.20,80.37" fill="#ff0d00"/>
<polygon points="388.69,79.12 390.86,80.37 390.86,82.87 388.69,84.12 386.53,82.87 386.53,80.37" fill="#ff4600"/>
<polygon points="393.03,79.12 395.19,80.37 395.19,82.87 393.03,84.12 390.86,82.87 390.86,80.37" fill="#ff4600"/>
<polygon points="397.36,79.12 399.52,80.37 399.52,82.87 397.36,84.12 395.19,82.87 395.19,80.37" fill="#ff4600"/>
<polygon points="401.69,79.12 403.85,80.37 403.85,82.87 401.69,84.12 399.52,82.87 399.52,80.37" fill="#ff4600"/>
<polygon points="406.01,79.12 408.18,80.37 408.18,82.87 406.01,84.12 403.85,82.87 403.85,80.37" fill="#ffb900"/>
<polygon points="410.35,79.12 412.51,80.37 412.51,82.87 410.35,84.12 408.18,82.87 408.18,80.37" fill="#fff000"/>
<polygon points="386.53,82.75 388.70,84.00 388.70,86.50 386.53,87.75 384.37,86.50 384.37,84.00" fill="#ff0d00"/>
<polygon points="390.86,82.75 393.03,84.00 393.03,86.50 390.86,87.75 388.69,86.50 388.69,84.00" fill="#ff4600"/>
<polygon points="395.19,82.75 397.36,84.00 397.36,86.50 395.19,87.75 393.03,86.50 393.03,84.00" fill="#ff4600"/>
<polygon points="399.52,82.75 401.69,84.00 401.69,86.50 399.52,87.75 397.36,86.50 397.36,84.00" fill="#ff4600"/>
<polygon points="403.85,82.75 406.02,84.00 406.02,86.50 403.85,87.75 401.69,86.50 401.69,84.00" fill="#ff0d00"/>
<polygon points="408.18,82.75 410.35,84.00 410.35,86.50 408.18,87.75 406.01,86.50 406.01,84.00" fill="#fff000"/>
<polygon points="412.51,82.75 414.68,84.00 414.68,86.50 412.51,87.75 410.35,86.50 410.35,84.00" fill="#ffffe8"/>
<polygon points="384.37,86.38 386.53,87.63 386.53,90.13 384.37,91.38 382.20,90.13 382.20,87.63" fill="#ff0d00"/>
<polygon points="388.69,86.38 390.86,87.63 390.86,90.13 388.69,91.38 386.53,90.13 386.53,87.63" fill="#ff4600"/>
<polygon points="393.03,86.38 395.19,87.63 395.19,90.13 393.03,91.38 390.86,90.13 390.86,87.63" fill="#ff4600"/>
<polygon points="397.36,86.38 399.52,87.63 399.52,90.13 397.36,91.38 395.19,90.13 395.19,87.63" fill="#ff4600"/>
<polygon points="401.69,86.38 403.85,87.63 403.85,90.13 401.69,91.38 399.52,90.13 399.52,87.63" fill="#ff0d00"/>
<polygon points="406.01,86.38 408.18,87.63 408.18,90.13 406.01,91.38 403.85,90.13 403.85,87.63" fill="#ff0d00"/>
<polygon points="410.35,86.38 412.51,87.63 412.51,90.13 410.35,91.38 408.18,90.13 408.18,87.63" fill="#ff4600"/>
<polygon points="386.53,90.01 388.70,91.26 388.70,93.76 386.53,95.01 384.37,93.76 384.37,91.26" fill="#ff0d00"/>
<polygon points="390.86,90.01 393.03,91.26 393.03,93.76 390.86,95.01 388.69,93.76 388.69,91.26" fill="#ff0d00"/>
<polygon points="395.19,90.01 397.36,91.26 397.36,93.76 395.19,95.01 393.03,93.76 393.03,91.26" fill="#ff0d00"/>
<polygon points="399.52,90.01 401.69,91.26 401.69,93.76 399.52,95.01 397.36,93.76 397.36,91.26" fill="#ff0d00"/>
<polygon points="403.85,90.01 406.02,91.26 406.02,93.76 403.85,95.01 401.69,93.76 401.69,91.26" fill="#ff0d00"/>
<polygon points="408.18,90.01 410.35,91.26 410.35,93.76 408.18,95.01 406.01,93.76 406.01,91.26" fill="#ff0d00"/>
<polygon points="412.51,90.01 414.68,91.26 414.68,93.76 412.51,95.01 410.35,93.76 410.35,91.26" fill="#ff0d00"/>
<polygon points="384.37,93.64 386.53,94.89 386.53,97.39 384.37,98.64 382.20,97.39 382.20,94.89" fill="#ff0d00"/>
<polygon points="388.69,93.64 390.86,94.89 390.86,97.39 388.69,98.64 386.53,97.39 386.53,94.89" fill="#ff0d00"/>
<polygon points="393.03,93.64 395.19,94.89 395.19,97.39 393.03,98.64 390.86,97.39 390.86,94.89" fill="#ff0d00"/>
<polygon points="397.36,93.64 399.52,94.89 399.52,97.39 397.36,98.64 395.19,97.39 395.19,94.89" fill="#ff0d00"/>
<polygon points="401.69,93.64 403.85,94.89 403.85,97.39 401.69,98.64 399.52,97.39 399.52,94.89" fill="#ff0d00"/>
<polygon points="406.01,93.64 408.18,94.89 408.18,97.39 406.01,98.64 403.85,97.39 403.85,94.89" fill="#ff0d00"/>
<polygon points="410.35,93.64 412.51,94.89 412.51,97.39 410.35,98.64 408.18,97.39 408.18,94.89" fill="#ff0d00"/>
<polygon points="386.53,97.27 388.70,98.52 388.70,101.02 386.53,102.27 384.37,101.02 384.37,98.52" fill="#ff0d00"/>
<polygon points="390.86,97.27 393.03,98.52 393.03,101.02 390.86,102.27 388.69,101.02 388.69,98.52" fill="#ff0d00"/>
<polygon points="395.19,97.27 397.36,98.52 397.36,101.02 395.19,102.27 393.03,101.02 393.03,98.52" fill="#ff0d00"/>
<polygon points="399.52,97.27 401.69,98.52 401.69,101.02 399.52,102.27 397.36,101.02 397.36,98.52" fill="#ff0d00"/>
<polygon points="403.85,97.27 406.02,98.52 406.02,101.02 403.85,102.27 401.69,101.02 401.69,98.52" fill="#ff0d00"/>
<polygon points="408.18,97.27 410.35,98.52 410.35,101.02 408.18,102.27 406.01,101.02 406.01,98.52" fill="#ff0d00"/>
<polygon points="412.51,97.27 414.68,98.52 414.68,101.02 412.51,102.27 410.35,101.02 410.35,98.52" fill="#ff0d00"/>
</g></g>
<g>
<text x="460.2" y="61.9" font-size="5.3" fill="#111" stroke="#111" stroke-width="0.12" text-anchor="middle">Biomass</text>
<rect x="441.8" y="64.8" width="1.1" height="36.9" fill="url(#cb)"/>
<text x="441.1" y="69.9" font-size="2" fill="#8a8a8a" text-anchor="end">2500</text>
<text x="441.1" y="76.4" font-size="2" fill="#8a8a8a" text-anchor="end">2000</text>
<text x="441.1" y="82.9" font-size="2" fill="#8a8a8a" text-anchor="end">1500</text>
<text x="441.1" y="89.4" font-size="2" fill="#8a8a8a" text-anchor="end">1000</text>
<text x="441.1" y="95.9" font-size="2" fill="#8a8a8a" text-anchor="end">500</text>
<g stroke="#6a1208" stroke-opacity="0.8" stroke-width="0.5">
<polygon points="446.51,64.60 448.68,65.85 448.68,68.35 446.51,69.60 444.35,68.35 444.35,65.85" fill="#ff0d00"/>
<polygon points="450.84,64.60 453.01,65.85 453.01,68.35 450.84,69.60 448.68,68.35 448.68,65.85" fill="#ff0d00"/>
<polygon points="455.18,64.60 457.34,65.85 457.34,68.35 455.18,69.60 453.01,68.35 453.01,65.85" fill="#ff0d00"/>
<polygon points="459.50,64.60 461.67,65.85 461.67,68.35 459.50,69.60 457.34,68.35 457.34,65.85" fill="#ff0d00"/>
<polygon points="463.83,64.60 466.00,65.85 466.00,68.35 463.83,69.60 461.67,68.35 461.67,65.85" fill="#ff0d00"/>
<polygon points="468.16,64.60 470.33,65.85 470.33,68.35 468.16,69.60 466.00,68.35 466.00,65.85" fill="#ff0d00"/>
<polygon points="472.50,64.60 474.66,65.85 474.66,68.35 472.50,69.60 470.33,68.35 470.33,65.85" fill="#ff0d00"/>
<polygon points="448.68,68.23 450.85,69.48 450.85,71.98 448.68,73.23 446.51,71.98 446.51,69.48" fill="#ff0d00"/>
<polygon points="453.01,68.23 455.18,69.48 455.18,71.98 453.01,73.23 450.84,71.98 450.84,69.48" fill="#ff0d00"/>
<polygon points="457.34,68.23 459.51,69.48 459.51,71.98 457.34,73.23 455.18,71.98 455.18,69.48" fill="#ff0d00"/>
<polygon points="461.67,68.23 463.84,69.48 463.84,71.98 461.67,73.23 459.50,71.98 459.50,69.48" fill="#ff0d00"/>
<polygon points="466.00,68.23 468.17,69.48 468.17,71.98 466.00,73.23 463.83,71.98 463.83,69.48" fill="#ff0d00"/>
<polygon points="470.33,68.23 472.50,69.48 472.50,71.98 470.33,73.23 468.16,71.98 468.16,69.48" fill="#ff4600"/>
<polygon points="474.66,68.23 476.83,69.48 476.83,71.98 474.66,73.23 472.50,71.98 472.50,69.48" fill="#ff4600"/>
<polygon points="446.51,71.86 448.68,73.11 448.68,75.61 446.51,76.86 444.35,75.61 444.35,73.11" fill="#ff0d00"/>
<polygon points="450.84,71.86 453.01,73.11 453.01,75.61 450.84,76.86 448.68,75.61 448.68,73.11" fill="#ff0d00"/>
<polygon points="455.18,71.86 457.34,73.11 457.34,75.61 455.18,76.86 453.01,75.61 453.01,73.11" fill="#ff0d00"/>
<polygon points="459.50,71.86 461.67,73.11 461.67,75.61 459.50,76.86 457.34,75.61 457.34,73.11" fill="#ff0d00"/>
<polygon points="463.83,71.86 466.00,73.11 466.00,75.61 463.83,76.86 461.67,75.61 461.67,73.11" fill="#ff0d00"/>
<polygon points="468.16,71.86 470.33,73.11 470.33,75.61 468.16,76.86 466.00,75.61 466.00,73.11" fill="#ff0d00"/>
<polygon points="472.50,71.86 474.66,73.11 474.66,75.61 472.50,76.86 470.33,75.61 470.33,73.11" fill="#ff4600"/>
<polygon points="448.68,75.49 450.85,76.74 450.85,79.24 448.68,80.49 446.51,79.24 446.51,76.74" fill="#ff0d00"/>
<polygon points="453.01,75.49 455.18,76.74 455.18,79.24 453.01,80.49 450.84,79.24 450.84,76.74" fill="#ff0d00"/>
<polygon points="457.34,75.49 459.51,76.74 459.51,79.24 457.34,80.49 455.18,79.24 455.18,76.74" fill="#ff0d00"/>
<polygon points="461.67,75.49 463.84,76.74 463.84,79.24 461.67,80.49 459.50,79.24 459.50,76.74" fill="#ff0d00"/>
<polygon points="466.00,75.49 468.17,76.74 468.17,79.24 466.00,80.49 463.83,79.24 463.83,76.74" fill="#ff0d00"/>
<polygon points="470.33,75.49 472.50,76.74 472.50,79.24 470.33,80.49 468.16,79.24 468.16,76.74" fill="#ff4600"/>
<polygon points="474.66,75.49 476.83,76.74 476.83,79.24 474.66,80.49 472.50,79.24 472.50,76.74" fill="#ff8400"/>
<polygon points="446.51,79.12 448.68,80.37 448.68,82.87 446.51,84.12 444.35,82.87 444.35,80.37" fill="#ff0d00"/>
<polygon points="450.84,79.12 453.01,80.37 453.01,82.87 450.84,84.12 448.68,82.87 448.68,80.37" fill="#ff0d00"/>
<polygon points="455.18,79.12 457.34,80.37 457.34,82.87 455.18,84.12 453.01,82.87 453.01,80.37" fill="#ff0d00"/>
<polygon points="459.50,79.12 461.67,80.37 461.67,82.87 459.50,84.12 457.34,82.87 457.34,80.37" fill="#ff0d00"/>
<polygon points="463.83,79.12 466.00,80.37 466.00,82.87 463.83,84.12 461.67,82.87 461.67,80.37" fill="#ff0d00"/>
<polygon points="468.16,79.12 470.33,80.37 470.33,82.87 468.16,84.12 466.00,82.87 466.00,80.37" fill="#ff4600"/>
<polygon points="472.50,79.12 474.66,80.37 474.66,82.87 472.50,84.12 470.33,82.87 470.33,80.37" fill="#ffb900"/>
<polygon points="448.68,82.75 450.85,84.00 450.85,86.50 448.68,87.75 446.51,86.50 446.51,84.00" fill="#ff0d00"/>
<polygon points="453.01,82.75 455.18,84.00 455.18,86.50 453.01,87.75 450.84,86.50 450.84,84.00" fill="#ff0d00"/>
<polygon points="457.34,82.75 459.51,84.00 459.51,86.50 457.34,87.75 455.18,86.50 455.18,84.00" fill="#ff0d00"/>
<polygon points="461.67,82.75 463.84,84.00 463.84,86.50 461.67,87.75 459.50,86.50 459.50,84.00" fill="#ff0d00"/>
<polygon points="466.00,82.75 468.17,84.00 468.17,86.50 466.00,87.75 463.83,86.50 463.83,84.00" fill="#ff0d00"/>
<polygon points="470.33,82.75 472.50,84.00 472.50,86.50 470.33,87.75 468.16,86.50 468.16,84.00" fill="#fff000"/>
<polygon points="474.66,82.75 476.83,84.00 476.83,86.50 474.66,87.75 472.50,86.50 472.50,84.00" fill="#ffffe8"/>
<polygon points="446.51,86.38 448.68,87.63 448.68,90.13 446.51,91.38 444.35,90.13 444.35,87.63" fill="#ff0d00"/>
<polygon points="450.84,86.38 453.01,87.63 453.01,90.13 450.84,91.38 448.68,90.13 448.68,87.63" fill="#ff0d00"/>
<polygon points="455.18,86.38 457.34,87.63 457.34,90.13 455.18,91.38 453.01,90.13 453.01,87.63" fill="#ff0d00"/>
<polygon points="459.50,86.38 461.67,87.63 461.67,90.13 459.50,91.38 457.34,90.13 457.34,87.63" fill="#ff0d00"/>
<polygon points="463.83,86.38 466.00,87.63 466.00,90.13 463.83,91.38 461.67,90.13 461.67,87.63" fill="#ff0d00"/>
<polygon points="468.16,86.38 470.33,87.63 470.33,90.13 468.16,91.38 466.00,90.13 466.00,87.63" fill="#ff0d00"/>
<polygon points="472.50,86.38 474.66,87.63 474.66,90.13 472.50,91.38 470.33,90.13 470.33,87.63" fill="#ff4600"/>
<polygon points="448.68,90.01 450.85,91.26 450.85,93.76 448.68,95.01 446.51,93.76 446.51,91.26" fill="#ff0d00"/>
<polygon points="453.01,90.01 455.18,91.26 455.18,93.76 453.01,95.01 450.84,93.76 450.84,91.26" fill="#ff0d00"/>
<polygon points="457.34,90.01 459.51,91.26 459.51,93.76 457.34,95.01 455.18,93.76 455.18,91.26" fill="#ff0d00"/>
<polygon points="461.67,90.01 463.84,91.26 463.84,93.76 461.67,95.01 459.50,93.76 459.50,91.26" fill="#ff0d00"/>
<polygon points="466.00,90.01 468.17,91.26 468.17,93.76 466.00,95.01 463.83,93.76 463.83,91.26" fill="#ff0d00"/>
<polygon points="470.33,90.01 472.50,91.26 472.50,93.76 470.33,95.01 468.16,93.76 468.16,91.26" fill="#ff0d00"/>
<polygon points="474.66,90.01 476.83,91.26 476.83,93.76 474.66,95.01 472.50,93.76 472.50,91.26" fill="#ff0d00"/>
<polygon points="446.51,93.64 448.68,94.89 448.68,97.39 446.51,98.64 444.35,97.39 444.35,94.89" fill="#ff0d00"/>
<polygon points="450.84,93.64 453.01,94.89 453.01,97.39 450.84,98.64 448.68,97.39 448.68,94.89" fill="#ff0d00"/>
<polygon points="455.18,93.64 457.34,94.89 457.34,97.39 455.18,98.64 453.01,97.39 453.01,94.89" fill="#ff0d00"/>
<polygon points="459.50,93.64 461.67,94.89 461.67,97.39 459.50,98.64 457.34,97.39 457.34,94.89" fill="#ff0d00"/>
<polygon points="463.83,93.64 466.00,94.89 466.00,97.39 463.83,98.64 461.67,97.39 461.67,94.89" fill="#ff0d00"/>
<polygon points="468.16,93.64 470.33,94.89 470.33,97.39 468.16,98.64 466.00,97.39 466.00,94.89" fill="#ff0d00"/>
<polygon points="472.50,93.64 474.66,94.89 474.66,97.39 472.50,98.64 470.33,97.39 470.33,94.89" fill="#ff0d00"/>
<polygon points="448.68,97.27 450.85,98.52 450.85,101.02 448.68,102.27 446.51,101.02 446.51,98.52" fill="#ff0d00"/>
<polygon points="453.01,97.27 455.18,98.52 455.18,101.02 453.01,102.27 450.84,101.02 450.84,98.52" fill="#ff0d00"/>
<polygon points="457.34,97.27 459.51,98.52 459.51,101.02 457.34,102.27 455.18,101.02 455.18,98.52" fill="#ff0d00"/>
<polygon points="461.67,97.27 463.84,98.52 463.84,101.02 461.67,102.27 459.50,101.02 459.50,98.52" fill="#ff0d00"/>
<polygon points="466.00,97.27 468.17,98.52 468.17,101.02 466.00,102.27 463.83,101.02 463.83,98.52" fill="#ff0d00"/>
<polygon points="470.33,97.27 472.50,98.52 472.50,101.02 470.33,102.27 468.16,101.02 468.16,98.52" fill="#ff0d00"/>
<polygon points="474.66,97.27 476.83,98.52 476.83,101.02 474.66,102.27 472.50,101.02 472.50,98.52" fill="#ff0d00"/>
</g></g>
<g>
<text x="521.7" y="61.9" font-size="5.3" fill="#111" stroke="#111" stroke-width="0.12" text-anchor="middle">Fyke net</text>
<rect x="504.0" y="64.8" width="1.1" height="36.9" fill="url(#cb)"/>
<text x="503.2" y="71.1" font-size="1.9" fill="#999" text-anchor="end">0.8</text>
<text x="503.2" y="79.3" font-size="1.9" fill="#999" text-anchor="end">0.6</text>
<text x="503.2" y="87.5" font-size="1.9" fill="#999" text-anchor="end">0.4</text>
<text x="503.2" y="95.7" font-size="1.9" fill="#999" text-anchor="end">0.2</text>
<g stroke="#6a1208" stroke-opacity="0.8" stroke-width="0.5">
<polygon points="508.67,64.60 510.83,65.85 510.83,68.35 508.67,69.60 506.50,68.35 506.50,65.85" fill="#ff0d00"/>
<polygon points="513.00,64.60 515.16,65.85 515.16,68.35 513.00,69.60 510.83,68.35 510.83,65.85" fill="#ff4600"/>
<polygon points="517.33,64.60 519.49,65.85 519.49,68.35 517.33,69.60 515.16,68.35 515.16,65.85" fill="#ff4600"/>
<polygon points="521.65,64.60 523.82,65.85 523.82,68.35 521.65,69.60 519.49,68.35 519.49,65.85" fill="#ff4600"/>
<polygon points="525.99,64.60 528.15,65.85 528.15,68.35 525.99,69.60 523.82,68.35 523.82,65.85" fill="#ff8400"/>
<polygon points="530.32,64.60 532.48,65.85 532.48,68.35 530.32,69.60 528.15,68.35 528.15,65.85" fill="#ff4600"/>
<polygon points="534.64,64.60 536.81,65.85 536.81,68.35 534.64,69.60 532.48,68.35 532.48,65.85" fill="#ff0d00"/>
<polygon points="510.83,68.23 513.00,69.48 513.00,71.98 510.83,73.23 508.67,71.98 508.67,69.48" fill="#ff4600"/>
<polygon points="515.16,68.23 517.32,69.48 517.32,71.98 515.16,73.23 513.00,71.98 513.00,69.48" fill="#ff4600"/>
<polygon points="519.49,68.23 521.65,69.48 521.65,71.98 519.49,73.23 517.33,71.98 517.33,69.48" fill="#ff4600"/>
<polygon points="523.82,68.23 525.98,69.48 525.98,71.98 523.82,73.23 521.65,71.98 521.65,69.48" fill="#ffb900"/>
<polygon points="528.15,68.23 530.31,69.48 530.31,71.98 528.15,73.23 525.99,71.98 525.99,69.48" fill="#ff8400"/>
<polygon points="532.48,68.23 534.64,69.48 534.64,71.98 532.48,73.23 530.32,71.98 530.32,69.48" fill="#ff0d00"/>
<polygon points="536.81,68.23 538.97,69.48 538.97,71.98 536.81,73.23 534.64,71.98 534.64,69.48" fill="#ff0d00"/>
<polygon points="508.67,71.86 510.83,73.11 510.83,75.61 508.67,76.86 506.50,75.61 506.50,73.11" fill="#ffb900"/>
<polygon points="513.00,71.86 515.16,73.11 515.16,75.61 513.00,76.86 510.83,75.61 510.83,73.11" fill="#ff8400"/>
<polygon points="517.33,71.86 519.49,73.11 519.49,75.61 517.33,76.86 515.16,75.61 515.16,73.11" fill="#ff4600"/>
<polygon points="521.65,71.86 523.82,73.11 523.82,75.61 521.65,76.86 519.49,75.61 519.49,73.11" fill="#ff4600"/>
<polygon points="525.99,71.86 528.15,73.11 528.15,75.61 525.99,76.86 523.82,75.61 523.82,73.11" fill="#ff4600"/>
<polygon points="530.32,71.86 532.48,73.11 532.48,75.61 530.32,76.86 528.15,75.61 528.15,73.11" fill="#ff4600"/>
<polygon points="534.64,71.86 536.81,73.11 536.81,75.61 534.64,76.86 532.48,75.61 532.48,73.11" fill="#ff0d00"/>
<polygon points="510.83,75.49 513.00,76.74 513.00,79.24 510.83,80.49 508.67,79.24 508.67,76.74" fill="#ff8400"/>
<polygon points="515.16,75.49 517.32,76.74 517.32,79.24 515.16,80.49 513.00,79.24 513.00,76.74" fill="#ff8400"/>
<polygon points="519.49,75.49 521.65,76.74 521.65,79.24 519.49,80.49 517.33,79.24 517.33,76.74" fill="#ff4600"/>
<polygon points="523.82,75.49 525.98,76.74 525.98,79.24 523.82,80.49 521.65,79.24 521.65,76.74" fill="#ff4600"/>
<polygon points="528.15,75.49 530.31,76.74 530.31,79.24 528.15,80.49 525.99,79.24 525.99,76.74" fill="#ff4600"/>
<polygon points="532.48,75.49 534.64,76.74 534.64,79.24 532.48,80.49 530.32,79.24 530.32,76.74" fill="#ff0d00"/>
<polygon points="536.81,75.49 538.97,76.74 538.97,79.24 536.81,80.49 534.64,79.24 534.64,76.74" fill="#ff0d00"/>
<polygon points="508.67,79.12 510.83,80.37 510.83,82.87 508.67,84.12 506.50,82.87 506.50,80.37" fill="#fff000"/>
<polygon points="513.00,79.12 515.16,80.37 515.16,82.87 513.00,84.12 510.83,82.87 510.83,80.37" fill="#ffb900"/>
<polygon points="517.33,79.12 519.49,80.37 519.49,82.87 517.33,84.12 515.16,82.87 515.16,80.37" fill="#ff8400"/>
<polygon points="521.65,79.12 523.82,80.37 523.82,82.87 521.65,84.12 519.49,82.87 519.49,80.37" fill="#ff4600"/>
<polygon points="525.99,79.12 528.15,80.37 528.15,82.87 525.99,84.12 523.82,82.87 523.82,80.37" fill="#ffffe8"/>
<polygon points="530.32,79.12 532.48,80.37 532.48,82.87 530.32,84.12 528.15,82.87 528.15,80.37" fill="#ff0d00"/>
<polygon points="534.64,79.12 536.81,80.37 536.81,82.87 534.64,84.12 532.48,82.87 532.48,80.37" fill="#ff0d00"/>
<polygon points="510.83,82.75 513.00,84.00 513.00,86.50 510.83,87.75 508.67,86.50 508.67,84.00" fill="#fff000"/>
<polygon points="515.16,82.75 517.32,84.00 517.32,86.50 515.16,87.75 513.00,86.50 513.00,84.00" fill="#ffb900"/>
<polygon points="519.49,82.75 521.65,84.00 521.65,86.50 519.49,87.75 517.33,86.50 517.33,84.00" fill="#ff4600"/>
<polygon points="523.82,82.75 525.98,84.00 525.98,86.50 523.82,87.75 521.65,86.50 521.65,84.00" fill="#ff4600"/>
<polygon points="528.15,82.75 530.31,84.00 530.31,86.50 528.15,87.75 525.99,86.50 525.99,84.00" fill="#ffb900"/>
<polygon points="532.48,82.75 534.64,84.00 534.64,86.50 532.48,87.75 530.32,86.50 530.32,84.00" fill="#ff0d00"/>
<polygon points="536.81,82.75 538.97,84.00 538.97,86.50 536.81,87.75 534.64,86.50 534.64,84.00" fill="#fff000"/>
<polygon points="508.67,86.38 510.83,87.63 510.83,90.13 508.67,91.38 506.50,90.13 506.50,87.63" fill="#ffb900"/>
<polygon points="513.00,86.38 515.16,87.63 515.16,90.13 513.00,91.38 510.83,90.13 510.83,87.63" fill="#fff000"/>
<polygon points="517.33,86.38 519.49,87.63 519.49,90.13 517.33,91.38 515.16,90.13 515.16,87.63" fill="#fff000"/>
<polygon points="521.65,86.38 523.82,87.63 523.82,90.13 521.65,91.38 519.49,90.13 519.49,87.63" fill="#ff8400"/>
<polygon points="525.99,86.38 528.15,87.63 528.15,90.13 525.99,91.38 523.82,90.13 523.82,87.63" fill="#ff8400"/>
<polygon points="530.32,86.38 532.48,87.63 532.48,90.13 530.32,91.38 528.15,90.13 528.15,87.63" fill="#ff0d00"/>
<polygon points="534.64,86.38 536.81,87.63 536.81,90.13 534.64,91.38 532.48,90.13 532.48,87.63" fill="#fff000"/>
<polygon points="510.83,90.01 513.00,91.26 513.00,93.76 510.83,95.01 508.67,93.76 508.67,91.26" fill="#fff000"/>
<polygon points="515.16,90.01 517.32,91.26 517.32,93.76 515.16,95.01 513.00,93.76 513.00,91.26" fill="#fff000"/>
<polygon points="519.49,90.01 521.65,91.26 521.65,93.76 519.49,95.01 517.33,93.76 517.33,91.26" fill="#ffff70"/>
<polygon points="523.82,90.01 525.98,91.26 525.98,93.76 523.82,95.01 521.65,93.76 521.65,91.26" fill="#ffff70"/>
<polygon points="528.15,90.01 530.31,91.26 530.31,93.76 528.15,95.01 525.99,93.76 525.99,91.26" fill="#ffffe8"/>
<polygon points="532.48,90.01 534.64,91.26 534.64,93.76 532.48,95.01 530.32,93.76 530.32,91.26" fill="#ffff70"/>
<polygon points="536.81,90.01 538.97,91.26 538.97,93.76 536.81,95.01 534.64,93.76 534.64,91.26" fill="#fff000"/>
<polygon points="508.67,93.64 510.83,94.89 510.83,97.39 508.67,98.64 506.50,97.39 506.50,94.89" fill="#ffb900"/>
<polygon points="513.00,93.64 515.16,94.89 515.16,97.39 513.00,98.64 510.83,97.39 510.83,94.89" fill="#fff000"/>
<polygon points="517.33,93.64 519.49,94.89 519.49,97.39 517.33,98.64 515.16,97.39 515.16,94.89" fill="#ffff70"/>
<polygon points="521.65,93.64 523.82,94.89 523.82,97.39 521.65,98.64 519.49,97.39 519.49,94.89" fill="#ffffe8"/>
<polygon points="525.99,93.64 528.15,94.89 528.15,97.39 525.99,98.64 523.82,97.39 523.82,94.89" fill="#ffffe8"/>
<polygon points="530.32,93.64 532.48,94.89 532.48,97.39 530.32,98.64 528.15,97.39 528.15,94.89" fill="#ffffe8"/>
<polygon points="534.64,93.64 536.81,94.89 536.81,97.39 534.64,98.64 532.48,97.39 532.48,94.89" fill="#fff000"/>
<polygon points="510.83,97.27 513.00,98.52 513.00,101.02 510.83,102.27 508.67,101.02 508.67,98.52" fill="#ff8400"/>
<polygon points="515.16,97.27 517.32,98.52 517.32,101.02 515.16,102.27 513.00,101.02 513.00,98.52" fill="#ffb900"/>
<polygon points="519.49,97.27 521.65,98.52 521.65,101.02 519.49,102.27 517.33,101.02 517.33,98.52" fill="#fff000"/>
<polygon points="523.82,97.27 525.98,98.52 525.98,101.02 523.82,102.27 521.65,101.02 521.65,98.52" fill="#fff000"/>
<polygon points="528.15,97.27 530.31,98.52 530.31,101.02 528.15,102.27 525.99,101.02 525.99,98.52" fill="#ffb900"/>
<polygon points="532.48,97.27 534.64,98.52 534.64,101.02 532.48,102.27 530.32,101.02 530.32,98.52" fill="#ffb900"/>
<polygon points="536.81,97.27 538.97,98.52 538.97,101.02 536.81,102.27 534.64,101.02 534.64,98.52" fill="#ffffe8"/>
</g></g>
<g>
<text x="272.7" y="113.0" font-size="5.3" fill="#111" stroke="#111" stroke-width="0.12" text-anchor="middle">Gill net</text>
<rect x="255.4" y="115.9" width="1.1" height="36.9" fill="url(#cb)"/>
<text x="254.6" y="122.2" font-size="1.9" fill="#999" text-anchor="end">0.8</text>
<text x="254.6" y="130.4" font-size="1.9" fill="#999" text-anchor="end">0.6</text>
<text x="254.6" y="138.6" font-size="1.9" fill="#999" text-anchor="end">0.4</text>
<text x="254.6" y="146.8" font-size="1.9" fill="#999" text-anchor="end">0.2</text>
<g stroke="#6a1208" stroke-opacity="0.8" stroke-width="0.5">
<polygon points="260.06,115.70 262.23,116.95 262.23,119.45 260.06,120.70 257.90,119.45 257.90,116.95" fill="#fff000"/>
<polygon points="264.39,115.70 266.56,116.95 266.56,119.45 264.39,120.70 262.23,119.45 262.23,116.95" fill="#fff000"/>
<polygon points="268.73,115.70 270.89,116.95 270.89,119.45 268.73,120.70 266.56,119.45 266.56,116.95" fill="#fff000"/>
<polygon points="273.06,115.70 275.22,116.95 275.22,119.45 273.06,120.70 270.89,119.45 270.89,116.95" fill="#fff000"/>
<polygon points="277.38,115.70 279.55,116.95 279.55,119.45 277.38,120.70 275.22,119.45 275.22,116.95" fill="#ffb900"/>
<polygon points="281.71,115.70 283.88,116.95 283.88,119.45 281.71,120.70 279.55,119.45 279.55,116.95" fill="#ffb900"/>
<polygon points="286.05,115.70 288.21,116.95 288.21,119.45 286.05,120.70 283.88,119.45 283.88,116.95" fill="#fff000"/>
<polygon points="262.23,119.33 264.40,120.58 264.40,123.08 262.23,124.33 260.06,123.08 260.06,120.58" fill="#fff000"/>
<polygon points="266.56,119.33 268.73,120.58 268.73,123.08 266.56,124.33 264.39,123.08 264.39,120.58" fill="#ffb900"/>
<polygon points="270.89,119.33 273.06,120.58 273.06,123.08 270.89,124.33 268.73,123.08 268.73,120.58" fill="#fff000"/>
<polygon points="275.22,119.33 277.39,120.58 277.39,123.08 275.22,124.33 273.06,123.08 273.06,120.58" fill="#ffb900"/>
<polygon points="279.55,119.33 281.72,120.58 281.72,123.08 279.55,124.33 277.38,123.08 277.38,120.58" fill="#ffb900"/>
<polygon points="283.88,119.33 286.05,120.58 286.05,123.08 283.88,124.33 281.71,123.08 281.71,120.58" fill="#fff000"/>
<polygon points="288.21,119.33 290.38,120.58 290.38,123.08 288.21,124.33 286.05,123.08 286.05,120.58" fill="#fff000"/>
<polygon points="260.06,122.96 262.23,124.21 262.23,126.71 260.06,127.96 257.90,126.71 257.90,124.21" fill="#ff4600"/>
<polygon points="264.39,122.96 266.56,124.21 266.56,126.71 264.39,127.96 262.23,126.71 262.23,124.21" fill="#ff4600"/>
<polygon points="268.73,122.96 270.89,124.21 270.89,126.71 268.73,127.96 266.56,126.71 266.56,124.21" fill="#fff000"/>
<polygon points="273.06,122.96 275.22,124.21 275.22,126.71 273.06,127.96 270.89,126.71 270.89,124.21" fill="#fff000"/>
<polygon points="277.38,122.96 279.55,124.21 279.55,126.71 277.38,127.96 275.22,126.71 275.22,124.21" fill="#ffb900"/>
<polygon points="281.71,122.96 283.88,124.21 283.88,126.71 281.71,127.96 279.55,126.71 279.55,124.21" fill="#fff000"/>
<polygon points="286.05,122.96 288.21,124.21 288.21,126.71 286.05,127.96 283.88,126.71 283.88,124.21" fill="#ffff70"/>
<polygon points="262.23,126.59 264.40,127.84 264.40,130.34 262.23,131.59 260.06,130.34 260.06,127.84" fill="#ff8400"/>
<polygon points="266.56,126.59 268.73,127.84 268.73,130.34 266.56,131.59 264.39,130.34 264.39,127.84" fill="#fff000"/>
<polygon points="270.89,126.59 273.06,127.84 273.06,130.34 270.89,131.59 268.73,130.34 268.73,127.84" fill="#fff000"/>
<polygon points="275.22,126.59 277.39,127.84 277.39,130.34 275.22,131.59 273.06,130.34 273.06,127.84" fill="#fff000"/>
<polygon points="279.55,126.59 281.72,127.84 281.72,130.34 279.55,131.59 277.38,130.34 277.38,127.84" fill="#ffb900"/>
<polygon points="283.88,126.59 286.05,127.84 286.05,130.34 283.88,131.59 281.71,130.34 281.71,127.84" fill="#ffffe8"/>
<polygon points="288.21,126.59 290.38,127.84 290.38,130.34 288.21,131.59 286.05,130.34 286.05,127.84" fill="#ffffe8"/>
<polygon points="260.06,130.22 262.23,131.47 262.23,133.97 260.06,135.22 257.90,133.97 257.90,131.47" fill="#ff0d00"/>
<polygon points="264.39,130.22 266.56,131.47 266.56,133.97 264.39,135.22 262.23,133.97 262.23,131.47" fill="#ff4600"/>
<polygon points="268.73,130.22 270.89,131.47 270.89,133.97 268.73,135.22 266.56,133.97 266.56,131.47" fill="#ff8400"/>
<polygon points="273.06,130.22 275.22,131.47 275.22,133.97 273.06,135.22 270.89,133.97 270.89,131.47" fill="#ffb900"/>
<polygon points="277.38,130.22 279.55,131.47 279.55,133.97 277.38,135.22 275.22,133.97 275.22,131.47" fill="#ff0d00"/>
<polygon points="281.71,130.22 283.88,131.47 283.88,133.97 281.71,135.22 279.55,133.97 279.55,131.47" fill="#fff000"/>
<polygon points="286.05,130.22 288.21,131.47 288.21,133.97 286.05,135.22 283.88,133.97 283.88,131.47" fill="#fff000"/>
<polygon points="262.23,133.85 264.40,135.10 264.40,137.60 262.23,138.85 260.06,137.60 260.06,135.10" fill="#ff0d00"/>
<polygon points="266.56,133.85 268.73,135.10 268.73,137.60 266.56,138.85 264.39,137.60 264.39,135.10" fill="#ff4600"/>
<polygon points="270.89,133.85 273.06,135.10 273.06,137.60 270.89,138.85 268.73,137.60 268.73,135.10" fill="#ff8400"/>
<polygon points="275.22,133.85 277.39,135.10 277.39,137.60 275.22,138.85 273.06,137.60 273.06,135.10" fill="#ff8400"/>
<polygon points="279.55,133.85 281.72,135.10 281.72,137.60 279.55,138.85 277.38,137.60 277.38,135.10" fill="#ffb900"/>
<polygon points="283.88,133.85 286.05,135.10 286.05,137.60 283.88,138.85 281.71,137.60 281.71,135.10" fill="#fff000"/>
<polygon points="288.21,133.85 290.38,135.10 290.38,137.60 288.21,138.85 286.05,137.60 286.05,135.10" fill="#ff0d00"/>
<polygon points="260.06,137.48 262.23,138.73 262.23,141.23 260.06,142.48 257.90,141.23 257.90,138.73" fill="#ff0d00"/>
<polygon points="264.39,137.48 266.56,138.73 266.56,141.23 264.39,142.48 262.23,141.23 262.23,138.73" fill="#ff0d00"/>
<polygon points="268.73,137.48 270.89,138.73 270.89,141.23 268.73,142.48 266.56,141.23 266.56,138.73" fill="#ff8400"/>
<polygon points="273.06,137.48 275.22,138.73 275.22,141.23 273.06,142.48 270.89,141.23 270.89,138.73" fill="#ff8400"/>
<polygon points="277.38,137.48 279.55,138.73 279.55,141.23 277.38,142.48 275.22,141.23 275.22,138.73" fill="#ffb900"/>
<polygon points="281.71,137.48 283.88,138.73 283.88,141.23 281.71,142.48 279.55,141.23 279.55,138.73" fill="#ff8400"/>
<polygon points="286.05,137.48 288.21,138.73 288.21,141.23 286.05,142.48 283.88,141.23 283.88,138.73" fill="#ff0d00"/>
<polygon points="262.23,141.11 264.40,142.36 264.40,144.86 262.23,146.11 260.06,144.86 260.06,142.36" fill="#ff0d00"/>
<polygon points="266.56,141.11 268.73,142.36 268.73,144.86 266.56,146.11 264.39,144.86 264.39,142.36" fill="#ff0d00"/>
<polygon points="270.89,141.11 273.06,142.36 273.06,144.86 270.89,146.11 268.73,144.86 268.73,142.36" fill="#ff0d00"/>
<polygon points="275.22,141.11 277.39,142.36 277.39,144.86 275.22,146.11 273.06,144.86 273.06,142.36" fill="#ff4600"/>
<polygon points="279.55,141.11 281.72,142.36 281.72,144.86 279.55,146.11 277.38,144.86 277.38,142.36" fill="#ff0d00"/>
<polygon points="283.88,141.11 286.05,142.36 286.05,144.86 283.88,146.11 281.71,144.86 281.71,142.36" fill="#ff0d00"/>
<polygon points="288.21,141.11 290.38,142.36 290.38,144.86 288.21,146.11 286.05,144.86 286.05,142.36" fill="#ff0d00"/>
<polygon points="260.06,144.74 262.23,145.99 262.23,148.49 260.06,149.74 257.90,148.49 257.90,145.99" fill="#ff0d00"/>
<polygon points="264.39,144.74 266.56,145.99 266.56,148.49 264.39,149.74 262.23,148.49 262.23,145.99" fill="#ff0d00"/>
<polygon points="268.73,144.74 270.89,145.99 270.89,148.49 268.73,149.74 266.56,148.49 266.56,145.99" fill="#ff0d00"/>
<polygon points="273.06,144.74 275.22,145.99 275.22,148.49 273.06,149.74 270.89,148.49 270.89,145.99" fill="#ff0d00"/>
<polygon points="277.38,144.74 279.55,145.99 279.55,148.49 277.38,149.74 275.22,148.49 275.22,145.99" fill="#ff0d00"/>
<polygon points="281.71,144.74 283.88,145.99 283.88,148.49 281.71,149.74 279.55,148.49 279.55,145.99" fill="#ff0d00"/>
<polygon points="286.05,144.74 288.21,145.99 288.21,148.49 286.05,149.74 283.88,148.49 283.88,145.99" fill="#ff0d00"/>
<polygon points="262.23,148.37 264.40,149.62 264.40,152.12 262.23,153.37 260.06,152.12 260.06,149.62" fill="#ff0d00"/>
<polygon points="266.56,148.37 268.73,149.62 268.73,152.12 266.56,153.37 264.39,152.12 264.39,149.62" fill="#ff0d00"/>
<polygon points="270.89,148.37 273.06,149.62 273.06,152.12 270.89,153.37 268.73,152.12 268.73,149.62" fill="#ff0d00"/>
<polygon points="275.22,148.37 277.39,149.62 277.39,152.12 275.22,153.37 273.06,152.12 273.06,149.62" fill="#ff0d00"/>
<polygon points="279.55,148.37 281.72,149.62 281.72,152.12 279.55,153.37 277.38,152.12 277.38,149.62" fill="#ff0d00"/>
<polygon points="283.88,148.37 286.05,149.62 286.05,152.12 283.88,153.37 281.71,152.12 281.71,149.62" fill="#ff0d00"/>
<polygon points="288.21,148.37 290.38,149.62 290.38,152.12 288.21,153.37 286.05,152.12 286.05,149.62" fill="#ff0d00"/>
</g></g>
<g>
<text x="334.9" y="113.0" font-size="5.3" fill="#111" stroke="#111" stroke-width="0.12" text-anchor="middle">Cast net</text>
<rect x="317.5" y="115.9" width="1.1" height="36.9" fill="url(#cb)"/>
<text x="316.7" y="122.2" font-size="1.9" fill="#999" text-anchor="end">0.8</text>
<text x="316.7" y="130.4" font-size="1.9" fill="#999" text-anchor="end">0.6</text>
<text x="316.7" y="138.6" font-size="1.9" fill="#999" text-anchor="end">0.4</text>
<text x="316.7" y="146.8" font-size="1.9" fill="#999" text-anchor="end">0.2</text>
<g stroke="#6a1208" stroke-opacity="0.8" stroke-width="0.5">
<polygon points="322.21,115.70 324.38,116.95 324.38,119.45 322.21,120.70 320.05,119.45 320.05,116.95" fill="#ff4600"/>
<polygon points="326.54,115.70 328.71,116.95 328.71,119.45 326.54,120.70 324.38,119.45 324.38,116.95" fill="#ff4600"/>
<polygon points="330.88,115.70 333.04,116.95 333.04,119.45 330.88,120.70 328.71,119.45 328.71,116.95" fill="#ff0d00"/>
<polygon points="335.20,115.70 337.37,116.95 337.37,119.45 335.20,120.70 333.04,119.45 333.04,116.95" fill="#ff4600"/>
<polygon points="339.53,115.70 341.70,116.95 341.70,119.45 339.53,120.70 337.37,119.45 337.37,116.95" fill="#ff4600"/>
<polygon points="343.86,115.70 346.03,116.95 346.03,119.45 343.86,120.70 341.70,119.45 341.70,116.95" fill="#ff4600"/>
<polygon points="348.19,115.70 350.36,116.95 350.36,119.45 348.19,120.70 346.03,119.45 346.03,116.95" fill="#ff8400"/>
<polygon points="324.38,119.33 326.55,120.58 326.55,123.08 324.38,124.33 322.21,123.08 322.21,120.58" fill="#ff4600"/>
<polygon points="328.71,119.33 330.88,120.58 330.88,123.08 328.71,124.33 326.54,123.08 326.54,120.58" fill="#ff0d00"/>
<polygon points="333.04,119.33 335.21,120.58 335.21,123.08 333.04,124.33 330.88,123.08 330.88,120.58" fill="#ff4600"/>
<polygon points="337.37,119.33 339.54,120.58 339.54,123.08 337.37,124.33 335.20,123.08 335.20,120.58" fill="#ff0d00"/>
<polygon points="341.70,119.33 343.87,120.58 343.87,123.08 341.70,124.33 339.53,123.08 339.53,120.58" fill="#ff0d00"/>
<polygon points="346.03,119.33 348.19,120.58 348.19,123.08 346.03,124.33 343.86,123.08 343.86,120.58" fill="#ff0d00"/>
<polygon points="350.36,119.33 352.53,120.58 352.53,123.08 350.36,124.33 348.19,123.08 348.19,120.58" fill="#ff0d00"/>
<polygon points="322.21,122.96 324.38,124.21 324.38,126.71 322.21,127.96 320.05,126.71 320.05,124.21" fill="#ffb900"/>
<polygon points="326.54,122.96 328.71,124.21 328.71,126.71 326.54,127.96 324.38,126.71 324.38,124.21" fill="#ffb900"/>
<polygon points="330.88,122.96 333.04,124.21 333.04,126.71 330.88,127.96 328.71,126.71 328.71,124.21" fill="#ff0d00"/>
<polygon points="335.20,122.96 337.37,124.21 337.37,126.71 335.20,127.96 333.04,126.71 333.04,124.21" fill="#ff0d00"/>
<polygon points="339.53,122.96 341.70,124.21 341.70,126.71 339.53,127.96 337.37,126.71 337.37,124.21" fill="#ff0d00"/>
<polygon points="343.86,122.96 346.03,124.21 346.03,126.71 343.86,127.96 341.70,126.71 341.70,124.21" fill="#ff0d00"/>
<polygon points="348.19,122.96 350.36,124.21 350.36,126.71 348.19,127.96 346.03,126.71 346.03,124.21" fill="#ff0d00"/>
<polygon points="324.38,126.59 326.55,127.84 326.55,130.34 324.38,131.59 322.21,130.34 322.21,127.84" fill="#ff8400"/>
<polygon points="328.71,126.59 330.88,127.84 330.88,130.34 328.71,131.59 326.54,130.34 326.54,127.84" fill="#ff4600"/>
<polygon points="333.04,126.59 335.21,127.84 335.21,130.34 333.04,131.59 330.88,130.34 330.88,127.84" fill="#ff0d00"/>
<polygon points="337.37,126.59 339.54,127.84 339.54,130.34 337.37,131.59 335.20,130.34 335.20,127.84" fill="#ff0d00"/>
<polygon points="341.70,126.59 343.87,127.84 343.87,130.34 341.70,131.59 339.53,130.34 339.53,127.84" fill="#ff0d00"/>
<polygon points="346.03,126.59 348.19,127.84 348.19,130.34 346.03,131.59 343.86,130.34 343.86,127.84" fill="#ff0d00"/>
<polygon points="350.36,126.59 352.53,127.84 352.53,130.34 350.36,131.59 348.19,130.34 348.19,127.84" fill="#ff0d00"/>
<polygon points="322.21,130.22 324.38,131.47 324.38,133.97 322.21,135.22 320.05,133.97 320.05,131.47" fill="#ffb900"/>
<polygon points="326.54,130.22 328.71,131.47 328.71,133.97 326.54,135.22 324.38,133.97 324.38,131.47" fill="#ffb900"/>
<polygon points="330.88,130.22 333.04,131.47 333.04,133.97 330.88,135.22 328.71,133.97 328.71,131.47" fill="#ff4600"/>
<polygon points="335.20,130.22 337.37,131.47 337.37,133.97 335.20,135.22 333.04,133.97 333.04,131.47" fill="#ff4600"/>
<polygon points="339.53,130.22 341.70,131.47 341.70,133.97 339.53,135.22 337.37,133.97 337.37,131.47" fill="#ff0d00"/>
<polygon points="343.86,130.22 346.03,131.47 346.03,133.97 343.86,135.22 341.70,133.97 341.70,131.47" fill="#ff0d00"/>
<polygon points="348.19,130.22 350.36,131.47 350.36,133.97 348.19,135.22 346.03,133.97 346.03,131.47" fill="#ff0d00"/>
<polygon points="324.38,133.85 326.55,135.10 326.55,137.60 324.38,138.85 322.21,137.60 322.21,135.10" fill="#ff8400"/>
<polygon points="328.71,133.85 330.88,135.10 330.88,137.60 328.71,138.85 326.54,137.60 326.54,135.10" fill="#ff4600"/>
<polygon points="333.04,133.85 335.21,135.10 335.21,137.60 333.04,138.85 330.88,137.60 330.88,135.10" fill="#ff4600"/>
<polygon points="337.37,133.85 339.54,135.10 339.54,137.60 337.37,138.85 335.20,137.60 335.20,135.10" fill="#ff0d00"/>
<polygon points="341.70,133.85 343.87,135.10 343.87,137.60 341.70,138.85 339.53,137.60 339.53,135.10" fill="#ff8400"/>
<polygon points="346.03,133.85 348.19,135.10 348.19,137.60 346.03,138.85 343.86,137.60 343.86,135.10" fill="#ff0d00"/>
<polygon points="350.36,133.85 352.53,135.10 352.53,137.60 350.36,138.85 348.19,137.60 348.19,135.10" fill="#ffffe8"/>
<polygon points="322.21,137.48 324.38,138.73 324.38,141.23 322.21,142.48 320.05,141.23 320.05,138.73" fill="#fff000"/>
<polygon points="326.54,137.48 328.71,138.73 328.71,141.23 326.54,142.48 324.38,141.23 324.38,138.73" fill="#ff8400"/>
<polygon points="330.88,137.48 333.04,138.73 333.04,141.23 330.88,142.48 328.71,141.23 328.71,138.73" fill="#ff4600"/>
<polygon points="335.20,137.48 337.37,138.73 337.37,141.23 335.20,142.48 333.04,141.23 333.04,138.73" fill="#ff4600"/>
<polygon points="339.53,137.48 341.70,138.73 341.70,141.23 339.53,142.48 337.37,141.23 337.37,138.73" fill="#ff0d00"/>
<polygon points="343.86,137.48 346.03,138.73 346.03,141.23 343.86,142.48 341.70,141.23 341.70,138.73" fill="#ff0d00"/>
<polygon points="348.19,137.48 350.36,138.73 350.36,141.23 348.19,142.48 346.03,141.23 346.03,138.73" fill="#ff0d00"/>
<polygon points="324.38,141.11 326.55,142.36 326.55,144.86 324.38,146.11 322.21,144.86 322.21,142.36" fill="#ff4600"/>
<polygon points="328.71,141.11 330.88,142.36 330.88,144.86 328.71,146.11 326.54,144.86 326.54,142.36" fill="#ff4600"/>
<polygon points="333.04,141.11 335.21,142.36 335.21,144.86 333.04,146.11 330.88,144.86 330.88,142.36" fill="#ff4600"/>
<polygon points="337.37,141.11 339.54,142.36 339.54,144.86 337.37,146.11 335.20,144.86 335.20,142.36" fill="#ff8400"/>
<polygon points="341.70,141.11 343.87,142.36 343.87,144.86 341.70,146.11 339.53,144.86 339.53,142.36" fill="#ff0d00"/>
<polygon points="346.03,141.11 348.19,142.36 348.19,144.86 346.03,146.11 343.86,144.86 343.86,142.36" fill="#ff0d00"/>
<polygon points="350.36,141.11 352.53,142.36 352.53,144.86 350.36,146.11 348.19,144.86 348.19,142.36" fill="#ff0d00"/>
<polygon points="322.21,144.74 324.38,145.99 324.38,148.49 322.21,149.74 320.05,148.49 320.05,145.99" fill="#ff0d00"/>
<polygon points="326.54,144.74 328.71,145.99 328.71,148.49 326.54,149.74 324.38,148.49 324.38,145.99" fill="#ff4600"/>
<polygon points="330.88,144.74 333.04,145.99 333.04,148.49 330.88,149.74 328.71,148.49 328.71,145.99" fill="#ff4600"/>
<polygon points="335.20,144.74 337.37,145.99 337.37,148.49 335.20,149.74 333.04,148.49 333.04,145.99" fill="#ff4600"/>
<polygon points="339.53,144.74 341.70,145.99 341.70,148.49 339.53,149.74 337.37,148.49 337.37,145.99" fill="#ff0d00"/>
<polygon points="343.86,144.74 346.03,145.99 346.03,148.49 343.86,149.74 341.70,148.49 341.70,145.99" fill="#ff0d00"/>
<polygon points="348.19,144.74 350.36,145.99 350.36,148.49 348.19,149.74 346.03,148.49 346.03,145.99" fill="#ff0d00"/>
<polygon points="324.38,148.37 326.55,149.62 326.55,152.12 324.38,153.37 322.21,152.12 322.21,149.62" fill="#ff0d00"/>
<polygon points="328.71,148.37 330.88,149.62 330.88,152.12 328.71,153.37 326.54,152.12 326.54,149.62" fill="#ff0d00"/>
<polygon points="333.04,148.37 335.21,149.62 335.21,152.12 333.04,153.37 330.88,152.12 330.88,149.62" fill="#ff0d00"/>
<polygon points="337.37,148.37 339.54,149.62 339.54,152.12 337.37,153.37 335.20,152.12 335.20,149.62" fill="#ff0d00"/>
<polygon points="341.70,148.37 343.87,149.62 343.87,152.12 341.70,153.37 339.53,152.12 339.53,149.62" fill="#ff0d00"/>
<polygon points="346.03,148.37 348.19,149.62 348.19,152.12 346.03,153.37 343.86,152.12 343.86,149.62" fill="#ff0d00"/>
<polygon points="350.36,148.37 352.53,149.62 352.53,152.12 350.36,153.37 348.19,152.12 348.19,149.62" fill="#ff0d00"/>
</g></g>
<g>
<text x="399.1" y="113.0" font-size="5.3" fill="#111" stroke="#111" stroke-width="0.12" text-anchor="middle">Kick net</text>
<rect x="379.7" y="115.9" width="1.1" height="36.9" fill="url(#cb)"/>
<text x="378.9" y="122.2" font-size="1.9" fill="#999" text-anchor="end">0.8</text>
<text x="378.9" y="130.4" font-size="1.9" fill="#999" text-anchor="end">0.6</text>
<text x="378.9" y="138.6" font-size="1.9" fill="#999" text-anchor="end">0.4</text>
<text x="378.9" y="146.8" font-size="1.9" fill="#999" text-anchor="end">0.2</text>
<g stroke="#6a1208" stroke-opacity="0.8" stroke-width="0.5">
<polygon points="384.37,115.70 386.53,116.95 386.53,119.45 384.37,120.70 382.20,119.45 382.20,116.95" fill="#ff0d00"/>
<polygon points="388.69,115.70 390.86,116.95 390.86,119.45 388.69,120.70 386.53,119.45 386.53,116.95" fill="#ff0d00"/>
<polygon points="393.03,115.70 395.19,116.95 395.19,119.45 393.03,120.70 390.86,119.45 390.86,116.95" fill="#ff0d00"/>
<polygon points="397.36,115.70 399.52,116.95 399.52,119.45 397.36,120.70 395.19,119.45 395.19,116.95" fill="#ff0d00"/>
<polygon points="401.69,115.70 403.85,116.95 403.85,119.45 401.69,120.70 399.52,119.45 399.52,116.95" fill="#ff0d00"/>
<polygon points="406.01,115.70 408.18,116.95 408.18,119.45 406.01,120.70 403.85,119.45 403.85,116.95" fill="#ff0d00"/>
<polygon points="410.35,115.70 412.51,116.95 412.51,119.45 410.35,120.70 408.18,119.45 408.18,116.95" fill="#ff0d00"/>
<polygon points="386.53,119.33 388.70,120.58 388.70,123.08 386.53,124.33 384.37,123.08 384.37,120.58" fill="#ff0d00"/>
<polygon points="390.86,119.33 393.03,120.58 393.03,123.08 390.86,124.33 388.69,123.08 388.69,120.58" fill="#ff0d00"/>
<polygon points="395.19,119.33 397.36,120.58 397.36,123.08 395.19,124.33 393.03,123.08 393.03,120.58" fill="#ff0d00"/>
<polygon points="399.52,119.33 401.69,120.58 401.69,123.08 399.52,124.33 397.36,123.08 397.36,120.58" fill="#ff0d00"/>
<polygon points="403.85,119.33 406.02,120.58 406.02,123.08 403.85,124.33 401.69,123.08 401.69,120.58" fill="#ff0d00"/>
<polygon points="408.18,119.33 410.35,120.58 410.35,123.08 408.18,124.33 406.01,123.08 406.01,120.58" fill="#ff0d00"/>
<polygon points="412.51,119.33 414.68,120.58 414.68,123.08 412.51,124.33 410.35,123.08 410.35,120.58" fill="#ff0d00"/>
<polygon points="384.37,122.96 386.53,124.21 386.53,126.71 384.37,127.96 382.20,126.71 382.20,124.21" fill="#ff0d00"/>
<polygon points="388.69,122.96 390.86,124.21 390.86,126.71 388.69,127.96 386.53,126.71 386.53,124.21" fill="#ff0d00"/>
<polygon points="393.03,122.96 395.19,124.21 395.19,126.71 393.03,127.96 390.86,126.71 390.86,124.21" fill="#ff0d00"/>
<polygon points="397.36,122.96 399.52,124.21 399.52,126.71 397.36,127.96 395.19,126.71 395.19,124.21" fill="#ff0d00"/>
<polygon points="401.69,122.96 403.85,124.21 403.85,126.71 401.69,127.96 399.52,126.71 399.52,124.21" fill="#ff0d00"/>
<polygon points="406.01,122.96 408.18,124.21 408.18,126.71 406.01,127.96 403.85,126.71 403.85,124.21" fill="#ff0d00"/>
<polygon points="410.35,122.96 412.51,124.21 412.51,126.71 410.35,127.96 408.18,126.71 408.18,124.21" fill="#ff0d00"/>
<polygon points="386.53,126.59 388.70,127.84 388.70,130.34 386.53,131.59 384.37,130.34 384.37,127.84" fill="#ff0d00"/>
<polygon points="390.86,126.59 393.03,127.84 393.03,130.34 390.86,131.59 388.69,130.34 388.69,127.84" fill="#ff0d00"/>
<polygon points="395.19,126.59 397.36,127.84 397.36,130.34 395.19,131.59 393.03,130.34 393.03,127.84" fill="#ff0d00"/>
<polygon points="399.52,126.59 401.69,127.84 401.69,130.34 399.52,131.59 397.36,130.34 397.36,127.84" fill="#ff0d00"/>
<polygon points="403.85,126.59 406.02,127.84 406.02,130.34 403.85,131.59 401.69,130.34 401.69,127.84" fill="#ff0d00"/>
<polygon points="408.18,126.59 410.35,127.84 410.35,130.34 408.18,131.59 406.01,130.34 406.01,127.84" fill="#ff0d00"/>
<polygon points="412.51,126.59 414.68,127.84 414.68,130.34 412.51,131.59 410.35,130.34 410.35,127.84" fill="#ff0d00"/>
<polygon points="384.37,130.22 386.53,131.47 386.53,133.97 384.37,135.22 382.20,133.97 382.20,131.47" fill="#ff0d00"/>
<polygon points="388.69,130.22 390.86,131.47 390.86,133.97 388.69,135.22 386.53,133.97 386.53,131.47" fill="#ff0d00"/>
<polygon points="393.03,130.22 395.19,131.47 395.19,133.97 393.03,135.22 390.86,133.97 390.86,131.47" fill="#ff8400"/>
<polygon points="397.36,130.22 399.52,131.47 399.52,133.97 397.36,135.22 395.19,133.97 395.19,131.47" fill="#ff0d00"/>
<polygon points="401.69,130.22 403.85,131.47 403.85,133.97 401.69,135.22 399.52,133.97 399.52,131.47" fill="#ff0d00"/>
<polygon points="406.01,130.22 408.18,131.47 408.18,133.97 406.01,135.22 403.85,133.97 403.85,131.47" fill="#ff0d00"/>
<polygon points="410.35,130.22 412.51,131.47 412.51,133.97 410.35,135.22 408.18,133.97 408.18,131.47" fill="#ff0d00"/>
<polygon points="386.53,133.85 388.70,135.10 388.70,137.60 386.53,138.85 384.37,137.60 384.37,135.10" fill="#ff0d00"/>
<polygon points="390.86,133.85 393.03,135.10 393.03,137.60 390.86,138.85 388.69,137.60 388.69,135.10" fill="#ff4600"/>
<polygon points="395.19,133.85 397.36,135.10 397.36,137.60 395.19,138.85 393.03,137.60 393.03,135.10" fill="#ff8400"/>
<polygon points="399.52,133.85 401.69,135.10 401.69,137.60 399.52,138.85 397.36,137.60 397.36,135.10" fill="#ffb900"/>
<polygon points="403.85,133.85 406.02,135.10 406.02,137.60 403.85,138.85 401.69,137.60 401.69,135.10" fill="#ff0d00"/>
<polygon points="408.18,133.85 410.35,135.10 410.35,137.60 408.18,138.85 406.01,137.60 406.01,135.10" fill="#ff0d00"/>
<polygon points="412.51,133.85 414.68,135.10 414.68,137.60 412.51,138.85 410.35,137.60 410.35,135.10" fill="#ff0d00"/>
<polygon points="384.37,137.48 386.53,138.73 386.53,141.23 384.37,142.48 382.20,141.23 382.20,138.73" fill="#ff0d00"/>
<polygon points="388.69,137.48 390.86,138.73 390.86,141.23 388.69,142.48 386.53,141.23 386.53,138.73" fill="#ff0d00"/>
<polygon points="393.03,137.48 395.19,138.73 395.19,141.23 393.03,142.48 390.86,141.23 390.86,138.73" fill="#ff0d00"/>
<polygon points="397.36,137.48 399.52,138.73 399.52,141.23 397.36,142.48 395.19,141.23 395.19,138.73" fill="#ff0d00"/>
<polygon points="401.69,137.48 403.85,138.73 403.85,141.23 401.69,142.48 399.52,141.23 399.52,138.73" fill="#ff0d00"/>
<polygon points="406.01,137.48 408.18,138.73 408.18,141.23 406.01,142.48 403.85,141.23 403.85,138.73" fill="#ffffe8"/>
<polygon points="410.35,137.48 412.51,138.73 412.51,141.23 410.35,142.48 408.18,141.23 408.18,138.73" fill="#ff0d00"/>
<polygon points="386.53,141.11 388.70,142.36 388.70,144.86 386.53,146.11 384.37,144.86 384.37,142.36" fill="#ff0d00"/>
<polygon points="390.86,141.11 393.03,142.36 393.03,144.86 390.86,146.11 388.69,144.86 388.69,142.36" fill="#ff0d00"/>
<polygon points="395.19,141.11 397.36,142.36 397.36,144.86 395.19,146.11 393.03,144.86 393.03,142.36" fill="#ff0d00"/>
<polygon points="399.52,141.11 401.69,142.36 401.69,144.86 399.52,146.11 397.36,144.86 397.36,142.36" fill="#ff0d00"/>
<polygon points="403.85,141.11 406.02,142.36 406.02,144.86 403.85,146.11 401.69,144.86 401.69,142.36" fill="#ff0d00"/>
<polygon points="408.18,141.11 410.35,142.36 410.35,144.86 408.18,146.11 406.01,144.86 406.01,142.36" fill="#ff4600"/>
<polygon points="412.51,141.11 414.68,142.36 414.68,144.86 412.51,146.11 410.35,144.86 410.35,142.36" fill="#ff8400"/>
<polygon points="384.37,144.74 386.53,145.99 386.53,148.49 384.37,149.74 382.20,148.49 382.20,145.99" fill="#ffb900"/>
<polygon points="388.69,144.74 390.86,145.99 390.86,148.49 388.69,149.74 386.53,148.49 386.53,145.99" fill="#fff000"/>
<polygon points="393.03,144.74 395.19,145.99 395.19,148.49 393.03,149.74 390.86,148.49 390.86,145.99" fill="#ff0d00"/>
<polygon points="397.36,144.74 399.52,145.99 399.52,148.49 397.36,149.74 395.19,148.49 395.19,145.99" fill="#ff0d00"/>
<polygon points="401.69,144.74 403.85,145.99 403.85,148.49 401.69,149.74 399.52,148.49 399.52,145.99" fill="#ff0d00"/>
<polygon points="406.01,144.74 408.18,145.99 408.18,148.49 406.01,149.74 403.85,148.49 403.85,145.99" fill="#ff0d00"/>
<polygon points="410.35,144.74 412.51,145.99 412.51,148.49 410.35,149.74 408.18,148.49 408.18,145.99" fill="#ff8400"/>
<polygon points="386.53,148.37 388.70,149.62 388.70,152.12 386.53,153.37 384.37,152.12 384.37,149.62" fill="#ffff70"/>
<polygon points="390.86,148.37 393.03,149.62 393.03,152.12 390.86,153.37 388.69,152.12 388.69,149.62" fill="#ffff70"/>
<polygon points="395.19,148.37 397.36,149.62 397.36,152.12 395.19,153.37 393.03,152.12 393.03,149.62" fill="#fff000"/>
<polygon points="399.52,148.37 401.69,149.62 401.69,152.12 399.52,153.37 397.36,152.12 397.36,149.62" fill="#ffb900"/>
<polygon points="403.85,148.37 406.02,149.62 406.02,152.12 403.85,153.37 401.69,152.12 401.69,149.62" fill="#ff8400"/>
<polygon points="408.18,148.37 410.35,149.62 410.35,152.12 408.18,153.37 406.01,152.12 406.01,149.62" fill="#ffff70"/>
<polygon points="412.51,148.37 414.68,149.62 414.68,152.12 412.51,153.37 410.35,152.12 410.35,149.62" fill="#ff0d00"/>
</g></g>
<rect x="49.5" y="170.4" width="217.1" height="156.0" fill="none" stroke="#303030" stroke-width="0.9"/>
<path d="M47.1 170.4H49.5" stroke="#333" stroke-width="0.6"/>
<text x="41.2" y="173.0" font-size="6.45" fill="#1c1c1c" stroke="#1c1c1c" stroke-width="0.05" text-anchor="end">250</text>
<path d="M47.1 196.8H49.5" stroke="#333" stroke-width="0.6"/>
<text x="41.2" y="199.4" font-size="6.45" fill="#1c1c1c" stroke="#1c1c1c" stroke-width="0.05" text-anchor="end">200</text>
<path d="M47.1 223.1H49.5" stroke="#333" stroke-width="0.6"/>
<text x="41.2" y="225.7" font-size="6.45" fill="#1c1c1c" stroke="#1c1c1c" stroke-width="0.05" text-anchor="end">150</text>
<path d="M47.1 249.5H49.5" stroke="#333" stroke-width="0.6"/>
<text x="41.2" y="252.1" font-size="6.45" fill="#1c1c1c" stroke="#1c1c1c" stroke-width="0.05" text-anchor="end">100</text>
<path d="M47.1 275.8H49.5" stroke="#333" stroke-width="0.6"/>
<text x="41.2" y="278.4" font-size="6.45" fill="#1c1c1c" stroke="#1c1c1c" stroke-width="0.05" text-anchor="end">50</text>
<path d="M47.1 302.2H49.5" stroke="#333" stroke-width="0.6"/>
<text x="41.2" y="304.8" font-size="6.45" fill="#1c1c1c" stroke="#1c1c1c" stroke-width="0.05" text-anchor="end">0</text>
<path d="M93.1 326.4v2.4" stroke="#333" stroke-width="0.6"/>
<text x="93.1" y="336.6" font-size="6" fill="#1c1c1c" stroke="#1c1c1c" stroke-width="0.12" text-anchor="middle">Cluster 1</text>
<path d="M136.4 326.4v2.4" stroke="#333" stroke-width="0.6"/>
<text x="136.4" y="336.6" font-size="6" fill="#1c1c1c" stroke="#1c1c1c" stroke-width="0.12" text-anchor="middle">Cluster 2</text>
<path d="M179.7 326.4v2.4" stroke="#333" stroke-width="0.6"/>
<text x="179.7" y="336.6" font-size="6" fill="#1c1c1c" stroke="#1c1c1c" stroke-width="0.12" text-anchor="middle">Cluster 3</text>
<path d="M223.1 326.4v2.4" stroke="#333" stroke-width="0.6"/>
<text x="223.1" y="336.6" font-size="6" fill="#1c1c1c" stroke="#1c1c1c" stroke-width="0.12" text-anchor="middle">Cluster 4</text>
<text x="158.1" y="350.6" font-size="7.4" fill="#1c1c1c" stroke="#1c1c1c" stroke-width="0.15" text-anchor="middle">Cluster</text>
<text transform="translate(26.6,247.9) rotate(-90)" font-size="7.5" fill="#1c1c1c" stroke="#1c1c1c" stroke-width="0.15" text-anchor="middle">Standard length of <tspan font-style="italic">L. macrochirus</tspan> (mm)</text>
<circle cx="93.1" cy="269.3" r="1.85" fill="#000"/>
<circle cx="93.1" cy="291.0" r="1.85" fill="#000"/>
<g stroke="#484848" stroke-width="0.8">
<path d="M93.1 270.1V275.7M93.1 289.7V290.4M89.0 270.1h8.2M89.0 290.4h8.2" fill="none" stroke="#5a5a5a" stroke-width="0.65"/>
<rect x="80.0" y="275.7" width="26.3" height="14.0" fill="#bfbfbf"/>
<path d="M80.0 282.3h26.3" stroke-width="1.1"/>
</g>
<circle cx="136.4" cy="246.8" r="1.85" fill="#000"/>
<circle cx="136.4" cy="268.2" r="1.85" fill="#000"/>
<g stroke="#484848" stroke-width="0.8">
<path d="M136.4 247.8V257.8M136.4 267.2V267.9M132.3 247.8h8.2M132.3 267.9h8.2" fill="none" stroke="#5a5a5a" stroke-width="0.65"/>
<rect x="123.3" y="257.8" width="26.3" height="9.4" fill="#bfbfbf"/>
<path d="M123.3 262.6h26.3" stroke-width="1.1"/>
</g>
<circle cx="179.7" cy="222.3" r="1.85" fill="#000"/>
<circle cx="179.7" cy="243.5" r="1.85" fill="#000"/>
<g stroke="#484848" stroke-width="0.8">
<path d="M179.7 225.1V230.7M179.7 240.4V241.9M175.6 225.1h8.2M175.6 241.9h8.2" fill="none" stroke="#5a5a5a" stroke-width="0.65"/>
<rect x="166.6" y="230.7" width="26.3" height="9.7" fill="#bfbfbf"/>
<path d="M166.6 235.8h26.3" stroke-width="1.1"/>
</g>
<circle cx="223.1" cy="200.0" r="1.85" fill="#000"/>
<circle cx="223.1" cy="219.3" r="1.85" fill="#000"/>
<g stroke="#484848" stroke-width="0.8">
<path d="M223.1 203.8V211.7M223.1 216.0V217.0M219.0 203.8h8.2M219.0 217.0h8.2" fill="none" stroke="#5a5a5a" stroke-width="0.65"/>
<rect x="210.0" y="211.7" width="26.3" height="4.3" fill="#bfbfbf"/>
<path d="M210.0 213.4h26.3" stroke-width="1.1"/>
</g>
<text x="92.6" y="234.2" font-size="7.4" fill="#1c1c1c" stroke="#1c1c1c" stroke-width="0.18" text-anchor="middle">KN: 8.9</text>
<text x="92.6" y="243.2" font-size="7.4" fill="#1c1c1c" stroke="#1c1c1c" stroke-width="0.18" text-anchor="middle">CN: 4.1</text>
<text x="92.6" y="252.2" font-size="7.4" fill="#1c1c1c" stroke="#1c1c1c" stroke-width="0.18" text-anchor="middle">GN: 6.1</text>
<text x="92.6" y="261.2" font-size="7.4" fill="#1c1c1c" stroke="#1c1c1c" stroke-width="0.18" text-anchor="middle">FN: 81.0</text>
<text x="136.2" y="211.3" font-size="7.4" fill="#1c1c1c" stroke="#1c1c1c" stroke-width="0.18" text-anchor="middle">KN: 12.0</text>
<text x="136.2" y="220.3" font-size="7.4" fill="#1c1c1c" stroke="#1c1c1c" stroke-width="0.18" text-anchor="middle">CN: 12.5</text>
<text x="136.2" y="229.3" font-size="7.4" fill="#1c1c1c" stroke="#1c1c1c" stroke-width="0.18" text-anchor="middle">GN: 42.9</text>
<text x="136.2" y="238.3" font-size="7.4" fill="#1c1c1c" stroke="#1c1c1c" stroke-width="0.18" text-anchor="middle">FN: 32.6</text>
<text x="179.0" y="186.6" font-size="7.4" fill="#1c1c1c" stroke="#1c1c1c" stroke-width="0.18" text-anchor="middle">KN: 0.0</text>
<text x="179.0" y="195.6" font-size="7.4" fill="#1c1c1c" stroke="#1c1c1c" stroke-width="0.18" text-anchor="middle">CN: 0.7</text>
<text x="179.0" y="204.6" font-size="7.4" fill="#1c1c1c" stroke="#1c1c1c" stroke-width="0.18" text-anchor="middle">GN: 52.7</text>
<text x="179.0" y="213.6" font-size="7.4" fill="#1c1c1c" stroke="#1c1c1c" stroke-width="0.18" text-anchor="middle">FN: 46.6</text>
<text x="223.0" y="238.7" font-size="7.4" fill="#1c1c1c" stroke="#1c1c1c" stroke-width="0.18" text-anchor="middle">KN: 0.0</text>
<text x="223.0" y="247.7" font-size="7.4" fill="#1c1c1c" stroke="#1c1c1c" stroke-width="0.18" text-anchor="middle">CN: 0.0</text>
<text x="223.0" y="256.7" font-size="7.4" fill="#1c1c1c" stroke="#1c1c1c" stroke-width="0.18" text-anchor="middle">GN: 73.9</text>
<text x="223.0" y="265.7" font-size="7.4" fill="#1c1c1c" stroke="#1c1c1c" stroke-width="0.18" text-anchor="middle">FN: 26.1</text>
<rect x="316.2" y="170.4" width="217.2" height="156.0" fill="none" stroke="#303030" stroke-width="0.9"/>
<path d="M313.8 170.4H316.2" stroke="#333" stroke-width="0.6"/>
<text x="308.9" y="173.0" font-size="6.25" fill="#1c1c1c" stroke="#1c1c1c" stroke-width="0.05" text-anchor="end">500</text>
<path d="M313.8 196.6H316.2" stroke="#333" stroke-width="0.6"/>
<text x="308.9" y="199.2" font-size="6.25" fill="#1c1c1c" stroke="#1c1c1c" stroke-width="0.05" text-anchor="end">400</text>
<path d="M313.8 222.9H316.2" stroke="#333" stroke-width="0.6"/>
<text x="308.9" y="225.5" font-size="6.25" fill="#1c1c1c" stroke="#1c1c1c" stroke-width="0.05" text-anchor="end">300</text>
<path d="M313.8 249.1H316.2" stroke="#333" stroke-width="0.6"/>
<text x="308.9" y="251.7" font-size="6.25" fill="#1c1c1c" stroke="#1c1c1c" stroke-width="0.05" text-anchor="end">200</text>
<path d="M313.8 276.3H316.2" stroke="#333" stroke-width="0.6"/>
<text x="308.9" y="278.9" font-size="6.25" fill="#1c1c1c" stroke="#1c1c1c" stroke-width="0.05" text-anchor="end">100</text>
<path d="M313.8 302.6H316.2" stroke="#333" stroke-width="0.6"/>
<text x="308.9" y="305.2" font-size="6.25" fill="#1c1c1c" stroke="#1c1c1c" stroke-width="0.05" text-anchor="end">0</text>
<path d="M359.7 326.4v2.4" stroke="#333" stroke-width="0.6"/>
<text x="359.7" y="336.6" font-size="6" fill="#1c1c1c" stroke="#1c1c1c" stroke-width="0.12" text-anchor="middle">Cluster 1</text>
<path d="M403.0 326.4v2.4" stroke="#333" stroke-width="0.6"/>
<text x="403.0" y="336.6" font-size="6" fill="#1c1c1c" stroke="#1c1c1c" stroke-width="0.12" text-anchor="middle">Cluster 2</text>
<path d="M446.3 326.4v2.4" stroke="#333" stroke-width="0.6"/>
<text x="446.3" y="336.6" font-size="6" fill="#1c1c1c" stroke="#1c1c1c" stroke-width="0.12" text-anchor="middle">Cluster 3</text>
<path d="M489.6 326.4v2.4" stroke="#333" stroke-width="0.6"/>
<text x="489.6" y="336.6" font-size="6" fill="#1c1c1c" stroke="#1c1c1c" stroke-width="0.12" text-anchor="middle">Cluster 4</text>
<text x="424.8" y="350.6" font-size="7.4" fill="#1c1c1c" stroke="#1c1c1c" stroke-width="0.15" text-anchor="middle">Cluster</text>
<text transform="translate(291.6,247.9) rotate(-90)" font-size="7.5" fill="#1c1c1c" stroke="#1c1c1c" stroke-width="0.15" text-anchor="middle">Standard length of <tspan font-style="italic">M. salmoides</tspan> (mm)</text>
<circle cx="359.7" cy="285.4" r="1.85" fill="#000"/>
<circle cx="359.7" cy="296.3" r="1.85" fill="#000"/>
<g stroke="#484848" stroke-width="0.8">
<path d="M359.7 285.6V285.9M359.7 291.2V292.5M355.59999999999997 285.6h8.2M355.59999999999997 292.5h8.2" fill="none" stroke="#5a5a5a" stroke-width="0.65"/>
<rect x="346.6" y="285.9" width="26.3" height="5.3" fill="#bfbfbf"/>
<path d="M346.6 287.9h26.3" stroke-width="1.1"/>
</g>
<circle cx="403.0" cy="272.5" r="1.85" fill="#000"/>
<circle cx="403.0" cy="284.2" r="1.85" fill="#000"/>
<g stroke="#484848" stroke-width="0.8">
<path d="M403.0 273.8V275.3M403.0 281.7V283.0M398.9 273.8h8.2M398.9 283.0h8.2" fill="none" stroke="#5a5a5a" stroke-width="0.65"/>
<rect x="389.9" y="275.3" width="26.3" height="6.4" fill="#bfbfbf"/>
<path d="M389.9 278.4h26.3" stroke-width="1.1"/>
</g>
<circle cx="446.3" cy="251.4" r="1.85" fill="#000"/>
<circle cx="446.3" cy="268.7" r="1.85" fill="#000"/>
<g stroke="#484848" stroke-width="0.8">
<path d="M446.3 253.4V256.0M446.3 266.7V267.6M442.2 253.4h8.2M442.2 267.6h8.2" fill="none" stroke="#5a5a5a" stroke-width="0.65"/>
<rect x="433.2" y="256.0" width="26.3" height="10.7" fill="#bfbfbf"/>
<path d="M433.2 262.8h26.3" stroke-width="1.1"/>
</g>
<g stroke="#484848" stroke-width="0.8">
<path d="M489.6 192.6V208.3M489.6 231.2V242.7M485.5 192.6h8.2M485.5 242.7h8.2" fill="none" stroke="#5a5a5a" stroke-width="0.65"/>
<rect x="476.5" y="208.3" width="26.3" height="22.9" fill="#bfbfbf"/>
<path d="M476.5 219.3h26.3" stroke-width="1.1"/>
</g>
<text x="359.3" y="242.3" font-size="7.4" fill="#1c1c1c" stroke="#1c1c1c" stroke-width="0.18" text-anchor="middle">KN: 5.3</text>
<text x="359.3" y="251.3" font-size="7.4" fill="#1c1c1c" stroke="#1c1c1c" stroke-width="0.18" text-anchor="middle">CN: 60.5</text>
<text x="359.3" y="260.3" font-size="7.4" fill="#1c1c1c" stroke="#1c1c1c" stroke-width="0.18" text-anchor="middle">GN: 0.0</text>
<text x="359.3" y="269.3" font-size="7.4" fill="#1c1c1c" stroke="#1c1c1c" stroke-width="0.18" text-anchor="middle">FN: 34.2</text>
<text x="402.5" y="227.8" font-size="7.4" fill="#1c1c1c" stroke="#1c1c1c" stroke-width="0.18" text-anchor="middle">KN: 1.4</text>
<text x="402.5" y="236.8" font-size="7.4" fill="#1c1c1c" stroke="#1c1c1c" stroke-width="0.18" text-anchor="middle">CN: 34.1</text>
<text x="402.5" y="245.8" font-size="7.4" fill="#1c1c1c" stroke="#1c1c1c" stroke-width="0.18" text-anchor="middle">GN: 23.7</text>
<text x="402.5" y="254.8" font-size="7.4" fill="#1c1c1c" stroke="#1c1c1c" stroke-width="0.18" text-anchor="middle">FN: 40.8</text>
<text x="445.6" y="209.5" font-size="7.4" fill="#1c1c1c" stroke="#1c1c1c" stroke-width="0.18" text-anchor="middle">KN: 0.0</text>
<text x="445.6" y="218.5" font-size="7.4" fill="#1c1c1c" stroke="#1c1c1c" stroke-width="0.18" text-anchor="middle">CN: 54.2</text>
<text x="445.6" y="227.5" font-size="7.4" fill="#1c1c1c" stroke="#1c1c1c" stroke-width="0.18" text-anchor="middle">GN: 37.5</text>
<text x="445.6" y="236.5" font-size="7.4" fill="#1c1c1c" stroke="#1c1c1c" stroke-width="0.18" text-anchor="middle">FN: 8.3</text>
<text x="489.6" y="257.8" font-size="7.4" fill="#1c1c1c" stroke="#1c1c1c" stroke-width="0.18" text-anchor="middle">KN: 0.0</text>
<text x="489.6" y="266.8" font-size="7.4" fill="#1c1c1c" stroke="#1c1c1c" stroke-width="0.18" text-anchor="middle">CN: 64.3</text>
<text x="489.6" y="275.8" font-size="7.4" fill="#1c1c1c" stroke="#1c1c1c" stroke-width="0.18" text-anchor="middle">GN: 7.1</text>
<text x="489.6" y="284.8" font-size="7.4" fill="#1c1c1c" stroke="#1c1c1c" stroke-width="0.18" text-anchor="middle">FN: 28.6</text>
</svg></body></html>
